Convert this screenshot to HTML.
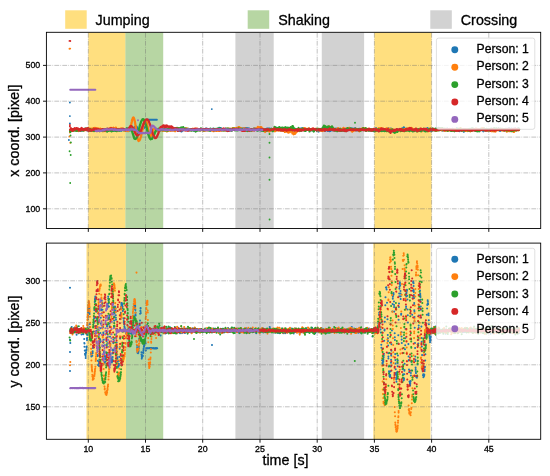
<!DOCTYPE html>
<html><head><meta charset="utf-8"><title>Coordinates over time</title>
<style>
html,body{margin:0;padding:0;background:#fff}
svg{display:block}
text{font-family:"Liberation Sans",sans-serif;fill:#000;stroke:#000;stroke-width:0.3px}
.tk{font-size:8.8px}
.lg{font-size:12.2px}
.ttl{font-size:14.3px}
</style></head><body>
<svg width="550" height="476" viewBox="0 0 550 476">
<rect width="550" height="476" fill="#fff"/>
<rect x="65.2" y="10.3" width="21.5" height="18.5" fill="#ffc000" fill-opacity="0.5"/>
<text x="95.6" y="24.9" class="ttl">Jumping</text>
<rect x="247.7" y="10.3" width="21.5" height="18.5" fill="#70ad47" fill-opacity="0.5"/>
<text x="278.2" y="24.9" class="ttl">Shaking</text>
<rect x="430.3" y="10.3" width="21.5" height="18.5" fill="#a5a5a5" fill-opacity="0.5"/>
<text x="460.8" y="24.9" class="ttl">Crossing</text>
<clipPath id="c1"><rect x="46.4" y="32.3" width="494.3" height="196.2"/></clipPath>
<g clip-path="url(#c1)">
<rect x="88.3" y="32.3" width="37.1" height="196.2" fill="#ffc000" fill-opacity="0.5"/>
<rect x="125.4" y="32.3" width="37.8" height="196.2" fill="#70ad47" fill-opacity="0.5"/>
<rect x="235.4" y="32.3" width="38.3" height="196.2" fill="#a5a5a5" fill-opacity="0.5"/>
<rect x="321.8" y="32.3" width="42.3" height="196.2" fill="#a5a5a5" fill-opacity="0.5"/>
<rect x="374.4" y="32.3" width="57.2" height="196.2" fill="#ffc000" fill-opacity="0.5"/>
<path d="M70.2,130.2l.4-.5 .4-.6 .3,1.2 .4,.6 .4,0 .4-.9 .4,0 .3,.2 .4,.3 .4-.7 .4-.4 .4,.7 .3,0 .4-.8 .4,.3 .4,.3 .4-.2 .3,.3 .4,.1 .4-.1 .4-.3 .4-.3 .3,.8 .4,.3 .4,.3 .4-.7 .4,.3 .3,.2 .4,.1 .4-.4 .4,.1 .4-.8 .3,.7 .4-.8 .4,.4 .4,.2 .4-.5 .3-.7 .4,.3 .4,.5 .4,.1 .4,.2 .3,0 .4,0 .4,.2 .4-.5 .4,.4 .3-.3 .4-.2 .4-.3 .4,.5 .4-.4 .3,1.3 .4-.9 .4-.1 .4-.1 .4,.7 .3-1.2 .4,.5 .4-.2 .4,0 .4,.3 .3,.5 .4-.7 .4,.5 .4,.6 .4-1.1 .3,.3 .4,.1 .4-.9 .4,.9 .4,.6 .3-.8 .4-.6 .4,.7 .4,0 .4,.5 .3,0 .4-.4 .4,.2 .4-.9 .4,.8 .3-.5 .4,.5 .4-.1 .4-.4 .4,.1 .3-.1 .4-.3 .4,.9 .4,0 .4-.6 .3,.6 .4-.4 .4,0 .4-.6 .4-.3 .3,1 .4-.1 .4-.5 .4-.1 .4,.1 .3,.3 .4-.1 .4-.7 .4,1.1 .4-.6 .3,.6 .4,.2 .4,.5 .4-.9 .4,1.1 .3-.2 .4,.1 .4,.2 .4-.8 .4-1 .3,1.1 .4,.3 .4-.2 .4-.6 .4,.1 .3,.2 .4-.7 .4,.5 .4,0 .4,.9 .3-1 .4,.8 .4-.7 .4-.6 .4,1.6 .3-1.2 .4,.4 .4,.6 .4-1.1 .4-.3 .3,.9 .4-.5 .4-.5 .4,0 .4,.2 .3,.4 .4-.2 .4,.4 .4,.2 .4-.1 .3-.1 .4,.2 .4-1.4 .4,1.3 .4-.3 .3-.3 .4-.3 .4-.1 .4,.3 .4,.5 .3-.3 .4,.1 .4,.1 .4,.5 .4-.3 .3-.1 .4,.1 .4-.5 .4-.3 .4-.6 .3-.2 .4-.5 .4-.4 .4-.4 .4-.4 .3,0 .4,.1 .4,.4 .4,.5 .4,.4 .3,1 .4,.6 .4,.8 .4,.6 .4,.4 .3,.7 .4,0 .4-.4 .4-.4 .4-.5 .3-.7 .4-.6 .4-.5 .4-.4 .4-.5 .3,.1 .4-.2 .4-.4 .4-.5 .4-.1 .3-.4 .4,0 .4-.3M157.2,129.8l.4,.5 .4-.4 .4-.4 .3,.6 .4,.2 .4,.1 .4-.5 .4-.7 .3,1.2 .4-.7 .4,.4 .4-.8 .4,.8 .3-.6 .4,.7 .4,.3 .4-.5 .4-.7 .3,0 .4-.2 .4,.6 .4-.2 .4,0 .3-.1 .4,.2 .4,.6 .4,.2 .4-.6 .3,0 .4-.8 .4,0 .4,.1 .4-.1 .3,.6 .4,.6 .4-.7 .4,0 .4,.4 .3,.1 .4-.4 .4,.3 .4,0 .4,.1 .3,.2 .4-.4 .4,0 .4,1.1 .4-.6 .3-.1 .4-.4 .4-.3 .4,.1 .4-.2 .3,.6 .4-.1 .4,.1 .4,.7 .4-.6 .3,.5 .4-.2 .4,.3 .4-.7 .4,.4 .3,1 .4-.8 .4-.1 .4-.5 .4,.2 .3-1.3 .4,.3 .4,.6 .4,.2 .4-.4 .3,.2 .4,0 .4-.4 .4-.4 .4,0 .3,.8 .4-.4 .4,.5 .4-.1 .4-.5 .3,.6 .4-.3 .4,.3 .4-.4 .4,.1 .3,.2 .4,0 .4-.4 .4,.4 .4,0 .3,0 .4,.6 .4-.8 .4,.4 .4,.1 .3-.4 .4-.4 .4,1 .4-.3 .4,.1 .3,0 .4-.1 .4-.5 .4,.4 .4-.8 .3,.8 .4-.8 .4,.4 .4,.4 .4-.2 .3-.5 .4,.5 .4-.4 .4-.1 .4,.1 .3,.8 .4-.3 .4,0 .4-.7 .4,.8 .3-.8 .4,.7 .4-.7 .4,1.1 .4-1.5 .3,1 .4,.2 .4-1.1 .4,.6 .4,.9 .3,.1 .4-.9 .4,.4 .4-.3 .4-.1 .3,.1 .4,1.1 .4-.7 .4-.5 .4-.2 .3,.2 .4,.2 .4-.7 .4,.7 .4-.9 .3,.3 .4,0 .4,.7 .4-.3 .4-.2 .3,.8 .4-.4 .4,0 .4-.3 .4-.3 .3,.4 .4,.2 .4-.7 .4,.4 .4-1.6 .3,.4 .4,1 .4-.7 .4-.4 .4,.4 .3,.6 .4-.1 .4,.6 .4-.4 .4,0 .3,.2 .4,.5 .4-.7 .4,.2 .4,.5 .3-.7 .4-.4 .4,.7 .4-.2 .4,0 .3,.5 .4-.4 .4,1.6 .4-1.5 .4-.2 .3-.3 .4,.6 .4,.8 .4-.6 .4,.1 .3-.7 .4,1.1 .4-.4 .4-.7 .4,.8 .3-.3 .4,0 .4-.4 .4,.2 .4-.1 .3-.4 .4-.2 .4,.3 .4-.4 .4,0 .3-.1 .4-.7 .4,.4 .4,.9 .4-.7 .3-.2 .4-.5 .4,.7 .4,.2 .4,0 .3-.2 .4,.1 .4,.1 .4,.3 .4,0 .3-.3 .4,.6 .4-.8 .4,.2 .4-.3 .3,.5 .4-.5 .4-.2 .4-.1 .4,.9 .3-.8 .4,1.1 .4-.5 .4-.5 .4,.6 .3,.6 .4-.7 .4-.4 .4,.7 .4,.3 .3,0 .4-.2 .4,.3 .4,.1 .4,.2 .3,.1 .4-.8 .4,.4 .4-.3 .4,.2 .3-.6 .4,.2 .4,.4 .4-.7 .4,.6 .3-.4 .4,.2 .4,.1 .4,.1 .4-.1 .3,.3 .4,.9 .4-1.8 .4,.6 .4,0 .3,0 .4,.7 .4-.4 .4,.3 .4,.6 .3-1.4 .4,1 .4,.2 .4-.6 .4,.5 .3-.1 .4-.2 .4,.6 .4-1 .4,.9 .3-.7 .4-.4 .4,.4 .4-.3 .4,.3 .3-1 .4,.4 .4-.1 .4,.7 .4-.9 .3,1.1 .4-1.1 .4,1.1 .4-.2 .4,.1 .3-.5 .4-.6 .4,.3 .4,1 .4-.2 .3-.4 .4,.4 .4-.5 .4,.3 .4-.3 .3,1.1 .4,0 .4-1.1 .4,.2 .4,.4 .3,.2 .4-2.1 .4,1.1 .4,.6 .4-.9 .3,.9 .4,0 .4,.2 .4-.4 .4,.6 .3-.6 .4,.6 .4-.2 .4-.4 .4-.2 .3,1.5 .4-.4 .4,.2 .4-.7 .4,.1 .3,1 .4-.4 .4-.6 .4,.5 .4,.2 .3-.1 .4-.6 .4,.6 .4-.2 .4-.5 .3-.5 .4,.2 .4,.2 .4,.1 .4-.2 .3,.4 .4-.4 .4-.3 .4-.7 .4,.5 .3-.2 .4,.6 .4,.3 .4,.5 .4-.7 .3-.4 .4,1.3 .4-.7 .4-.2 .4-.1 .3-.5 .4,.9 .4,.2 .4,.4 .4-.2 .3,.2 .4-.2 .4-.9 .4-.3 .4,.2 .3-.1 .4,.5 .4,.1 .4,.4 .4-.7 .3-1.1 .4,1 .4,.6 .4-1.5 .4,.7 .3,.1 .4-.4 .4,.6 .4,.1 .4-.7 .3,.8 .4-.1 .4-.5 .4,.3 .4,.6 .3-.5 .4,.2 .4,0 .4-.3 .4,.2 .3-.2 .4-.6 .4,.8 .4-.1 .4,.3 .3-.6 .4,.3 .4,.6 .4-.2 .4,.4 .3-.1 .4-.6 .4,.2 .4-.4 .4,.8 .3-.4 .4-.2 .4,.3 .4-.1 .4,.3 .3,.2 .4-.8 .4,.2 .4,.7 .4,.1 .3-.2 .4,1.2 .4-.7 .4-.7 .4,.4 .3,.1 .4-.5 .4-.8 .4,.6 .4-.1 .3,.7 .4-1.6 .4,1.5 .4-.8 .4,.4 .3-.2 .4,.1 .4,.6 .4-.3 .4,.3 .3-.7 .4-.1 .4,.2 .4,0 .4,.1 .3,.8 .4-.9 .4-.4 .4,.8 .4,.7 .3-.4 .4,0 .4,.2 .4-.7 .4,0 .3-1.1 .4,.7 .4,.5 .4-1 .4-.4 .3,.4 .4,.5 .4,.3 .4,.5 .4-.5 .3-1.1 .4-.2 .4,.9 .4,.2 .4-1.1 .3,.6 .4,.1 .4,.2 .4-.1 .4,.3 .3,.2 .4-.6 .4,.5 .4,.4 .4-1.3 .3,.3 .4,.6 .4,.6 .4-.8 .4,.1 .3-.5 .4,.7 .4-.7 .4,.7 .4-.2 .3-.1 .4,.5 .4-.2 .4-.5 .4,.5 .3-1.2 .4,.8 .4,.6 .4-1 .4-.1 .3-.1 .4,.3 .4-.7 .4,.9 .4-.5 .3-.2 .4,.5 .4,.2 .4-.8 .4,1.3 .3-.9 .4-.5 .4,1.1 .4-.5 .4,.2 .3,.4 .4-.8 .4-.9 .4,1 .4,.5 .3,.6 .4-.5 .4,.1 .4,.4 .4-.7 .3,.1 .4,0 .4-.7 .4,1 .4-1 .3,.5 .4,0 .4-.1 .4,.4 .4,.3 .3,.2 .4-.2 .4-.5 .4,.1 .4-1 .3,1 .4,.3 .4,0 .4-.6 .4,0 .3,1.3 .4-1 .4-.4 .4,.2 .4,.4 .3,.2 .4-.4 .4,.7 .4-.3 .4,.1 .3,.3 .4-.2 .4,.3 .4-.2 .4,.1 .3,.4 .4-.6 .4,.4 .4-.1 .4,.2 .3-.2 .4,.5 .4-.6 .4,0 .4,.5 .3-2.2 .4,.5 .4-.8 .4,1 .4,.4 .3,.6 .4,.5 .4-1 .4,1.1 .4-.5 .3,.4 .4-.2 .4,.3 .4-.5 .4,.1 .3-.1 .4-.2 .4-.3 .4,.5 .4-.4 .3-.3 .4,1.1 .4,0 .4,0 .4-.3 .3,.2 .4-.4 .4-.5 .4,.6 .4-1.4 .3,.1 .4,.1 .4-.1 .4,1.3 .4-2 .3,.3 .4,.4 .4,1.2 .4-1.4 .4,.2 .3,.8 .4-1.4 .4,.7 .4,.6 .4,.1 .3,.8 .4,.6 .4-.1 .4,.2 .4-.4 .3-.2 .4-.5 .4-.3 .4,1.2 .4-.5 .3,0 .4-1.1 .4,.3 .4,0 .4-.4 .3,.4 .4-.2 .4,0 .4-.4 .4,.3 .3-.3 .4,.2 .4-.5 .4-.1 .4,.6 .3-1 .4,.3 .4-.1 .4-.6 .4,.8 .3-1.6 .4,1.4 .4,.2 .4-.4 .4,.5 .3,.2 .4-.1 .4-.5 .4,.7 .4,.5 .3-.8 .4,.9 .4-.7 .4-.1 .4,.5 .3-.6 .4,.3 .4,.6 .4-.3 .4-.4 .3,.2 .4-.3 .4-.2 .4,.1 .4,.3 .3,.3 .4,1.4 .4-.7 .4-.1 .4,.3 .3-.3 .4,0 .4-1.3 .4,1 .4-.6 .3,.6 .4-.1 .4-.7 .4,1.5 .4-.7 .3,.1 .4-1.1 .4,.5 .4,.1 .4-.1 .3,.2 .4,1.3 .4-1 .4-.2 .4,.6 .3-.7 .4-.1 .4,.8 .4-.7 .4-.5 .3,.1 .4-.5 .4,0 .4,.4 .4-.1 .3,0 .4-.2 .4-.7 .4,.3 .4,.7 .3,.1 .4,.6 .4-.5 .4-.1 .4,.7 .3-1.2 .4,1 .4,1.3 .4-2.1 .4,1.2 .3-1.4 .4,.8 .4,.6 .4,0 .4-.9 .3-.1 .4-.1 .4,.6 .4-.9 .4,.6 .3,.2 .4,.1 .4-.2 .4-.3 .4-.4 .3,.8 .4-1.7 .4,1.8 .4-.6 .4,.3 .3-.1 .4,.4 .4,0 .4-.3 .4-.3 .3,1 .4-.6 .4,1 .4-.7 .4-.5 .3,.7 .4,.4 .4-.5 .4,.1 .4,.5 .3-1.2 .4,.1 .4,.5 .4-.5 .4-.8 .3,.4 .4,.8 .4,.2 .4-.1 .4-.1 .3-.5 .4,.7 .4,.3 .4-.9 .4,.7 .3-.5 .4-.1 .4,.2 .4-.8 .4,1.3 .3-.9 .4,.3 .4-.1 .4,.4 .4-.1 .3-.4 .4,.8 .4-.7 .4-.3 .4-.8 .3,1.1 .4,.1 .4-.1 .4,.2 .4,.6 .3,.6 .4,.1 .4-.3 .4-.9 .4,.3 .3-.7 .4,1.1 .4-.3 .4-.6 .4,.3 .3,0 .4,.2 .4,.8 .4,.7 .4-1 .3,.1 .4-.5 .4-.4 .4,1 .4-1.1 .3,.3 .4-.3 .4,.5 .4-.2 .4,.4 .3-.9 .4,.3 .4,.5 .4-.9 .4,.1 .3,.8 .4-.3 .4,.3 .4-1.5 .4,.9 .3-.6 .4,0 .4,.5 .4,.3 .4-.9 .3,.2 .4,0 .4,.1 .4-.4 .4,1.6 .3-.6 .4-.4 .4-.2 .4,1.3 .4,.1 .3-1.1 .4,.4 .4,.2 .4-1 .4,.2 .3,1 .4-.8 .4-.4 .4-.4 .4,.3 .3,.8 .4-.5 .4,.2 .4,.5 .4,1.1 .3-.6 .4-.6 .4,.4 .4,.1 .4-.2 .3-.8 .4,.9 .4-.4 .4,.4 .4-1 .3,1 .4-.7 .4-.4 .4,.9 .4-.8 .3,.1 .4-.2 .4,.6 .4,0 .4,0 .3-.1 .4-.7 .4-.2 .4,.9 .4-.7 .3,.5 .4,0 .4-.8 .4,.2 .4,.1 .3,0 .4,.2 .4,.4 .4,0 .4-.9 .3,.1 .4,1.1 .4-.4 .4,.1 .4-1.2 .3,.9 .4,.5 .4-.2 .4,1.1 .4-.6 .3,.2 .4-.3 .4-.1 .4-.2 .4-.4 .3,.1 .4,.4 .4,0 .4,.3 .4-1 .3,.5 .4,0 .4,.6 .4-1 .4,.4 .3-.7 .4,.5 .4-.1 .4-.4 .4,0 .3,0 .4,.3 .4-.8 .4,1.3 .4-.6 .3,.9 .4-.2 .4-.9 .4-.4 .4,1.3 .3-.6 .4-.2 .4-.3 .4,0 .4,.4 .3,.1 .4-.5 .4,1 .4-.5 .4-.3 .3,.8 .4-.4 .4,.5 .4-.6 .4,.2 .3-.7 .4,.7 .4-.9 .4,.6" stroke="#1f77b4" stroke-width="2.3" stroke-linecap="round" stroke-linejoin="round" fill="none"/>
<path d="M69.9,102.5h0M69.9,116.1h0M69.9,123.4h0M68.9,140h0M211.8,109.1h0M146.6,119.8H156.9" stroke="#1f77b4" stroke-width="1.9" stroke-linecap="round" fill="none"/>
<path d="M70.2,129.9l.4,0 .4,.8 .3-.3 .4-.6 .4,.6 .4-.2 .4,.6 .3-1.6 .4,.4 .4,0 .4,.4 .4-.2 .3-.3 .4-.3 .4,.9 .4,.7 .4,.1 .3-.8 .4,.4 .4-.5 .4-.3 .4,1.3 .3-.5 .4-.4 .4-.4 .4,.5 .4-.5 .3,0 .4,.2 .4-.1 .4-.3 .4-.1 .3,.7 .4-.8 .4-.1 .4,1.1 .4-.1 .3,.2 .4-.5 .4,.2 .4-1.1 .4,.7 .3-.2 .4,0 .4,.2 .4-.8 .4,.3 .3-1 .4,.7 .4,0 .4-.3 .4,.3 .3,.1 .4-.2 .4,.3 .4-.5 .4,.9 .3-.4 .4-.3 .4,.7 .4-1.2 .4,1.1 .3-.4 .4,.1 .4-1.2 .4,.1 .4,.3 .3,.4 .4,0 .4,0 .4,0 .4-.3 .3-.1 .4,.5 .4,.3 .4,.6 .4-.8 .3,.9 .4-1.1 .4,1.2 .4-.6 .4,.9 .3-.2 .4,0 .4,.6 .4,.7 .4-1 .3,.4 .4,.1 .4,.2 .4-.1 .4,.1 .3-.8 .4,.4 .4-.3 .4-.5 .4,.6 .3-.7 .4,.2 .4-.6 .4-.2 .4,.2 .3,.2 .4-.9 .4,.1 .4,.7 .4-1.6 .3,1.8 .4-.3 .4-.8 .4,.5 .4-.6 .3,.5 .4-1.1 .4,.7 .4,.3 .4,0 .3,.2 .4-.2 .4-1.2 .4,1.1 .4,0 .3,.4 .4-.1 .4,.4 .4-.1 .4,.8 .3-1.1 .4,.9 .4-.5 .4-.4 .4-.4 .3,1.1 .4-1.3 .4,1.3 .4-.1 .4-.1 .3-.3 .4,.6 .4,.2 .4,.3 .4-.1 .3,0 .4,.1 .4-.5 .4,.9 .4-.2 .3-.3 .4,.1 .4,.2 .4-.6 .4,1.2 .3-.1 .4-1.4 .4,.7 .4-.6 .4-.6 .3-1.1 .4-1.5 .4-1.5 .4-1.4 .4-1.9 .3-1.8 .4-.9 .4-1.1 .4-.5 .4,.3 .3,.7 .4,1.5 .4,1.4 .4,2.1 .4,2.6 .3,2.6 .4,2.2 .4,2.8 .4,2.1 .4,1.6 .3,2.1 .4,.7 .4,.9 .4-.2 .4-.4 .3-.3 .4-.9 .4-1.3 .4-1.3 .4-1.6 .3-1.7 .4-1.9 .4-1.6 .4-1.9 .4-1.6 .3-1.7 .4-1.3 .4-1.3 .4-.6 .4-.8 .3,.1 .4-.2 .4,.5 .4,1.1 .4,1.5 .3,1.7 .4,1.9 .4,2.4 .4,1.7 .4,1.8 .3,1.8 .4,.7 .4,.9 .4,.2 .4-.6 .3-.6 .4-1 .4-1.7 .4-1.2 .4-.9 .3-1 .4-.3 .4-.3 .4-.2 .4-.1 .3,.2 .4,.6 .4-.5 .4,1 .4-.5 .3,0 .4,.9 .4-.8 .4-.3 .4,.4 .3-.6 .4,.8 .4,.4 .4-.2 .4-.5 .3,.3 .4,.1 .4,.3 .4-.7 .4,.1 .3,.8 .4-.3 .4,.1 .4,.4 .4-.5 .3,0 .4,.2 .4-.4 .4-.2 .4,.3 .3-.1 .4,1.2 .4-1.3 .4,.1 .4,.9 .3-1 .4-.1 .4-.7 .4,1 .4,.1 .3,.4 .4-.3 .4,.4 .4-.4 .4,.1 .3-.2 .4,.3 .4-1 .4,.3 .4-1.1 .3,1.6 .4,.2 .4-.5 .4,1.1 .4-1.5 .3,.1 .4-.6 .4,.1 .4,0 .4-.6 .3,.1 .4,1.2 .4-1 .4,.5 .4-1.2 .3,.5 .4,.5 .4-.3 .4-.3 .4,.1 .3,.2 .4,.6 .4-.1 .4-1 .4-.3 .3,.9 .4,.3 .4,.2 .4,0 .4-.7 .3,1.4 .4-.9 .4-1.1 .4,1.1 .4-.1 .3,.2 .4-.9 .4,.6 .4,.2 .4-.2 .3,.3 .4,.2 .4,.2 .4-.1 .4-.5 .3,.7 .4-.8 .4,.2 .4-.2 .4-.2 .3-.4 .4,1.4 .4-.5 .4,.3 .4,.1 .3-1 .4-.2 .4,1 .4,.1 .4-.3 .3-.3 .4-.5 .4,.7 .4-.3 .4,.7 .3,.2 .4-.7 .4,.7 .4,.1 .4,.2 .3,.1 .4-.4 .4,0 .4,.2 .4-.1 .3,.1 .4,.1 .4,.3 .4,0 .4,.3 .3-1.7 .4,.7 .4-.8 .4,.7 .4-.6 .3,1.3 .4-.1 .4-1.2 .4,.4 .4,.4 .3,.4 .4-.7 .4-.4 .4-.2 .4,.3 .3,.2 .4-.5 .4,.1 .4,1 .4-1 .3,.5 .4,.7 .4-.2 .4,.8 .4-.9 .3,1 .4-1.4 .4-.2 .4,.2 .4,.5 .3-.3 .4-.4 .4,1.3 .4-.7 .4,.4 .3,.3 .4-.4 .4,.5 .4,0 .4-.5 .3,.5 .4-.8 .4-.5 .4,.6 .4-.6 .3,.6 .4-.3 .4-.1 .4,.6 .4-.2 .3-1.5 .4,1.3 .4,.3 .4-.1 .4-.6 .3-.3 .4,.4 .4,.7 .4-1.4 .4,.1 .3,.5 .4-1 .4,.5 .4,.6 .4-1 .3,.5 .4-.6 .4,.5 .4,.1 .4,.4 .3-.7 .4,.4 .4-.4 .4-.3 .4,.8 .3-1.3 .4,.4 .4,1.3 .4-.4 .4-1.2 .3,.8 .4-.2 .4,0 .4-.7 .4,.9 .3-.6 .4,1.3 .4-.7 .4-.2 .4,.4 .3-2.1 .4,.4 .4-.3 .4,1 .4,1.1 .3-.5 .4,.1 .4-.6 .4,.5 .4,.5 .3,.3 .4-.6 .4,.1 .4,.3 .4-.2 .3-.9 .4,1.4 .4-.1 .4-.2 .4-.7 .3,.1 .4,.9 .4-.5 .4-.1 .4,.7 .3,.5 .4-.1 .4,.1 .4,0 .4-1.3 .3,1 .4-.5 .4,.1 .4,.4 .4-.1 .3,.4 .4-.6 .4-.2 .4-.4 .4,.1 .3-.6 .4,.9 .4-.2 .4-.1 .4-.7 .3,.2 .4,.5 .4-.5 .4,.2 .4-.3 .3-.5 .4-1.2 .4,.3 .4,1 .4-.1 .3,.2 .4-.5 .4-.8 .4,.7 .4-.3 .3-.3 .4,.9 .4,1 .4-.5 .4,1.3 .3,.3 .4-.9 .4,1.8 .4-.1 .4,.2 .3,.9 .4-.8 .4-.3 .4-.1 .4-.3 .3,.4 .4-.7 .4,.5 .4,0 .4,.1 .3-.1 .4,.8 .4-1.8 .4,.2 .4,.1 .3-.3 .4,.5 .4-1.2 .4,1.1 .4-.6 .3,.4 .4-.4 .4,.5 .4,.6 .4-.5 .3,.2 .4,.9 .4-1 .4,.5 .4-.9 .3,.2 .4-.8 .4,.6 .4-.1 .4,.7 .3,.2 .4,0 .4-.2 .4-1.1 .4,.2 .3-.4 .4,.2 .4,1.3 .4-.6 .4-.6 .3,1.3 .4,.1 .4-.9 .4,0 .4-.5 .3-.3 .4,1.4 .4,1.4 .4-2 .4,0 .3,1.6 .4,.2 .4-.1 .4-.2 .4,0 .3,.7 .4,.5 .4-.4 .4,.2 .4-.5 .3,.2 .4-.6 .4-1.1 .4,.8 .4-.1 .3,.3 .4,0 .4,2 .4-.7 .4,.5 .3,1 .4-.2 .4-.9 .4-.8 .4,1.4 .3-.9 .4-.7 .4,.1 .4-1 .4,0 .3-.1 .4-.4 .4-.8 .4,.9 .4-.3 .3,.5 .4-.9 .4-.1 .4-.1 .4-.6 .3,.2 .4-.1 .4,0 .4-.3 .4,.1 .3,.2 .4-.6 .4-.7 .4,.7 .4,1 .3,0 .4-1.5 .4,.4 .4,.9 .4-.3 .3,0 .4-.1 .4,.1 .4-.6 .4,1 .3-1.2 .4,.5 .4,.8 .4,0 .4-.7 .3,.2 .4-.2 .4,0 .4,0 .4,.7 .3-1 .4,.6 .4,0 .4,.2 .4-.2 .3,.4 .4-.3 .4,0 .4-.1 .4-.7 .3,1.1 .4,.2 .4-.6 .4,0 .4,.2 .3-.3 .4,1.1 .4-.6 .4,.7 .4-.1 .3-.9 .4,1 .4,0 .4,.2 .4,0 .3,.3 .4-.9 .4,.7 .4-2.5 .4-.8 .3,1.2 .4-1.2 .4,.2 .4-.5 .4,.5 .3-.1 .4,0 .4-.7 .4,.6 .4,.5 .3-.6 .4-.3 .4-.6 .4-.1 .4,.6 .3,1.2 .4,.3 .4-.3 .4-.6 .4,1 .3-1.8 .4,1.1 .4,.3 .4,.7 .4-.8 .3,.6 .4,.8 .4-.4 .4,.5 .4,0 .3,.5 .4,.4 .4-.9 .4-.5 .4,.3 .3,0 .4,.3 .4-1.5 .4,.5 .4,2 .3-1.1 .4-.3 .4,.5 .4-1.1 .4,.6 .3,.4 .4,.6 .4-.6 .4,.1 .4-.9 .3,.3 .4-1.3 .4,.3 .4,1.2 .4,.2 .3,.9 .4-.6 .4-.1 .4-1.4 .4,.3 .3,.5 .4,.7 .4-.2 .4-1 .4-.3 .3,.3 .4-.8 .4,1.3 .4-.1 .4,1 .3-.7 .4,.8 .4-.3 .4,.6 .4,1.2 .3-1.3 .4,0 .4,.3 .4-1.1 .4,.8 .3-.2 .4,.2 .4-1.2 .4-.5 .4,.8 .3-.4 .4,.5 .4,.2 .4-.4 .4,.5 .3-.2 .4,.6 .4,0 .4,.9 .4-.8 .3,0 .4-.7 .4,.6 .4-.2 .4-.6 .3-.2 .4-1.1 .4,.1 .4,.5 .4-.5 .3,.8 .4,0 .4-.8 .4,.4 .4,.5 .3,.4 .4-.6 .4,.6 .4,.4 .4,0 .3-.9 .4-.3 .4,1.5 .4-.1 .4-.9 .3,.7 .4-.3 .4-.3 .4,.8 .4-.7 .3,.8 .4,.1 .4-.9 .4,.9 .4-1.3 .3,1.1 .4-.5 .4,1.1 .4-1 .4-.2 .3,.8 .4-1.5 .4,.8 .4-.5 .4,1.2 .3-.9 .4,.5 .4-.7 .4-.6 .4-.5 .3,1.8 .4-.8 .4-.6 .4,.4 .4,.5 .3-1.3 .4,1.5 .4-1.1 .4,.1 .4,1 .3,.1 .4-.5 .4,.7 .4-.2 .4,.4 .3-.9 .4-.2 .4,.7 .4-.4 .4-1 .3,.5 .4,.8 .4-1 .4,1 .4-.8 .3,.5 .4-.6 .4,.3 .4,.5 .4,.2 .3,.2 .4,.7 .4-1.6 .4,1.1 .4-.1 .3-.6 .4,.6 .4-.3 .4,.6 .4-.2 .3,.6 .4-.6 .4,.9 .4-.5 .4,.7 .3-1 .4-.3 .4,.6 .4-.3 .4,0 .3,.2 .4-.1 .4-.4 .4,0 .4-.4 .3,.5 .4-.8 .4,1.7 .4-.7 .4,.2 .3-1.1 .4,.8 .4-.2 .4,.4 .4,.1 .3-1.4 .4,1.1 .4-.9 .4,.8 .4-.6 .3-.3 .4,.8 .4-.4 .4-.6 .4-.3 .3,.4 .4-.7 .4,.2 .4,1.3 .4-1.2 .3,.7 .4-.2 .4,.2 .4,0 .4-1.5 .3,.8 .4,.5 .4-.7 .4,1.4 .4-.3 .3-.5 .4,1.1 .4,.7 .4-1.3 .4,.7 .3-.9 .4,.1 .4,.3 .4,0 .4,.2 .3,.1 .4,1 .4-1.4 .4-.2 .4,1.1 .3-.5 .4-.9 .4,1.5 .4-1.1 .4-.6 .3,1.1 .4,.1 .4,1 .4-1.6 .4,0 .3,.4 .4-.2 .4,0 .4-.4 .4-.3 .3,.8 .4,.3 .4,.1 .4-.6 .4,.4 .3,.2 .4-.5 .4,.2 .4,.1 .4,1.1 .3-1.1 .4-.8 .4,.2 .4-.2 .4,.8 .3-1.6 .4,.2 .4,.7 .4,0 .4-.1 .3,.2 .4-.8 .4,.8 .4-.4 .4-.2 .3,1.1 .4-.7 .4,.5 .4,.6 .4-1 .3,.7 .4,.8 .4-1 .4,.3 .4-.2 .3-.8 .4,.1 .4,.4 .4-1.1 .4,1.1 .3-.1 .4,.2 .4,.1 .4,.4 .4-1.2 .3,1 .4-.1 .4,.2 .4-.1 .4,.1 .3-.5 .4,.7 .4,.3 .4-.9 .4-.2 .3,0 .4,.6 .4,.2 .4,.2 .4,.2 .3-.1 .4-.6 .4-.3 .4-.2 .4,1 .3-.2 .4-.4 .4,.1 .4,.1 .4-1.1 .3,1.1 .4,0 .4-.1 .4-.3 .4,.3 .3,.2 .4,.5 .4-.7 .4-.2 .4-.1 .3-.8 .4,.3 .4-.2 .4,.4 .4,.4 .3,0 .4,0 .4-.2 .4,.3 .4-.6 .3-.7 .4,.9 .4-.2 .4-.9 .4,.7 .3-.9 .4,1.4 .4,.9 .4-1 .4,.9 .3-.5 .4-.4 .4-.4 .4,1.2 .4-.1 .3-.9 .4,.9 .4,.5 .4-1 .4,.6 .3-.9 .4,.6 .4,.9 .4-1 .4-.2 .3,0 .4,.5 .4-.3 .4,.8 .4-.1 .3,.5 .4-1 .4,.4 .4-.4 .4-.4 .3,.3 .4,.2 .4-.2 .4-.3 .4-.6 .3,.4 .4-.2 .4,0 .4,.1 .4,.8 .3-1.6 .4,.4 .4-.4 .4,1.1 .4,.2 .3,0 .4-.7 .4-.1 .4,.2 .4-.2 .3,.1 .4-.1 .4,.1 .4-.4 .4,.3 .3-.8 .4,.2 .4-.5 .4,.6 .4,.1 .3,.7 .4,.7 .4-.9 .4,.1 .4,.5 .3,.4 .4,0 .4,0 .4-.1 .4-.1 .3,.3 .4,.3 .4,0 .4-.2 .4-.6 .3,.1 .4,0 .4,.1 .4,.8 .4-.9 .3,.7 .4,.5 .4,0 .4-.4 .4,.2 .3-.9 .4,.1 .4,1.1 .4-.4 .4-.1 .3-.6 .4,1.3 .4-.6 .4-1.2 .4-.9 .3,1.1 .4-.3 .4,.3 .4,.5 .4-.6 .3-.4 .4-.2 .4,0 .4-.3 .4,.3 .3,.3 .4-.4 .4,.2 .4,1.1 .4-.8 .3,.7 .4,.3 .4-.8 .4,.1 .4-.4 .3-.1 .4,.7 .4,.1 .4,.1 .4,0 .3,.2 .4,1.1 .4-.7 .4-.2 .4,.2 .3-1 .4,.6 .4,.5 .4-.6 .4,.7 .3-.4 .4,.1 .4-.1 .4-.1 .4,.4 .3-.3 .4,.5 .4-.2 .4-.4 .4-.2 .3,1.5 .4-1.8 .4,.8 .4-1.4 .4,0 .3,.8 .4-1.1 .4,.1 .4,.5 .4-.1 .3,.1 .4,.3 .4,.3 .4-.5" stroke="#ff7f0e" stroke-width="2.3" stroke-linecap="round" stroke-linejoin="round" fill="none"/>
<path d="M69.5,48.7h0M70.2,48.6h0M69.9,132.5h0M69.5,136.5h0M70.3,142.7h0" stroke="#ff7f0e" stroke-width="1.9" stroke-linecap="round" fill="none"/>
<path d="M70.2,131.3l.4-.6 .4-1.7 .3,1.5 .4,0 .4-.6 .4,0 .4,.4 .3-.3 .4,.2 .4,.2 .4-.6 .4,.3 .3-.5 .4,.9 .4-.7 .4,.6 .4,.4 .3,0 .4-1 .4,.3 .4-.4 .4,.5 .3-.4 .4-.1 .4,.2 .4,.1 .4,.6 .3-.2 .4-.3 .4,0 .4-.1 .4,.2 .3-.6 .4,0 .4,.9 .4-.9 .4-.3 .3-.2 .4,.5 .4-.9 .4,0 .4,.8 .3-.2 .4,.5 .4-1.3 .4,.9 .4-.3 .3,.7 .4-.6 .4,.4 .4,.6 .4-.2 .3-1 .4,1.6 .4-.5 .4,0 .4,0 .3-.2 .4,.6 .4-.6 .4-.8 .4,.3 .3,1.6 .4-.2 .4-.2 .4-.8 .4,.6 .3,0 .4-.4 .4,.4 .4,.1 .4,.1 .3-.4 .4,.1 .4-.7 .4,.5 .4,.5 .3,.5 .4-.8 .4,.6 .4-.5 .4-.3 .3,.6 .4-.1 .4-.8 .4,.1 .4,.4 .3-.3 .4,.5 .4-.8 .4,.7 .4-.8 .3,.5 .4-.8 .4,1.3 .4,0 .4,1 .3-1.7 .4,0 .4,1 .4-.1 .4-1.7 .3,1.2 .4,.2 .4,.2 .4-.5 .4-.7 .3,0 .4,1.8 .4-.9 .4,.4 .4-.5 .3,.4 .4-.3 .4-.3 .4,.1 .4-.5 .3,.7 .4,.5 .4-.6 .4-.4 .4,1.2 .3-.3 .4-.9 .4-.8 .4,1.5 .4,0 .3-.9 .4,.8 .4-1.2 .4,.3 .4-.3 .3,.3 .4-.3 .4,.7 .4-.6 .4,.4 .3,0 .4,.2 .4-.6 .4,.2 .4,.7 .3-.4 .4-.8 .4,.2 .4-.5 .4,0 .3-.2 .4-.2 .4,.8 .4,.2 .4-.2 .3-.6 .4,.3 .4-.2 .4,1 .4,.7 .3-2.3 .4,1.6 .4,0 .4,.2 .4,.6 .3,.7 .4,1.4 .4,1.2 .4,1.3 .4,1.3 .3,1.1 .4,1.1 .4,.2 .4,.2 .4-.1 .3-.2 .4-.3 .4-1 .4-1.1 .4-1.2 .3-1.1 .4-1.6 .4-1.4 .4-1.7 .4-1.5 .3-1.5 .4-1.6 .4-.9 .4-1.5 .4-.8 .3-.9 .4-.5 .4-.7 .4-.1 .4-.2 .3,.2 .4,.5 .4,.8 .4,.6 .4,1.2 .3,1.5 .4,.8 .4,1.2 .4,1.6 .4,1.6 .3,1.8 .4,1.4 .4,1.5 .4,1.1 .4,1.2 .3,1.1 .4,.7 .4,.9 .4,.2 .4,.3 .3-.3 .4-.2 .4,.1 .4-.7 .4-.6 .3-.3 .4-.9 .4-1 .4-1.1 .4-.7 .3-.9 .4-.9 .4-.7 .4-.6 .4-.5 .3-.6 .4-.3 .4,.2 .4-.2 .4-.4 .3,.2 .4-.1 .4,0 .4,.4 .4,.8 .3-.2 .4-.5 .4,.1 .4,.5 .4-.3 .3,.4 .4-.4 .4-.5 .4-.6 .4,.8 .3,.1 .4,.2 .4,.9 .4-.5 .4-.3 .3,.4 .4-.5 .4,1 .4-1.2 .4-.4 .3,.2 .4,1 .4-.8 .4-.3 .4,.4 .3,0 .4-.5 .4,.5 .4-.5 .4,.8 .3-1 .4,.1 .4-.2 .4,.1 .4,.2 .3,.2 .4-.7 .4,1.4 .4-1 .4,0 .3-.8 .4,.4 .4,.4 .4-1 .4,.3 .3-.1 .4,0 .4,.8 .4-.4 .4,1.1 .3-1.2 .4,.5 .4,0 .4-.8 .4-.6 .3,.4 .4,.1 .4-.4 .4,.7 .4-1.1 .3,1 .4,1 .4-.4 .4,.5 .4-.8 .3,.1 .4,1.1 .4-.5 .4,.3 .4-.6 .3,.9 .4-.1 .4-.8 .4,1 .4,.4 .3,0 .4-.4 .4,.5 .4-.9 .4-.1 .3,.8 .4,.3 .4-1.3 .4,1.1 .4-.2 .3-.5 .4,.5 .4-.2 .4,.9 .4-.2 .3-.3 .4,.5 .4,.7 .4-.5 .4-.5 .3,.2 .4-.9 .4,.5 .4,.3 .4-.5 .3-.5 .4,.2 .4-.6 .4,1.3 .4-.1 .3-1.1 .4-.9 .4,.8 .4-.4 .4,0 .3,.7 .4,0 .4,0 .4,.7 .4-.4 .3-.5 .4,.8 .4-.8 .4,.4 .4-.5 .3,.5 .4-.1 .4-.1 .4,.2 .4,0 .3,0 .4,.4 .4-.9 .4,.7 .4,.6 .3-.6 .4-1.2 .4,1.2 .4-.3 .4,.2 .3,0 .4,0 .4,.1 .4-.2 .4,.3 .3-1.2 .4,.2 .4,.3 .4,.8 .4-1.1 .3,.1 .4,.4 .4-.4 .4-.2 .4-.3 .3,1.1 .4-1.2 .4,1 .4-.1 .4-.7 .3,.7 .4-1 .4,.9 .4-.5 .4,.6 .3,.3 .4,.5 .4,.1 .4-.5 .4-.7 .3,.1 .4,1.1 .4-1 .4,.6 .4,.5 .3-.2 .4-.9 .4-.6 .4,1.5 .4-.8 .3-.8 .4,.4 .4,.6 .4-.8 .4,1.1 .3,0 .4,.4 .4-.7 .4-.7 .4,.1 .3,.8 .4-.1 .4,.8 .4-1.1 .4,.2 .3-.1 .4-1 .4,1.4 .4-.4 .4-.5 .3,1 .4,.4 .4-.6 .4-.2 .4,.3 .3-.2 .4,.6 .4-.3 .4,.3 .4-.3 .3-1.7 .4,1.4 .4,0 .4-.2 .4-.8 .3,.3 .4,.9 .4-.4 .4,.2 .4-.7 .3,.7 .4,.5 .4-.2 .4,.2 .4,0 .3-.1 .4-.7 .4,.2 .4,0 .4,.9 .3,.3 .4-1.2 .4,.2 .4,.8 .4,.4 .3-.5 .4,0 .4-.1 .4,.1 .4-.2 .3,.3 .4-.1 .4-.5 .4,.6 .4-1.3 .3,.4 .4-.3 .4,.7 .4-.2 .4-.7 .3,.4 .4-.5 .4-.2 .4,.4 .4,.5 .3,.1 .4-.6 .4,.2 .4,.5 .4,.5 .3-.3 .4-.5 .4-.3 .4,.8 .4,0 .3-.3 .4-.1 .4-.1 .4,.1 .4,.3 .3-.5 .4,1 .4-.1 .4-.6 .4,.3 .3,.7 .4-1.2 .4,.3 .4-.1 .4-.1 .3,.4 .4-.2 .4,.1 .4-.1 .4-.2 .3,.8 .4-.5 .4-.3 .4,.2 .4-.3 .3,.1 .4,0 .4-.3 .4-.2 .4,.6 .3,.3 .4-.9 .4,0 .4,.5 .4,.3 .3,1.1 .4-1 .4-1.2 .4,.1 .4,.1 .3-2.2 .4,.1 .4,.4 .4,.1 .4,1.1 .3,.3 .4-.5 .4,1 .4-1.3 .4,.9 .3-.9 .4-.1 .4-1 .4,1.1 .4-.3 .3,2.2 .4-2.1 .4,.2 .4,.1 .4-.7 .3,1.1 .4-.4 .4-.6 .4,1 .4,.8 .3,.2 .4-.9 .4-.2 .4-1.3 .4,2.2 .3-.7 .4-1 .4,.2 .4,.8 .4-.1 .3-1.1 .4,.3 .4,.5 .4-.3 .4,.6 .3-.2 .4,0 .4-1.2 .4,2.7 .4-1.2 .3-.2 .4-.5 .4-2 .4,.2 .4,2 .3-.5 .4,.8 .4,1.3 .4-.6 .4,.6 .3-.7 .4,0 .4,.3 .4,0 .4-.2 .3,0 .4,0 .4,.1 .4-1.4 .4,1.8 .3-.9 .4,1.7 .4-.8 .4,.6 .4-.8 .3,1 .4-.4 .4-.2 .4-.3 .4-1.2 .3,.6 .4,.1 .4,.9 .4,.1 .4,.5 .3-.4 .4,.6 .4-1.1 .4,.3 .4-.4 .3-.3 .4-.2 .4,.7 .4-.1 .4-.1 .3-.1 .4-.1 .4,1.9 .4-1.4 .4-.5 .3-.1 .4,0 .4-.3 .4,1.1 .4-.9 .3,.8 .4,0 .4-.4 .4,1.8 .4-1.9 .3-.3 .4,.3 .4-.5 .4,.7 .4-.2 .3-.6 .4,1.5 .4-1.2 .4-.6 .4,1 .3,0 .4-.7 .4,0 .4,.3 .4-.2 .3,.5 .4,0 .4-.6 .4,.1 .4-.4 .3,.9 .4-1.4 .4,1 .4-2.3 .4,.1 .3-1.4 .4,1.4 .4-.1 .4-.7 .4,3 .3-1.6 .4-.3 .4,.3 .4-.2 .4,.7 .3-1.4 .4-.2 .4,.8 .4-.2 .4-.5 .3,.7 .4-.2 .4,.3 .4,.2 .4,1.7 .3-1.2 .4-1.7 .4,.7 .4,1.5 .4-.2 .3,.1 .4,1.8 .4-.7 .4-.5 .4,.1 .3,1 .4,.3 .4-.2 .4,.1 .4-.4 .3,1.1 .4-1.4 .4,.2 .4-.1 .4-.6 .3,.7 .4,.7 .4-1.6 .4,1 .4,.9 .3-.3 .4-.6 .4,.1 .4-.2 .4,0 .3-.3 .4,.8 .4,.2 .4,.1 .4-.8 .3-.2 .4,.5 .4,.9 .4-1.9 .4,.3 .3,.7 .4-1.4 .4-.7 .4,1.5 .4,.3 .3-.1 .4-.3 .4,0 .4-.9 .4,.6 .3-.7 .4,0 .4,.4 .4-.1 .4,.4 .3,0 .4,.2 .4,.2 .4-.4 .4-.3 .3,.4 .4,.1 .4,.2 .4,.4 .4-.7 .3,.2 .4,.1 .4-.2 .4,.3 .4-.3 .3,.4 .4,.4 .4-.9 .4,1.1 .4-.9 .3,.7 .4,.3 .4-.9 .4-.4 .4,.2 .3-.1 .4,0 .4,.6 .4-1.7 .4,1.4 .3-.8 .4,.6 .4-.1 .4,1 .4-1.2 .3-.8 .4,2.4 .4-1 .4,0 .4-.2 .3-.2 .4,.6 .4-.8 .4,1.4 .4-1.1 .3,.7 .4,.2 .4-.8 .4,.5 .4-.5 .3-.2 .4,.2 .4,.9 .4,.2 .4-.9 .3,1 .4-1 .4,.8 .4,.5 .4-1.1 .3,1.3 .4-.5 .4-1 .4,.7 .4-.5 .3-.2 .4-.1 .4-.1 .4-.1 .4,1.1 .3-.8 .4,0 .4,.7 .4,.4 .4,0 .3-.3 .4-.2 .4,.7 .4-.3 .4-.9 .3-.1 .4-.2 .4,1 .4-.4 .4,1 .3-.2 .4-1.1 .4,1.1 .4-.1 .4-.7 .3,1 .4-.5 .4,.2 .4,.2 .4-.6 .3,.9 .4-.2 .4-.2 .4-.7 .4,1.7 .3-1.6 .4,.2 .4,0 .4,.1 .4-1.2 .3,0 .4,1.2 .4-.4 .4,1.3 .4,.8 .3-.5 .4,.9 .4-1.7 .4,1.4 .4-1.3 .3,.2 .4-.1 .4-.2 .4,.9 .4-.9 .3-.6 .4-.1 .4,0 .4,0 .4-.1 .3-.3 .4-.2 .4,1.3 .4-1.3 .4,1.1 .3-.7 .4,.7 .4-.8 .4-.5 .4,.5 .3,1 .4,0 .4,.1 .4-.9 .4,.3 .3,0 .4,0 .4,0 .4-.6 .4-.2 .3,.7 .4-.2 .4,.4 .4-.2 .4,.2 .3,.4 .4-.5 .4-1.7 .4,1.1 .4,0 .3-.2 .4,1 .4,.3 .4,.2 .4-.8 .3-.1 .4,.2 .4,.5 .4-.1 .4-1.3 .3,.1 .4-.3 .4,.7 .4,.1 .4,0 .3,1.2 .4-1 .4-.5 .4-.5 .4,.8 .3,.8 .4-1.5 .4,.4 .4,.6 .4-.4 .3,1 .4-.7 .4-.1 .4-.6 .4-.1 .3,.4 .4-1 .4-.2 .4,.6 .4,.6 .3,.7 .4,.5 .4,.1 .4-.8 .4-1 .3,.2 .4,1.3 .4-.9 .4,.9 .4-.3 .3-.4 .4-.8 .4-.5 .4,.4 .4-.3 .3,.6 .4-.8 .4,.3 .4,0 .4,.3 .3,1 .4-1.8 .4,1.2 .4-.4 .4,.6 .3-.7 .4,.6 .4-.2 .4,.7 .4,0 .3-1.7 .4-.2 .4,1.1 .4,.6 .4-.9 .3-.8 .4,.1 .4,1.4 .4,.2 .4-1.1 .3-.9 .4,1.3 .4-1.2 .4,.1 .4-.1 .3,.1 .4,.7 .4-1 .4,.6 .4,.6 .3,.2 .4,.3 .4-.4 .4-.8 .4,.8 .3,.3 .4,.3 .4-.3 .4,.3 .4-.9 .3,1 .4,.5 .4-1 .4-.1 .4,.1 .3,.1 .4,0 .4,.1 .4,0 .4,.9 .3-1.1 .4,1.2 .4-.7 .4,.4 .4-.6 .3,0 .4,.3 .4-.2 .4,1.1 .4-.6 .3-.2 .4-.3 .4,.5 .4-.2 .4,0 .3-.9 .4-.2 .4,.4 .4,.7 .4-.2 .3-1 .4,.1 .4,.2 .4-.2 .4-.5 .3,1.1 .4-.2 .4,.7 .4,.2 .4-.5 .3-.7 .4,0 .4,.6 .4-.1 .4,.3 .3-.4 .4,.4 .4-.8 .4-.1 .4,.6 .3-.1 .4,.2 .4,.1 .4,.3 .4-.8 .3-.5 .4,.8 .4,.7 .4-.5 .4-1.2 .3,1 .4,.5 .4-.1 .4,.3 .4-.7 .3-1.6 .4,1.5 .4-.3 .4-.3 .4-.3 .3,.4 .4,.3 .4,1.1 .4,.1 .4,0 .3,0 .4-.6 .4-.1 .4,1.2 .4-.4 .3-.3 .4,0 .4-.7 .4,1.4 .4-1.5 .3,.4 .4,0 .4-.1 .4-.9 .4,.6 .3-.1 .4-.3 .4-.1 .4-.2 .4,.8 .3-.9 .4-.5 .4,.6 .4,0 .4,.4 .3,.4 .4,.4 .4-1.3 .4,0 .4,.8 .3,.2 .4,0 .4-.5 .4-.1 .4,.1 .3,.9 .4-1 .4,.4 .4-.9 .4,.7 .3-.4 .4-.3 .4,.2 .4,0 .4,1.1 .3-1 .4-.3 .4-.3 .4-.2 .4-.1 .3,.8 .4,.4 .4-.1 .4-.6 .4,.9 .3-.6 .4,.4 .4-.3 .4,.1 .4-.3 .3-.3 .4,.5 .4,.3 .4,.3 .4-.6 .3-.4 .4,.9 .4,.1 .4-1 .4,.1 .3,.2 .4,.6 .4,.3 .4-.9 .4,.7 .3,.4 .4-.4 .4-.5 .4-.4 .4,.6 .3,.9 .4-.2 .4,.1 .4-.6 .4,.1 .3-.3 .4,.5 .4-.5 .4-.5 .4,.4 .3,.7 .4,.4 .4-.1 .4,.7 .4-.7 .3-.7 .4,.8 .4-1.1 .4,.1 .4,1 .3-.6 .4,.2 .4-.3 .4,.1 .4-.7 .3,1 .4,.1 .4-.9 .4,.9 .4-.4 .3,0 .4,0 .4-1.2 .4,.8" stroke="#2ca02c" stroke-width="2.3" stroke-linecap="round" stroke-linejoin="round" fill="none"/>
<path d="M70.5,132.1h0M70.5,135.5h0M70.9,142.5h0M69.6,151.3h0M70.7,155h0M70.2,183h0M269.5,134h0M269.5,142.7h0M269.5,157.5h0M269.5,179.8h0M269.6,219.5h0M355,122.7h0" stroke="#2ca02c" stroke-width="1.9" stroke-linecap="round" fill="none"/>
<path d="M70.2,129.8l.4-.1 .4-1.4 .3,.9 .4,1.1 .4-1 .4,1.6 .4-1.6 .3-.4 .4,.3 .4,.6 .4-.7 .4-.9 .3,.9 .4,.4 .4-.7 .4-.6 .4,0 .3,.4 .4,.2 .4-.4 .4,.4 .4,1.5 .3-1.3 .4,.2 .4,.6 .4,.4 .4,.2 .3-1.4 .4-.4 .4-.7 .4,1.7 .4,.2 .3-.8 .4,0 .4,.6 .4,.4 .4-.4 .3,.1 .4-.8 .4-.3 .4,1 .4-.1 .3-.4 .4-.7 .4,1.9 .4-1.3 .4-.8 .3,1 .4,1.7 .4-1 .4,.5 .4-.7 .3,.4 .4-.7 .4,1 .4,.3 .4-.6 .3,0 .4-.1 .4-.1 .4,.1 .4-1.3 .3,.5 .4,.1 .4,.7 .4-.7 .4-.3 .3-.2 .4,.5 .4-.4 .4,.9 .4-.4 .3,.4 .4-.7 .4,.6 .4,.2 .4,.2 .3-.2 .4,.2 .4,.3 .4-.8 .4,.3 .3,0 .4-.4 .4,.3 .4-.5 .4,.3 .3-.1 .4-.3 .4,1.2 .4-.1 .4,0 .3-.3 .4-.1 .4-.6 .4-.1 .4-.4 .3,.8 .4-.4 .4-.4 .4,.2 .4,.3 .3-.6 .4,.4 .4-.5 .4,.4 .4,.2 .3-.9 .4,.5 .4,.2 .4-.3 .4,.6 .3-.1 .4,.1 .4-.5 .4,.2 .4,.4 .3,.1 .4-.4 .4,.4 .4-.5 .4,.4 .3,.1 .4,.5 .4-.5 .4,.2 .4-.2 .3-.1 .4,.1 .4-.4 .4,.7 .4-.1 .3,.1 .4-.2 .4-.4 .4-.1 .4,.2 .3-.7 .4,.6 .4,.1 .4,.1 .4-.1 .3,.1 .4,.5 .4-.3 .4,.6 .4-.5 .3,.1 .4,.3 .4-.4 .4-.1 .4,0 .3-.4 .4-.6 .4-.6 .4-.5 .4-.5 .3-.7 .4-.1 .4-.1 .4,0 .4,.4 .3,.2 .4,.5 .4,.7 .4,.9 .4,.9 .3,.8 .4,.8 .4,.8 .4,1 .4,.6 .3,.4 .4,.7 .4,.4 .4,.2 .4,0 .3-.1 .4-.4 .4-.1 .4-.6 .4-.5 .3-.6 .4-.8 .4-.7 .4-1 .4-.8 .3-1 .4-.9 .4-1.2 .4-.9 .4-1.1 .3-1 .4-.7 .4-1 .4-.5 .4-.6 .3-.5 .4-.6 .4-.3 .4-.1 .4-.1 .3,0 .4,.3 .4,.5 .4,.6 .4,.8 .3,.9 .4,1 .4,1.1 .4,1.2 .4,1.2 .3,1.2 .4,1.3 .4,1.4 .4,1.1 .4,1.2 .3,1 .4,1.1 .4,.9 .4,.7 .4,.7 .3,.4 .4,.2 .4-.1 .4-.1 .4-.6 .3-.4 .4-.8 .4-1 .4-1 .4-.9 .3-1.1 .4-1.1 .4-.9 .4-.8 .4-1.8 .3-.3 .4-.4 .4,.2 .4,.3 .4-.1 .3-1.3 .4,.3 .4-.8 .4,.8 .4,.3 .3-.7 .4,1.4 .4-1.4 .4,1.3 .4-1.4 .3,1.3 .4-1.5 .4,.9 .4-.5 .4,.9 .3-.4 .4,.4 .4,.2 .4-.6 .4,.3 .3,.5 .4-.6 .4,.9 .4-1.1 .4,1.8 .3-.1 .4-1.1 .4,.5 .4,.3 .4,.5 .3,.3 .4,.4 .4,0 .4-.8 .4,.8 .3-.1 .4,.6 .4-.2 .4-.8 .4,.6 .3,1.7 .4-1.3 .4,0 .4,.7 .4-.5 .3,0 .4,0 .4,.3 .4,.6 .4-.8 .3-.1 .4,.4 .4,0 .4-.7 .4-.3 .3,.6 .4-.2 .4,.6 .4-.2 .4,.3 .3-.2 .4,.3 .4-.8 .4,.6 .4,.4 .3,.1 .4-.6 .4,.8 .4-.8 .4,.1 .3,0 .4,.1 .4-.3 .4-.5 .4,.2 .3,.4 .4-.5 .4,.1 .4-.4 .4,.7 .3-.8 .4,.1 .4,.1 .4,.2 .4-.6 .3,.1 .4,.1 .4-.1 .4-.4 .4,.3 .3,.1 .4,.6 .4-.1 .4-.6 .4,.8 .3,0 .4-.1 .4-.1 .4,.3 .4-.4 .3-.4 .4,.2 .4,.1 .4-.2 .4,.1 .3-.2 .4,.5 .4-.5 .4,.4 .4-.1 .3,.3 .4,0 .4,.5 .4-.9 .4-.2 .3,.4 .4-.4 .4,.2 .4,.4 .4-.1 .3,.4 .4-.6 .4,.4 .4-.1 .4,.3 .3-.1 .4,.1 .4-.2 .4,0 .4,.3 .3-.1 .4-.4 .4,.2 .4-.4 .4,.7 .3,0 .4-.4 .4,.4 .4-.2 .4-.1 .3,.4 .4,0 .4-.6 .4-.2 .4-.2 .3,.6 .4-.4 .4,.3 .4-.3 .4-.1 .3,.9 .4,0 .4-.9 .4,.8 .4-.3 .3,.4 .4-.5 .4-.3 .4,.1 .4,.2 .3-.9 .4,1.3 .4-.5 .4,.2 .4-.9 .3,1.1 .4-.2 .4-.1 .4,1.1 .4-.1 .3-.6 .4,.1 .4,.3 .4,.5 .4-.8 .3-.3 .4,.6 .4-.8 .4,.8 .4-.4 .3-.4 .4-.3 .4,0 .4,.1 .4,.6 .3-.3 .4-.5 .4,.4 .4,0 .4-.1 .3,.1 .4-.3 .4,.4 .4-.4 .4-.3 .3,0 .4,.3 .4,.1 .4-.1 .4,.1 .3-.4 .4,.3 .4,.5 .4-.3 .4,0 .3,.2 .4,.3 .4,.2 .4-.1 .4,.7 .3-.5 .4,.2 .4,.4 .4-.3 .4,.2 .3-.7 .4,.1 .4,.6 .4-1 .4,.3 .3-.6 .4,.4 .4-.3 .4,.4 .4-.4 .3-.2 .4,.6 .4,0 .4,.7 .4-.4 .3-.1 .4-.2 .4-.4 .4,.4 .4-.5 .3,.8 .4-.2 .4-.1 .4,.2 .4-.3 .3-.2 .4,.8 .4-1.1 .4,.7 .4-.7 .3,.4 .4,.1 .4-.7 .4,.1 .4,.4 .3,.1 .4,0 .4-.1 .4-.4 .4-.2 .3-.1 .4,.4 .4-.4 .4,0 .4,0 .3,.2 .4-.2 .4,.5 .4,0 .4-.3 .3,.3 .4,.3 .4,.3 .4-.4 .4,.1 .3-.3 .4,0 .4-.1 .4,1 .4-.7 .3-.3 .4,0 .4-.4 .4,.2 .4,.5 .3,0 .4,.4 .4-.2 .4,.1 .4,0 .3,0 .4-.3 .4,0 .4-.2 .4,.1 .3-.2 .4-.1 .4,.1 .4-.2 .4-.8 .3,.6 .4,.1 .4,.3 .4-.1 .4,.2 .3,.3 .4,0 .4,.2 .4-.8 .4,.2 .3-.2 .4,.7 .4-.1 .4-.4 .4,0 .3,.4 .4,.4 .4,.1 .4-1 .4,.6 .3-.1 .4,.5 .4,.2 .4-.6 .4,.1 .3-.9 .4,.9 .4-.5 .4,.4 .4,.3 .3-.6 .4,1.1 .4-.8 .4,.4 .4-.4 .3,.4 .4-.5 .4,0 .4-.7 .4,1 .3-.1 .4-.3 .4-.2 .4-.1 .4,.1 .3,.4 .4,.1 .4,.2 .4,.1 .4-.2 .3,0 .4,.2 .4-.1 .4,.3 .4-.5 .3-.1 .4,.5 .4-.7 .4,.2 .4-.5 .3,.1 .4,1.4 .4-1.6 .4,.8 .4-.5 .3,0 .4-.1 .4,.6 .4-.1 .4,.1 .3,.4 .4-.9 .4-.1 .4,.6 .4,.3 .3-.3 .4,.2 .4-.4 .4-.3 .4-.6 .3,.3 .4,.4 .4-.2 .4-.2 .4,0 .3,.1 .4,0 .4-.1 .4,.6 .4-.4 .3,.1 .4-.8 .4,.1 .4,.6 .4,.1 .3,.5 .4-.8 .4,0 .4,.2 .4-.8 .3,.6 .4-.4 .4-.4 .4,.4 .4,.5 .3,0 .4,.1 .4-.3 .4,.3 .4,.3 .3-.1 .4,.6 .4-.2 .4-.5 .4-.1 .3-.3 .4,.2 .4,.2 .4,.3 .4-.2 .3-.1 .4,0 .4-.2 .4,.9 .4-.8 .3,.1 .4,.7 .4-.7 .4,0 .4,0 .3-.6 .4,.2 .4,1.5 .4-.8 .4-.8 .3,.2 .4,.2 .4,.4 .4,.1 .4-.5 .3,.4 .4,.3 .4-.5 .4-.6 .4,0 .3-.6 .4,1.3 .4-.3 .4,0 .4,.1 .3,.1 .4-.3 .4-.1 .4,.7 .4-.9 .3,.7 .4,.5 .4,.1 .4-.7 .4-.1 .3-.1 .4,0 .4,.3 .4,.4 .4-.1 .3,0 .4-.3 .4-.4 .4,.2 .4,.9 .3-.7 .4,.5 .4-.4 .4,.6 .4-.4 .3,.2 .4-.3 .4-.2 .4,.3 .4,.5 .3-.3 .4-.5 .4,.4 .4-.9 .4,1 .3,.7 .4-1.4 .4,.5 .4,.4 .4,.5 .3-.4 .4-.6 .4,.4 .4-.1 .4-.3 .3-.1 .4-.3 .4,0 .4,.5 .4-.8 .3,.6 .4-.3 .4,0 .4-.1 .4,.5 .3-.5 .4,.2 .4-.4 .4,.7 .4-.3 .3,.3 .4-.1 .4,.1 .4-.3 .4,0 .3,0 .4,.4 .4-.6 .4-.1 .4,.7 .3,.1 .4-.3 .4-.2 .4,.7 .4-.7 .3-.6 .4,.4 .4,.4 .4-.3 .4,.3 .3-.3 .4,.1 .4,.1 .4-.6 .4,1 .3-.3 .4,.2 .4-.2 .4-.1 .4,.4 .3-.3 .4,.3 .4-.7 .4,.9 .4-.6 .3,0 .4-.2 .4-.2 .4,.4 .4-1 .3,1.3 .4-.6 .4,0 .4,.3 .4,.8 .3-.6 .4,.3 .4-.7 .4,.2 .4,.4 .3-.9 .4-.4 .4,0 .4,.4 .4-.1 .3,.9 .4,.2 .4-1 .4,1 .4-.3 .3-.2 .4,0 .4,.5 .4,.1 .4,.8 .3-.7 .4,.2 .4-.6 .4,.1 .4-1.2 .3-.2 .4-.1 .4-.3 .4,.7 .4,.5 .3-.5 .4-.4 .4,.7 .4-.3 .4,.1 .3,.1 .4,0 .4,0 .4,0 .4,.6 .3,0 .4,.6 .4-1.1 .4-.4 .4,.5 .3,.8 .4,.8 .4-.7 .4,1 .4,.3 .3,1.1 .4-1.1 .4-1 .4-.1 .4,.7 .3-.3 .4-.1 .4-.4 .4-.4 .4-.3 .3,.5 .4,.5 .4-.8 .4,0 .4,.2 .3-.4 .4-.7 .4,.4 .4,.2 .4-.3 .3,.2 .4,.1 .4,.4 .4-.1 .4-.6 .3-.4 .4,1 .4,.4 .4-.2 .4-.9 .3,.8 .4,.3 .4-.4 .4,.2 .4,.6 .3,0 .4-.6 .4,.3 .4-.9 .4,0 .3-.3 .4-.2 .4,.1 .4,.8 .4-.2 .3-.3 .4-.1 .4-.6 .4,.7 .4,.3 .3-.8 .4-1 .4,1.1 .4-1 .4,1.1 .3-.6 .4,.5 .4,.8 .4,0 .4,.3 .3-.3 .4-.3 .4,.7 .4,.1 .4-.4 .3-.7 .4-.5 .4,.8 .4-.9 .4,.7 .3,1.6 .4-.8 .4,.2 .4,.3 .4-.1 .3-.6 .4,0 .4,.1 .4-.3 .4-1.2 .3,.7 .4-.5 .4,.6 .4,.1 .4-.3 .3-.1 .4-.1 .4,.2 .4,.3 .4-.5 .3,0 .4-.1 .4,.3 .4,.6 .4-.5 .3-.3 .4,1.4 .4-.4 .4,.2 .4,.4 .3,.2 .4,0 .4-.3 .4-.2 .4-.5 .3-.6 .4,.7 .4-.7 .4,.2 .4,.8 .3-.8 .4,.2 .4,.1 .4,.1 .4-.5 .3,.2 .4,.2 .4,.6 .4-.1 .4-.2 .3,0 .4,0 .4-.2 .4-.3 .4-.1 .3,.5 .4,.4 .4-.6 .4-.7 .4,.2 .3,.4 .4-.3 .4,.2 .4-.4 .4-.1 .3-.3 .4,.5 .4-.1 .4,0 .4,.4 .3-.1 .4,.6 .4-.6 .4,.5 .4-.4 .3-.3 .4-.2 .4,.3 .4,0 .4,.6 .3-.6 .4,.2 .4-.4 .4,.5 .4,.1 .3-.7 .4,.7 .4-.6 .4,.8 .4-.3 .3,.1 .4-.3 .4,.9 .4-.5 .4-.1 .3,.4 .4-.5 .4,.2 .4,0 .4,.1 .3,.6 .4,.1 .4-.5 .4,.6 .4-.2 .3-.3 .4,.2 .4,.4 .4-1 .4,0 .3-.2 .4,1 .4-.3 .4-.6 .4,.4 .3,0 .4-.4 .4,.5 .4-.3 .4,.2 .3-.4 .4,0 .4-.3 .4,.3 .4,.1 .3-.6 .4,.6 .4,.3 .4-.2 .4-.1 .3-.1 .4-.2 .4,.1 .4,.1 .4-.2 .3,.5 .4-.2 .4,0 .4,.6 .4-.2 .3,.2 .4-.9 .4,.5 .4-.3 .4,.9 .3-1.1 .4-.1 .4,.6 .4,.4 .4-1.2 .3,.5 .4-.1 .4,.6 .4,.1 .4-.6 .3,.3 .4-.6 .4-.2 .4,.4 .4-.2 .3,.5 .4-.4 .4,.3 .4-.3 .4,.2 .3,.2 .4,0 .4,.2 .4-.4 .4,0 .3,.3 .4-.1 .4-.3 .4-.2 .4,.1 .3,.1 .4-.1 .4-.2 .4,.2 .4,.6 .3,.3 .4,.1 .4-.6 .4-.2 .4,.3 .3-.1 .4,.2 .4,.1 .4-.6 .4,.1 .3-.2 .4,0 .4,.7 .4,.3 .4-1 .3-.1 .4,0 .4,.4 .4-.7 .4,.6 .3,.6 .4-.9 .4,.3 .4,.4 .4,.5 .3-.8 .4,.4 .4-.1 .4-.5 .4,.4 .3-.1 .4-.2 .4,.1 .4-.3 .4-.3 .3,0 .4,.1 .4,.2 .4,.3 .4-.3 .3-.2 .4,.1 .4,.5 .4-.3 .4,.1 .3-.3 .4,.2 .4,0 .4,.3 .4-.3 .3,.6 .4-.4 .4,0 .4-.4 .4,.2 .3-.4 .4,.5 .4,0 .4,0 .4-.2 .3,.5 .4-1 .4,1.1 .4-.3 .4-.4 .3,.1 .4,.3 .4-.1 .4,.3 .4-.6 .3-.2 .4,.5 .4,.1 .4-.6 .4-.1 .3,.4 .4-.2 .4,0 .4-.5 .4-.2 .3,1 .4-.1 .4,.5 .4-.3 .4-.4 .3,.4 .4,0 .4-.4 .4,.2" stroke="#d62728" stroke-width="2.3" stroke-linecap="round" stroke-linejoin="round" fill="none"/>
<path d="M69.5,40.9h0M70.3,41h0M69.9,125h0M69.9,126.5h0" stroke="#d62728" stroke-width="1.9" stroke-linecap="round" fill="none"/>
<path d="M95.7,130.9l.3,.1 .4,.1 .4-.3 .4,.2 .4-.3 .3,0 .4,.1 .4-.2 .4,0 .4,.2 .3,.2 .4-.4 .4,.3 .4,0 .4-.3 .3,0 .4-.1 .4-.4 .4,.2 .4-.3 .3,.3 .4-.7 .4,.4 .4-.2 .4-.2 .3-.1 .4-.1 .4,.1 .4-.1 .4,.1 .3-.1 .4,0 .4,.1 .4,.2 .4-.1 .3,.1 .4-.3 .4-.1 .4,0 .4,0 .3,.1 .4-.1 .4-.1 .4,.1 .4,.1 .3-.1 .4,.4 .4,.1 .4-.2 .4-.4 .3,.1 .4,.3 .4,.1 .4,.3 .4-.2 .3,0 .4,0 .4,.2 .4,0 .4,.3 .3-.3 .4-.2 .4,0 .4,0 .4-.2 .3,.1 .4,.2 .4,0 .4-.3 .4,.2 .3,0 .4,0 .4,.1 .4,.1 .4-.2 .3-.2 .4,0 .4-.3 .4,.5 .4-.3 .3,.5 .4-.2 .4-.1 .4-.1 .4-.1 .3,.5 .4-.4 .4,.2 .4,.1 .4-.1 .3-.4 .4,.2 .4,0 .4-.1 .4-.1 .3,.1 .4-.1 .4-.1 .4,.1 .4,.5 .3,.1 .4-.1 .4-.2 .4,0 .4,.1 .3,.2 .4,.3 .4,.4 .4,.4 .4,.4 .3,.6 .4,.3 .4,.3 .4,.3 .4,0 .3,.1 .4,0 .4-.1 .4,.1 .4,0 .3,0 .4-.1 .4,0 .4,0 .4,0 .3,.1 .4-.1 .4,.1 .4-.1 .4,0 .3-.1 .4,0 .4,0 .4,0 .4,0 .3,0 .4,.1 .4,0 .4,.1 .4,0 .3-.1 .4,.1 .4-.2 .4-.6 .4-1.6 .3-2.2 .4-1.8 .4-.9 .4-.1 .4,.1 .3,.1 .4,.2 .4,.2 .4,.4 .4,.4 .3,.5 .4,.3 .4,.4 .4,.4 .4,.2 .3,.4 .4,.1 .4,.3 .4-.1 .4,.4 .3,.1 .4-.3 .4,.2 .4-.4 .4,.1 .3-.3 .4,.1 .4,0 .4-.3 .4,.3 .3,.1 .4-.2 .4,.2 .4,.1 .4-.2 .3,.3 .4,0 .4,0 .4-.3 .4,.2 .3,.3 .4-.3 .4,.1 .4,0 .4,0 .3,0 .4,0 .4,0 .4,0 .4,0 .3-.2 .4,0 .4,.4 .4-.2 .4,0 .3,.2 .4-.2 .4,.2 .4,0 .4-.1 .3-.1 .4-.1 .4-.1 .4-.1 .4,0 .3,.1 .4,0 .4,0 .4,.2 .4-.1 .3,0 .4-.1 .4,.1 .4,.1 .4-.3 .3,0 .4-.2 .4,0 .4,0 .4,.1 .3,.1 .4,0 .4,.1 .4-.2 .4-.2 .3,.4 .4,0 .4,.1 .4,.2 .4-.1 .3-.2 .4,.1 .4,0 .4,.3 .4-.3 .3-.1 .4,.2 .4-.5 .4,.2 .4-.1 .3,.2 .4,.1 .4-.1 .4,.2 .4,0 .3,.1 .4,0 .4,0 .4,0 .4,0 .3-.2 .4,.2 .4,.2 .4,0 .4,0 .3-.2 .4,0 .4,.1 .4-.1 .4-.1 .3,0 .4-.2 .4-.1 .4,.1 .4,.4 .3-.4 .4-.2 .4,.4 .4-.1 .4-.1 .3,.4 .4-.2 .4-.1 .4-.2 .4,0 .3,.3 .4-.1 .4,0 .4-.1 .4,.1 .3,.2 .4,0 .4-.1 .4,.1 .4,.1 .3-.4 .4,.4 .4-.4 .4,.2 .4,.1 .3,0 .4-.1 .4-.1 .4-.1 .4,.2 .3,0 .4-.3 .4-.1 .4-.1 .4,.3 .3,.1 .4,.2 .4,0 .4-.1 .4,0 .3,0 .4,.3 .4,0 .4-.4 .4,.1 .3,.1 .4-.2 .4,0 .4,.2 .4-.1 .3,0 .4-.1 .4,0 .4,0 .4,.3 .3-.3 .4-.1 .4-.2 .4,.3 .4-.1 .3,.2 .4-.1 .4,.2 .4,.1 .4,0 .3-.3 .4-.1 .4,.1 .4,0 .4,0 .3-.2 .4,.2 .4,0 .4-.2 .4,0 .3,.1 .4,.2 .4,0 .4-.2 .4,0 .3,.1 .4,.2 .4,.1 .4-.2 .4,.5 .3-.3 .4-.2 .4-.2 .4,.3 .4,0 .3,.1 .4-.2 .4-.1 .4,0 .4,0 .3,0 .4-.2 .4,.3 .4,0 .4-.3 .3,.5 .4-.2 .4-.3 .4,.1 .4,.3 .3-.1 .4,0 .4-.3 .4-.1 .4,.6 .3-.1 .4-.5 .4,.1 .4,.2 .4,.2 .3,0 .4-.3 .4,.1 .4-.2 .4,0 .3,.1 .4-.1 .4,0 .4,0 .4,.2 .3-.2 .4,.3 .4-.2 .4,.2 .4-.2 .3-.1 .4,.2 .4-.2 .4-.3 .4,.4 .3-.2 .4,.6 .4,0 .4-.1 .4-.1 .3,0 .4-.1 .4-.1 .4,.1 .4,.1 .3-.1 .4,.1 .4,.3 .4-.2 .4-.1 .3,0 .4-.1 .4,.3 .4,0 .4-.1 .3-.1 .4,0 .4-.2 .4,0 .4-.2 .3,0 .4,.3 .4,.1 .4,.1 .4,.2 .3-.3 .4,0 .4,.1" stroke="#9467bd" stroke-width="2.3" stroke-linecap="round" stroke-linejoin="round" fill="none"/>
<path d="M138,120.3h0M70.2,89.7H95.4" stroke="#9467bd" stroke-width="1.9" stroke-linecap="round" fill="none"/>
<path d="M88.3,228.5V32.3M145.5,228.5V32.3M202.7,228.5V32.3M260.0,228.5V32.3M317.2,228.5V32.3M374.4,228.5V32.3M431.6,228.5V32.3M488.8,228.5V32.3M46.4,208.8H540.7M46.4,172.9H540.7M46.4,137.1H540.7M46.4,101.2H540.7M46.4,65.4H540.7" stroke="#6c6c6c" stroke-opacity="0.6" stroke-width="0.7" stroke-dasharray="4.8 1.2 0.75 1.2" fill="none"/>
</g>
<path d="M88.3,228.5v3.4M145.5,228.5v3.4M202.7,228.5v3.4M260.0,228.5v3.4M317.2,228.5v3.4M374.4,228.5v3.4M431.6,228.5v3.4M488.8,228.5v3.4M46.4,208.8h-3.4M46.4,172.9h-3.4M46.4,137.1h-3.4M46.4,101.2h-3.4M46.4,65.4h-3.4" stroke="#000" stroke-width="0.9" fill="none"/>
<rect x="46.4" y="32.3" width="494.3" height="196.2" fill="none" stroke="#000" stroke-width="0.9"/>
<text x="40.2" y="211.6" text-anchor="end" class="tk">100</text>
<text x="40.2" y="175.7" text-anchor="end" class="tk">200</text>
<text x="40.2" y="139.9" text-anchor="end" class="tk">300</text>
<text x="40.2" y="104.0" text-anchor="end" class="tk">400</text>
<text x="40.2" y="68.2" text-anchor="end" class="tk">500</text>
<text transform="translate(19.4,130.7) rotate(-90)" text-anchor="middle" class="ttl">x coord. [pixel]</text>
<rect x="436.4" y="38.1" width="98.4" height="91.2" rx="2.2" ry="2.2" fill="#fff" fill-opacity="0.8" stroke="#ccc" stroke-opacity="0.8" stroke-width="0.8"/>
<circle cx="454.8" cy="49.8" r="3.45" fill="#1f77b4"/>
<text x="476.6" y="52.7" class="lg">Person: 1</text>
<circle cx="454.8" cy="67.2" r="3.45" fill="#ff7f0e"/>
<text x="476.6" y="70.1" class="lg">Person: 2</text>
<circle cx="454.8" cy="84.6" r="3.45" fill="#2ca02c"/>
<text x="476.6" y="87.5" class="lg">Person: 3</text>
<circle cx="454.8" cy="102.0" r="3.45" fill="#d62728"/>
<text x="476.6" y="104.9" class="lg">Person: 4</text>
<circle cx="454.8" cy="119.4" r="3.45" fill="#9467bd"/>
<text x="476.6" y="122.3" class="lg">Person: 5</text>
<clipPath id="c2"><rect x="46.4" y="243.1" width="494.3" height="196.2"/></clipPath>
<g clip-path="url(#c2)">
<rect x="86.5" y="243.1" width="39.5" height="196.2" fill="#ffc000" fill-opacity="0.5"/>
<rect x="126.0" y="243.1" width="37.2" height="196.2" fill="#70ad47" fill-opacity="0.5"/>
<rect x="235.4" y="243.1" width="38.3" height="196.2" fill="#a5a5a5" fill-opacity="0.5"/>
<rect x="321.8" y="243.1" width="42.3" height="196.2" fill="#a5a5a5" fill-opacity="0.5"/>
<rect x="373.3" y="243.1" width="57.2" height="196.2" fill="#ffc000" fill-opacity="0.5"/>
<path d="M70.2,330.7h0M70.6,331.9h0M71,330.9h0M71.3,329.8h0M71.7,327h0M72.1,331.1h0M72.5,329.9h0M72.8,330h0M73.2,331.1h0M73.6,329.1h0M74,328.1h0M74.3,330h0M74.7,332.4h0M75.1,327.6h0M75.5,330.1h0M75.8,327.8h0M76.2,329h0M76.6,334.7h0M77,328.3h0M77.3,326.6h0M77.7,328.7h0M78.1,330.9h0M78.5,330.7h0M78.8,333.3h0M79.2,329.4h0M79.6,330.3h0M80,330.2h0M80.3,330.7h0M80.7,330.9h0M81.1,332.2h0M81.5,334.4h0M81.8,331.7h0M82.2,330.5h0M82.6,330.1h0M83,331.5h0M83.3,334.3h0M83.6,332h0M83.6,329.3h0M83.9,332h0M84.2,339h0M84.3,343.1h0M84.5,343.4h0M84.5,346.7h0M84.8,350.6h0M85,353.8h0M85.1,354.8h0M85.3,354.6h0M85.7,356h0M85.7,357.9h0M85.8,353.9h0M86,353h0M86.1,352.2h0M86.4,350.3h0M86.5,349.3h0M86.6,347.2h0M86.7,346.5h0M86.9,338.8h0M87,340.1h0M87.1,338h0M87.2,335h0M87.2,334.3h0M87.5,327.4h0M87.5,325.1h0M87.8,319.6h0M87.8,316.9h0M87.9,315.7h0M88.1,312.8h0M88.1,309.4h0M88.2,310.1h0M88.3,308.1h0M88.4,307.1h0M88.5,305.3h0M88.6,304.4h0M88.8,302.8h0M89.2,307.2h0M89.3,308.1h0M89.3,308.7h0M89.4,312.5h0M89.6,313.9h0M89.9,324.1h0M90,327.1h0M90.2,333.9h0M90.4,338.7h0M91,352.9h0M91.2,354.8h0M91.4,356.4h0M92.3,355.7h0M92.4,351.5h0M92.6,353.3h0M92.6,352.2h0M92.7,351.3h0M92.9,348h0M93.1,345.9h0M93.2,342.3h0M93.6,331.4h0M93.8,326.3h0M93.9,322.9h0M94.1,321.4h0M94.1,318.3h0M94.2,316.8h0M94.4,310.3h0M94.5,308.1h0M94.8,302h0M94.9,301.3h0M95,298.9h0M95,299.4h0M95.2,298h0M95.3,296.5h0M95.4,296.7h0M95.6,299.6h0M95.7,299.7h0M96.1,309h0M96.2,311.8h0M96.4,318.3h0M96.5,320.2h0M96.5,326h0M96.6,328.3h0M96.7,330.8h0M96.8,336h0M97.2,348h0M97.4,354.8h0M97.4,354.7h0M97.5,356.1h0M97.7,360.8h0M98,365h0M98.2,365.1h0M98.3,365.1h0M98.4,365.2h0M98.6,365.4h0M98.6,364.2h0M98.7,365.6h0M98.9,365.9h0M99.1,363h0M99.2,362.5h0M99.2,361.7h0M99.4,359.4h0M99.5,355.7h0M99.7,353.2h0M99.8,353.1h0M99.9,347.8h0M100.1,342.1h0M100.1,339.9h0M100.2,339.3h0M100.4,332.9h0M100.5,328.3h0M100.6,323.6h0M100.8,317.7h0M101.1,310.2h0M101.2,309.2h0M101.7,300.4h0M101.9,302.7h0M102,302.5h0M102.2,303.9h0M102.3,306.2h0M102.4,306.7h0M102.5,309.8h0M102.6,312.6h0M103.1,326.9h0M103.3,332.6h0M103.4,333.3h0M103.5,339.8h0M103.6,342.7h0M103.7,345.8h0M104,351.2h0M104,352.8h0M104.1,353h0M104.2,356h0M104.3,356.4h0M104.4,358.7h0M104.7,362.8h0M104.8,362.1h0M105.2,362h0M105.3,361.7h0M105.6,359.3h0M105.7,358.7h0M105.8,358h0M106,356h0M106.1,352.2h0M106.2,352.9h0M106.4,345h0M106.6,341.3h0M106.7,339.2h0M106.9,332.4h0M107,326.5h0M107,325.1h0M107.3,317.2h0M107.3,316h0M107.6,307.5h0M107.7,305.4h0M107.8,303.7h0M108.2,296.4h0M108.2,298.6h0M108.3,298.8h0M108.5,300.5h0M108.8,303.1h0M109,306.5h0M109.3,317.3h0M109.4,315.3h0M109.4,318.9h0M109.6,323.6h0M109.7,326.3h0M109.7,326.7h0M109.9,333.5h0M110,336.7h0M110.3,344.1h0M110.3,346.1h0M110.7,353.9h0M110.9,357.3h0M110.9,358.2h0M111.2,360h0M111.2,359.7h0M111.4,361.8h0M111.8,362.1h0M111.9,362.5h0M112.1,361.7h0M112.2,361.1h0M112.3,361.4h0M112.6,359.2h0M112.7,357.1h0M112.7,356.9h0M112.8,353.4h0M112.9,353h0M113,350.7h0M113,349.4h0M113.1,350.4h0M113.3,343.1h0M113.3,342.8h0M113.4,339.6h0M113.5,339.4h0M113.9,327.6h0M113.9,325.9h0M114.1,320.5h0M114.2,320.8h0M114.2,316.6h0M114.3,316.9h0M114.4,313.5h0M114.5,312.1h0M114.6,310h0M114.9,307.5h0M115,306.6h0M115.1,307h0M115.1,307.6h0M115.2,307.5h0M115.3,307.6h0M115.4,308.2h0M115.4,308.7h0M115.5,310.6h0M115.6,312.1h0M115.8,315.3h0M115.9,317.7h0M116,319.7h0M116.3,329.2h0M116.7,342.4h0M116.9,346.3h0M116.9,347.8h0M117.1,351.4h0M117.2,354.5h0M117.3,357.3h0M117.4,358.3h0M117.5,359.9h0M117.5,360.5h0M117.6,360.5h0M117.7,361.5h0M117.8,363.7h0M117.9,363.4h0M118,366.6h0M118.1,364.8h0M118.1,366.9h0M118.3,364.8h0M118.4,366.6h0M118.4,366h0M118.5,366.1h0M118.6,365.5h0M118.8,364.7h0M118.9,365.4h0M119,364.1h0M119.1,360.8h0M119.3,356.7h0M119.4,357h0M119.7,348.8h0M119.8,347.3h0M119.9,344h0M120.1,338.6h0M120.3,329.3h0M120.6,319.1h0M120.7,316.1h0M120.8,313.9h0M120.9,312.8h0M121,308.5h0M121.1,307h0M121.2,306.2h0M121.3,304.1h0M121.5,303h0M121.7,304.9h0M121.8,302.9h0M121.9,305.9h0M122,304.5h0M122.1,306.1h0M122.2,304.9h0M122.3,304.1h0M122.4,307.5h0M122.5,308.1h0M122.6,306.6h0M122.8,310.9h0M122.9,310.4h0M122.9,311.1h0M123.5,318.3h0M123.5,318.6h0M123.7,318.6h0M123.8,318.6h0M123.8,321.1h0M123.9,321.8h0M124,322.7h0M124.1,323.9h0M124.2,324.4h0M124.4,324.5h0M124.4,326.4h0M124.5,326.9h0M124.6,328.5h0M124.7,327.7h0M124.7,328.3h0M124.8,328.7h0M124.9,330.3h0M125,328.9h0M125.1,330.2h0M125.4,331h0M125.5,330.3h0M125.7,331.2h0M125.9,331.2h0M126.1,333.3h0M126.5,330.9h0M126.8,330.1h0M127.2,333.2h0M127.6,332h0M128,333.7h0M128.3,326.5h0M128.7,327.9h0M129.1,332.4h0M129.5,333h0M129.8,327.6h0M130.2,333.2h0M130.6,327.2h0M131,327.8h0M131.3,333.8h0M131.6,331.1h0M131.6,330h0M131.7,331h0M132,330.6h0M132.1,331.9h0M132.4,329.4h0M132.5,327.2h0M132.6,326.8h0M132.8,324.6h0M132.9,322.4h0M133.1,320.5h0M133.4,318.1h0M133.4,317.4h0M133.6,315.8h0M134,307.2h0M134.1,308.6h0M134.2,305.9h0M134.3,306.8h0M134.3,306.7h0M134.4,305.2h0M134.5,305.8h0M134.6,304h0M134.6,304.7h0M134.8,305.6h0M134.9,305.1h0M135,307.3h0M135.1,306.4h0M135.2,306.1h0M135.4,309.9h0M135.5,312.4h0M135.5,314.3h0M135.6,315.6h0M135.8,319.2h0M135.9,323.4h0M136.1,324.1h0M136.1,329.3h0M136.2,330.5h0M136.3,331h0M136.4,333.9h0M136.7,341.6h0M137,345.7h0M137.1,348h0M137.3,350.5h0M137.4,351.9h0M137.5,349.8h0M137.7,353h0M138.1,353.2h0M138.3,352.7h0M138.4,350.1h0M138.5,351.1h0M138.6,351.1h0M138.7,347.8h0M138.8,346.2h0M138.8,348.4h0M139.1,340h0M139.2,338.7h0M139.4,331.2h0M139.7,325.3h0M139.7,323.5h0M140,320.6h0M140.1,313.8h0M140.4,310.7h0M140.5,311.2h0M140.6,307.9h0M140.6,308.4h0M140.8,313.1h0M141.2,341.2h0M141.5,352.2h0M141.5,354.6h0M141.8,358.6h0M141.8,356.2h0M141.9,357h0M142.1,357.2h0M142.1,357.4h0M142.3,356.2h0M142.7,355.6h0M142.9,355.9h0M143.1,352.6h0M143.2,352.6h0M143.3,352.5h0M143.3,352.9h0M143.4,350.7h0M143.5,348.9h0M143.6,349.8h0M143.6,350.1h0M143.8,348.1h0M143.9,346.3h0M144,345.9h0M144.1,346.4h0M144.2,345.2h0M144.2,345.7h0M144.3,344.3h0M144.5,342h0M144.6,342.6h0M144.8,341.6h0M144.9,341h0M145.1,340.8h0M145.1,339.4h0M145.4,342.3h0M145.4,343h0M145.6,343.4h0M145.9,350.4h0M146.3,348.2h0M146.7,348.3h0M147.1,348.4h0M147.5,348.2h0M147.8,348.2h0M148.2,348.3h0M148.6,348.3h0M149,348.2h0M149.3,348.1h0M149.7,348.3h0M150.1,348.2h0M150.5,348.2h0M150.8,348.3h0M151.2,348.3h0M151.6,348.3h0M152,348.1h0M152.3,348.2h0M152.7,348.2h0M153.1,348.2h0M153.5,348.1h0M153.8,348.4h0M154.2,348.4h0M154.6,348.3h0M155,348.2h0M155.3,348.4h0M155.7,348.1h0M156.1,348.3h0M156.5,348.4h0M156.8,348.1h0M157.2,348.3h0M157.6,330.5h0M158,330.8h0M158.3,330.5h0M158.7,333.5h0M159.1,327.1h0M159.5,331.1h0M159.8,330.6h0M160.2,331.6h0M160.6,335.4h0M161,329.3h0M161.3,331.2h0M161.7,327.8h0M162.1,327.9h0M162.5,328.9h0M162.8,328.9h0M163.2,327.3h0M163.6,327.5h0M164,329.6h0M164.3,331.5h0M164.7,328h0M165.1,332.7h0M165.5,333.5h0M165.8,330.1h0M166.2,333h0M166.6,329h0M167,331.8h0M167.3,329.6h0M167.7,331.7h0M168.1,328h0M168.5,332.5h0M168.8,332.8h0M169.2,332.7h0M169.6,332.5h0M170,327.3h0M170.3,328.8h0M170.7,330.1h0M171.1,331h0M171.5,331.5h0M171.8,329.6h0M172.2,329.2h0M172.6,329.4h0M173,330.1h0M173.3,331.4h0M173.7,331.2h0M174.1,331.8h0M174.5,332.8h0M174.8,331.9h0M175.2,330.8h0M175.6,333.2h0M176,331.7h0M176.3,330.8h0M176.7,331.3h0M177.1,329.1h0M177.5,331.5h0M177.8,329.9h0M178.2,327.7h0M178.6,331.7h0M179,331h0M179.3,329.8h0M179.7,330.8h0M180.1,333.3h0M180.5,330.5h0M180.8,330.6h0M181.2,329.6h0M181.6,332h0M182,333.1h0M182.3,330.3h0M182.7,330.4h0M183.1,332h0M183.5,328.9h0M183.8,328.6h0M184.2,330h0M184.6,331h0M185,333h0M185.3,328.9h0M185.7,331.1h0M186.1,328.5h0M186.5,329.8h0M186.8,331.7h0M187.2,330.6h0M187.6,328.7h0M188,331.9h0M188.3,331.3h0M188.7,332.3h0M189.1,330.9h0M189.5,329.7h0M189.8,331.3h0M190.2,330.9h0M190.6,331.2h0M191,330.1h0M191.3,332.7h0M191.7,331.3h0M192.1,332.1h0M192.5,331.2h0M192.8,328.3h0M193.2,330.7h0M193.6,330.1h0M194,331.6h0M194.3,329.8h0M194.7,332h0M195.1,331.7h0M195.5,331.6h0M195.8,330.6h0M196.2,330.3h0M196.6,329.5h0M197,332.1h0M197.3,330.1h0M197.7,329.9h0M198.1,330.7h0M198.5,332.1h0M198.8,330.9h0M199.2,331h0M199.6,329.9h0M200,330.9h0M200.3,332.3h0M200.7,331.3h0M201.1,330.3h0M201.5,331h0M201.8,330.7h0M202.2,332h0M202.6,330.6h0M203,331.5h0M203.3,330.6h0M203.7,330.4h0M204.1,329.9h0M204.5,330.1h0M204.8,331.5h0M205.2,330h0M205.6,331.1h0M206,332h0M206.3,330.9h0M206.7,330.1h0M207.1,331.3h0M207.5,330.9h0M207.8,331.5h0M208.2,330.1h0M208.6,330.2h0M209,332h0M209.3,332.1h0M209.7,330.5h0M210.1,328.9h0M210.5,329.7h0M210.8,329.6h0M211.2,331.7h0M211.6,330.1h0M212,331.4h0M212.3,330.4h0M212.7,330.7h0M213.1,330.4h0M213.5,328.4h0M213.8,331.9h0M214.2,329.7h0M214.6,329.4h0M215,330h0M215.3,329.9h0M215.7,328.7h0M216.1,329.8h0M216.5,331.2h0M216.8,330.8h0M217.2,329.4h0M217.6,331.2h0M218,328.3h0M218.3,330.5h0M218.7,329.8h0M219.1,330.6h0M219.5,330.4h0M219.8,330.1h0M220.2,331.2h0M220.6,328.7h0M221,332.4h0M221.3,330.9h0M221.7,333h0M222.1,331.4h0M222.5,328.8h0M222.8,332.3h0M223.2,330.5h0M223.6,331.7h0M224,332.4h0M224.3,329.3h0M224.7,329.7h0M225.1,329.8h0M225.5,330.2h0M225.8,329.9h0M226.2,331.6h0M226.6,330.2h0M227,330.9h0M227.3,330.5h0M227.7,331.9h0M228.1,328h0M228.5,331.1h0M228.8,332.1h0M229.2,330.3h0M229.6,330.7h0M230,331.9h0M230.3,330.6h0M230.7,329.4h0M231.1,329.2h0M231.5,330.2h0M231.8,329.5h0M232.2,327.7h0M232.6,331.1h0M233,329.9h0M233.3,329.2h0M233.7,329.9h0M234.1,330.9h0M234.5,329.8h0M234.8,331.6h0M235.2,330h0M235.6,330.1h0M236,330.7h0M236.3,331.2h0M236.7,330h0M237.1,328.6h0M237.5,330.8h0M237.8,330.4h0M238.2,331.8h0M238.6,331.1h0M239,329.9h0M239.3,332.9h0M239.7,329.8h0M240.1,331.2h0M240.5,330.3h0M240.8,330.7h0M241.2,330.4h0M241.6,330.7h0M242,330.6h0M242.3,330.7h0M242.7,331.3h0M243.1,330.4h0M243.5,329.7h0M243.8,331.3h0M244.2,331.3h0M244.6,329.8h0M245,331.5h0M245.3,330h0M245.7,331.6h0M246.1,328.3h0M246.5,330.1h0M246.8,333.1h0M247.2,331.1h0M247.6,332.3h0M248,329.9h0M248.3,331.3h0M248.7,330.5h0M249.1,331.1h0M249.5,330h0M249.8,329.1h0M250.2,330.6h0M250.6,331.9h0M251,331.4h0M251.3,328.7h0M251.7,329.7h0M252.1,331.1h0M252.5,329h0M252.8,330.7h0M253.2,331.8h0M253.6,331.4h0M254,331.3h0M254.3,330.3h0M254.7,331.3h0M255.1,331.2h0M255.5,332h0M255.8,330.3h0M256.2,333.3h0M256.6,329.6h0M257,330.5h0M257.3,331h0M257.7,329.7h0M258.1,329.8h0M258.5,330.3h0M258.8,331h0M259.2,331.6h0M259.6,331.2h0M260,331.1h0M260.3,331.5h0M260.7,332.1h0M261.1,329h0M261.5,329.5h0M261.8,330h0M262.2,329.5h0M262.6,328.1h0M263,331.5h0M263.3,332.4h0M263.7,330.6h0M264.1,330.9h0M264.5,329.3h0M264.8,331.5h0M265.2,330.5h0M265.6,329.5h0M266,329.7h0M266.3,332.3h0M266.7,329.5h0M267.1,330.1h0M267.5,330.4h0M267.8,330.4h0M268.2,330.9h0M268.6,332h0M269,330.6h0M269.3,331.8h0M269.7,327h0M270.1,328.6h0M270.5,330.5h0M270.8,329.9h0M271.2,329.6h0M271.6,330.8h0M272,331.3h0M272.3,331.1h0M272.7,330.6h0M273.1,331.6h0M273.5,331.7h0M273.8,332.5h0M274.2,332h0M274.6,331h0M275,332.5h0M275.3,330.9h0M275.7,330.6h0M276.1,329.5h0M276.5,330.6h0M276.8,331.8h0M277.2,330.3h0M277.6,330.8h0M278,333h0M278.3,330h0M278.7,331.4h0M279.1,332.2h0M279.5,332.1h0M279.8,333.3h0M280.2,330.9h0M280.6,331.6h0M281,331.9h0M281.3,330.4h0M281.7,331.1h0M282.1,328.4h0M282.5,331.8h0M282.8,329.5h0M283.2,333.2h0M283.6,329.9h0M284,330h0M284.3,330.1h0M284.7,332.6h0M285.1,333.2h0M285.5,332.1h0M285.8,331.5h0M286.2,331.9h0M286.6,330.4h0M287,330.4h0M287.3,332.6h0M287.7,330.4h0M288.1,330.4h0M288.5,330.9h0M288.8,330.6h0M289.2,332.2h0M289.6,331h0M290,331.2h0M290.3,329.2h0M290.7,332.4h0M291.1,330h0M291.5,328.6h0M291.8,331.6h0M292.2,331.5h0M292.6,329.7h0M293,330.4h0M293.3,331.5h0M293.7,333.5h0M294.1,331.3h0M294.5,331.7h0M294.8,328.4h0M295.2,331.7h0M295.6,330.3h0M296,331.3h0M296.3,332.3h0M296.7,332.1h0M297.1,331.8h0M297.5,329.4h0M297.8,330.4h0M298.2,331.1h0M298.6,330.6h0M299,329.9h0M299.3,332.8h0M299.7,331.5h0M300.1,329.8h0M300.5,329.5h0M300.8,332.4h0M301.2,331.3h0M301.6,331.8h0M302,330.7h0M302.3,332.1h0M302.7,329.8h0M303.1,329.2h0M303.5,330.3h0M303.8,329.8h0M304.2,330.1h0M304.6,331.3h0M305,329.5h0M305.3,331.6h0M305.7,329.5h0M306.1,332h0M306.5,328.2h0M306.8,330.3h0M307.2,331h0M307.6,331.8h0M308,330.3h0M308.3,329.7h0M308.7,331.6h0M309.1,331.8h0M309.5,330.9h0M309.8,330.7h0M310.2,330.2h0M310.6,331.1h0M311,329.4h0M311.3,330.6h0M311.7,329h0M312.1,327.8h0M312.5,332.1h0M312.8,331.5h0M313.2,330.3h0M313.6,330.9h0M314,330.7h0M314.3,331.8h0M314.7,332.8h0M315.1,333.3h0M315.5,330.9h0M315.8,331h0M316.2,330.3h0M316.6,330h0M317,329.8h0M317.3,329.7h0M317.7,331h0M318.1,331.6h0M318.5,332.2h0M318.8,329.9h0M319.2,330.2h0M319.6,330.5h0M320,329.8h0M320.3,329.6h0M320.7,329.9h0M321.1,331.5h0M321.5,328h0M321.8,331.2h0M322.2,330.7h0M322.6,330.4h0M323,330.4h0M323.3,330.5h0M323.7,329.3h0M324.1,332h0M324.5,331.3h0M324.8,331.6h0M325.2,332.5h0M325.6,331.7h0M326,331.9h0M326.3,331.9h0M326.7,329.7h0M327.1,332.7h0M327.5,330.8h0M327.8,332.1h0M328.2,331.7h0M328.6,328.3h0M329,331.9h0M329.3,328.4h0M329.7,329.8h0M330.1,332.1h0M330.5,330.1h0M330.8,329.9h0M331.2,330.5h0M331.6,332.1h0M332,329.6h0M332.3,331.2h0M332.7,331.6h0M333.1,330.4h0M333.5,331.4h0M333.8,330.9h0M334.2,330h0M334.6,330.2h0M335,330.4h0M335.3,329.6h0M335.7,329.2h0M336.1,330.3h0M336.5,330.9h0M336.8,332h0M337.2,328.4h0M337.6,330.8h0M338,330.8h0M338.3,331.2h0M338.7,331.4h0M339.1,332.5h0M339.5,329.4h0M339.8,331.6h0M340.2,329.1h0M340.6,331.4h0M341,330.9h0M341.3,331.3h0M341.7,331.4h0M342.1,331.1h0M342.5,331.1h0M342.8,331.8h0M343.2,329.6h0M343.6,329h0M344,331.1h0M344.3,329.4h0M344.7,332.4h0M345.1,329.9h0M345.5,330.4h0M345.8,330.2h0M346.2,329.8h0M346.6,330h0M347,330.5h0M347.3,329.6h0M347.7,329.7h0M348.1,331h0M348.5,331.1h0M348.8,331.1h0M349.2,330.1h0M349.6,331.5h0M350,330.3h0M350.3,329.7h0M350.7,329.5h0M351.1,332.3h0M351.5,329.4h0M351.8,327h0M352.2,328.8h0M352.6,329.8h0M353,330.6h0M353.3,331.9h0M353.7,329.2h0M354.1,328.4h0M354.5,330.8h0M354.8,330.7h0M355.2,330.2h0M355.6,329.1h0M356,330.4h0M356.3,329.7h0M356.7,330.5h0M357.1,329.3h0M357.5,331.2h0M357.8,331.5h0M358.2,332.7h0M358.6,331.6h0M359,328.4h0M359.3,329.4h0M359.7,329.5h0M360.1,330.9h0M360.5,332.8h0M360.8,331.8h0M361.2,331.2h0M361.6,331.2h0M362,329.8h0M362.3,331.4h0M362.7,330.1h0M363.1,330.5h0M363.5,330.9h0M363.8,331.2h0M364.2,330.7h0M364.6,332.1h0M365,331.9h0M365.3,332.2h0M365.7,331.3h0M366.1,330.7h0M366.5,330.7h0M366.8,329.8h0M367.2,331.8h0M367.6,329.8h0M368,328.7h0M368.3,330.6h0M368.7,329.4h0M369.1,328.6h0M369.5,331.6h0M369.8,331.7h0M370.2,330.9h0M370.6,330.3h0M371,329.6h0M371.3,329.2h0M371.7,330.9h0M372.1,330.4h0M372.5,336.5h0M372.8,333.1h0M373.2,328.9h0M373.6,330.3h0M374,332.2h0M374.3,328.6h0M374.7,329.5h0M375.1,329.7h0M375.5,330h0M375.8,329.7h0M376.2,329.9h0M376.6,329.1h0M377,330.8h0M377.1,328.9h0M377.2,332.7h0M377.3,331.4h0M377.4,330.3h0M377.5,329.6h0M377.6,327.6h0M378,325.9h0M378.3,323.8h0M378.5,322.9h0M379,315.1h0M379.1,314.5h0M379.2,312.7h0M379.7,311.9h0M380,313.6h0M380.1,316.4h0M380.3,317.3h0M380.4,323.3h0M380.5,327.3h0M380.6,329.4h0M380.8,332.5h0M381.3,344.8h0M381.4,347.8h0M382.1,360.3h0M382.3,363.1h0M382.5,360.2h0M382.7,364h0M382.7,363.5h0M383,362.1h0M383.1,361h0M383.3,361.8h0M383.4,359.8h0M383.5,357.7h0M383.6,357.3h0M383.7,355.6h0M383.9,353.7h0M384.2,340.7h0M384.5,330.4h0M384.6,329.4h0M384.8,321.7h0M384.9,317.5h0M385.3,305.2h0M385.5,297.2h0M385.9,287.4h0M386.3,287.7h0M386.4,287.3h0M386.6,289.4h0M387,302.8h0M387.5,319.2h0M387.8,334.9h0M387.9,338.2h0M388,340.9h0M388.1,345.4h0M388.3,353.2h0M388.4,356.5h0M388.4,358.4h0M388.7,366.5h0M389,371.2h0M389.2,371.9h0M389.3,372.8h0M389.4,376.1h0M389.6,375.1h0M390,377h0M390.2,375.1h0M390.3,376.6h0M390.5,371.2h0M390.8,366.4h0M391,362.7h0M391.1,359.7h0M391.2,355.6h0M391.3,353.7h0M391.4,350.6h0M391.5,344.2h0M391.9,330.5h0M392.3,311.5h0M392.6,304.1h0M392.8,298.7h0M392.9,296.8h0M392.9,295.9h0M393.2,293.7h0M393.4,293.4h0M393.5,293h0M393.6,294.4h0M394,301.5h0M394.1,305h0M394.1,307.1h0M394.2,311.6h0M394.7,333.3h0M394.8,337.3h0M394.9,340h0M395.1,348.9h0M395.2,354.1h0M395.4,360.1h0M395.5,363.6h0M395.7,369.3h0M395.9,372.9h0M395.9,374.1h0M396.1,374.8h0M396.2,378.1h0M396.3,379.5h0M396.5,381.8h0M396.6,378.7h0M396.7,377.5h0M396.9,378.6h0M397.1,376.3h0M397.2,376.2h0M397.3,371.8h0M397.4,372.8h0M397.7,366.3h0M397.7,363.1h0M397.8,360.4h0M397.9,355.5h0M398.2,343.6h0M398.3,335.2h0M398.6,319.8h0M398.9,306.9h0M399,303.6h0M399.2,296.3h0M399.2,293.5h0M399.4,288.8h0M399.5,286.8h0M399.8,283.9h0M399.8,282.2h0M400,283.1h0M400.2,285.4h0M400.5,291h0M400.6,293.5h0M400.7,296.3h0M400.7,298.9h0M401.1,314.7h0M401.2,313.8h0M401.6,332.2h0M401.6,336.5h0M401.7,339.6h0M401.8,342.9h0M402.5,367.1h0M402.5,369.2h0M403.1,374.2h0M403.1,374.5h0M403.4,378.1h0M403.6,380.4h0M403.7,377.9h0M403.8,380.3h0M403.9,379.4h0M404,378.5h0M404.3,374.3h0M404.4,370.8h0M404.5,370.1h0M404.6,363.8h0M405,349.2h0M405.2,345.2h0M405.3,338.3h0M405.5,328.9h0M405.8,316.2h0M406,308.2h0M406.1,306.4h0M406.3,296.5h0M406.4,293.5h0M406.5,292.5h0M406.9,289.7h0M407,290.8h0M407.2,295.8h0M407.4,299.4h0M407.6,309.4h0M407.8,315.3h0M407.9,322.5h0M408.4,344.1h0M408.6,356.4h0M408.7,360.4h0M408.8,360h0M409,369.6h0M409.1,372.2h0M409.5,381.5h0M409.8,384.2h0M409.9,382.7h0M410,385.1h0M410.1,385.6h0M410.3,383.8h0M410.4,381.7h0M410.5,381.8h0M410.6,380.9h0M410.6,381.6h0M410.9,375.4h0M410.9,372.9h0M411.1,370.5h0M411.3,361.8h0M412.2,314.8h0M412.6,298.3h0M412.8,290.8h0M413.1,282.7h0M413.2,281.6h0M413.3,282.2h0M413.4,283h0M413.6,283.2h0M413.6,285.9h0M413.8,290h0M413.9,292.1h0M413.9,295h0M414,296.6h0M414.1,297.9h0M414.2,303.1h0M414.2,305h0M414.3,310.3h0M414.4,311.7h0M414.5,317.1h0M414.5,321.2h0M414.7,327.8h0M415,343h0M415.1,348h0M415.3,356.4h0M415.4,359.6h0M415.4,361h0M415.6,367.5h0M415.7,369.3h0M415.7,371h0M415.9,373.1h0M416,373.1h0M416,376.1h0M416.1,375.9h0M416.3,376.8h0M416.4,377.2h0M416.5,376.2h0M416.7,377.3h0M416.9,377.8h0M417,376.5h0M417.1,376.5h0M417.6,364.4h0M417.8,360.7h0M418.2,345.7h0M418.3,343.5h0M418.4,339.8h0M418.7,328.1h0M418.7,325.6h0M419,315.6h0M419.2,306.7h0M419.6,296.1h0M419.6,295.2h0M419.7,294.9h0M419.9,294.3h0M420,290.6h0M420.1,294h0M420.2,293.5h0M420.2,294.2h0M420.3,295.5h0M420.4,296.7h0M420.5,297.1h0M420.5,299.7h0M420.6,301.8h0M420.8,306.6h0M420.9,309.7h0M421.1,317.5h0M421.4,326.6h0M421.6,337.9h0M421.7,341.7h0M421.8,346.6h0M422,351.1h0M422.1,355.1h0M422.3,362h0M422.6,370.2h0M422.7,371.2h0M423,375.3h0M423.2,375.5h0M423.3,374.3h0M423.4,377.2h0M423.7,376h0M424.1,375.9h0M424.1,375.4h0M424.2,374.6h0M424.3,374.7h0M424.6,371.1h0M424.7,369.8h0M424.8,367.4h0M424.9,366.8h0M425.2,360.5h0M425.4,354.3h0M425.6,348.1h0M425.8,344.6h0M425.9,337.5h0M426,336.5h0M426.1,334.8h0M426.4,323.5h0M426.8,314.8h0M427.1,308.5h0M427.3,304.9h0M427.4,304.2h0M427.7,300.2h0M427.8,301.4h0M427.9,301.7h0M428,303.6h0M428.1,304.2h0M428.5,313.5h0M428.6,315.2h0M428.6,315.2h0M428.8,320.3h0M428.9,324.3h0M429.2,330.7h0M429.4,334.4h0M429.5,335.6h0M429.5,336.3h0M429.6,337h0M429.8,338.2h0M429.9,340.7h0M430,342.2h0M430.1,339.5h0M430.1,339.9h0M430.3,340.6h0M430.6,338h0M430.7,339.9h0M430.8,336.8h0M431.4,331.5h0M431.7,331.9h0M432.1,331.1h0M432.5,331.6h0M432.8,331h0M433.2,332.7h0M433.6,329.2h0M434,327.1h0M434.3,329.5h0M434.7,329.5h0M435.1,331.8h0M435.5,326.6h0M435.8,330.4h0M436.2,328.6h0M436.6,329.8h0M437,329.9h0M437.3,330.9h0M437.7,329.9h0M438.1,330.5h0M438.5,331.5h0M438.8,331.1h0M439.2,330.5h0M439.6,329.3h0M440,330.6h0M440.3,330.8h0M440.7,331.1h0M441.1,330h0M441.5,332.1h0M441.8,330.5h0M442.2,329.7h0M442.6,330.6h0M443,330.3h0M443.3,329.2h0M443.7,330.2h0M444.1,331.6h0M444.5,331.4h0M444.8,330.5h0M445.2,331.1h0M445.6,333.7h0M446,329.4h0M446.3,331.1h0M446.7,330.9h0M447.1,331.7h0M447.5,330.6h0M447.8,331.1h0M448.2,331h0M448.6,330.9h0M449,329.7h0M449.3,329.7h0M449.7,329.9h0M450.1,328.9h0M450.5,330.6h0M450.8,329.4h0M451.2,330.6h0M451.6,330.9h0M452,331.4h0M452.3,330.7h0M452.7,330.6h0M453.1,329.7h0M453.5,329.9h0M453.8,330.7h0M454.2,329.9h0M454.6,332.7h0M455,330.1h0M455.3,330h0M455.7,329.3h0M456.1,331.4h0M456.5,330.7h0M456.8,332.1h0M457.2,331.5h0M457.6,330.5h0M458,331.5h0M458.3,330.6h0M458.7,331.4h0M459.1,328.6h0M459.5,330.7h0M459.8,331.8h0M460.2,331h0M460.6,329.9h0M461,331.8h0M461.3,329.4h0M461.7,329h0M462.1,330.9h0M462.5,330.9h0M462.8,332.3h0M463.2,330.7h0M463.6,331h0M464,329.5h0M464.3,329.3h0M464.7,331.9h0M465.1,329.8h0M465.5,330.5h0M465.8,331.1h0M466.2,330.5h0M466.6,330.5h0M467,331.3h0M467.3,331.7h0M467.7,331h0M468.1,330.5h0M468.5,329h0M468.8,329.6h0M469.2,329.3h0M469.6,330.1h0M470,330.9h0M470.3,330.8h0M470.7,330.3h0M471.1,330h0M471.5,329h0M471.8,330.9h0M472.2,332.1h0M472.6,328.9h0M473,331.1h0M473.3,328.6h0M473.7,331.3h0M474.1,331.3h0M474.5,330.6h0M474.8,331h0M475.2,330.3h0M475.6,329.9h0M476,330.2h0M476.3,329.1h0M476.7,329.2h0M477.1,329.7h0M477.5,330.5h0M477.8,330.1h0M478.2,330.5h0M478.6,327.3h0M479,330.1h0M479.3,332.1h0M479.7,330.1h0M480.1,329.7h0M480.5,331.8h0M480.8,330.6h0M481.2,329.7h0M481.6,330.2h0M482,328.6h0M482.3,330.5h0M482.7,329.6h0M483.1,330.9h0M483.5,332h0M483.8,329.3h0M484.2,330.5h0M484.6,331.4h0M485,330.3h0M485.3,330.7h0M485.7,330.2h0M486.1,330.2h0M486.5,331.6h0M486.8,331.1h0M487.2,331.1h0M487.6,330.3h0M488,331.6h0M488.3,330.5h0M488.7,330.7h0M489.1,329.3h0M489.5,329.5h0M489.8,331.3h0M490.2,331h0M490.6,333.6h0M491,330h0M491.3,329.3h0M491.7,330.4h0M492.1,329.9h0M492.5,328.1h0M492.8,328.5h0M493.2,330.5h0M493.6,330.8h0M494,332h0M494.3,329.2h0M494.7,331.9h0M495.1,330.9h0M495.5,329.6h0M495.8,329.8h0M496.2,330.3h0M496.6,330.6h0M497,331.4h0M497.3,329.4h0M497.7,328.8h0M498.1,329.2h0M498.5,331.7h0M498.8,331.1h0M499.2,330.3h0M499.6,330.4h0M500,332h0M500.3,330.2h0M500.7,328h0M501.1,330.1h0M501.5,330.2h0M501.8,329.5h0M502.2,331h0M502.6,329.8h0M503,329h0M503.3,330.5h0M503.7,331.1h0M504.1,331.3h0M504.5,330.4h0M504.8,331.6h0M505.2,329.1h0M505.6,332.3h0M506,330.6h0M506.3,329.5h0M506.7,330h0M507.1,331.9h0M507.5,328.1h0M507.8,329.1h0M508.2,330.1h0M508.6,330h0M509,328.9h0M509.3,330.1h0M509.7,327.7h0M510.1,329.8h0M510.5,332.1h0M510.8,332.7h0M511.2,330.3h0M511.6,330.5h0M512,329.4h0M512.3,331.7h0M512.7,329.9h0M513.1,331.8h0M513.5,330.3h0M513.8,329.5h0M514.2,332h0M514.6,330.2h0M515,331.7h0M515.3,331.4h0M515.7,330.3h0M516.1,330h0M516.5,330.6h0M516.8,330.6h0M517.2,329.2h0M517.6,331.5h0M518,330.5h0M518.3,331.6h0M518.7,333.2h0M519.1,330.3h0M70,287.7h0M70,352h0M70,371h0M212,345h0M70,339.8h0M70.3,343h0" stroke="#1f77b4" stroke-width="2.05" stroke-linecap="round" stroke-linejoin="round" fill="none"/>
<path d="M70.2,333.1h0M70.6,331.3h0M71,332.6h0M71.3,331.4h0M71.7,331.6h0M72.1,328.7h0M72.5,334.4h0M72.8,332.9h0M73.2,333h0M73.6,330.9h0M74,331h0M74.3,330.4h0M74.7,327.4h0M75.1,330.7h0M75.5,328.7h0M75.8,329.2h0M76.2,325.4h0M76.6,326.8h0M77,331.2h0M77.3,332.1h0M77.7,332.1h0M78.1,330.3h0M78.5,331h0M78.8,329.7h0M79.2,332.3h0M79.6,332.4h0M80,332.7h0M80.3,331.2h0M80.7,332.7h0M81.1,331.3h0M81.5,332.1h0M81.8,331.7h0M82.2,328.7h0M82.6,330.2h0M83,330.3h0M83.3,325.9h0M83.7,328h0M84.1,330.1h0M84.5,330.4h0M84.8,328.3h0M85.2,329.7h0M85.6,328.5h0M86,329.6h0M86.3,331.5h0M86.5,330.4h0M86.6,332h0M86.7,330.3h0M86.8,330.8h0M86.9,329.2h0M87,328.6h0M87.2,325.1h0M87.3,322.9h0M87.4,322.9h0M87.5,320.1h0M87.6,317.6h0M87.7,316.2h0M87.8,314.6h0M87.8,314.3h0M87.9,309.9h0M88,311.3h0M88.1,310.2h0M88.1,307.7h0M88.3,305.7h0M88.4,305.5h0M88.4,304.8h0M88.5,302.3h0M88.6,302.2h0M88.7,302.4h0M88.7,302.6h0M88.8,300.9h0M88.9,303.6h0M89,301.4h0M89,304.5h0M89.1,304.2h0M89.2,303.2h0M89.3,304h0M89.3,305h0M89.4,306.6h0M89.5,307.1h0M89.6,309.9h0M89.7,311.5h0M89.9,316.8h0M90.2,322.7h0M90.3,326.9h0M90.5,330.6h0M90.5,335.4h0M90.6,336.6h0M90.7,339.8h0M90.9,344.4h0M91.1,348.8h0M91.1,352.3h0M91.3,354.4h0M91.4,360.5h0M91.7,364.9h0M91.7,366.9h0M91.8,366.5h0M91.9,368.1h0M92,370.5h0M92,369.8h0M92.2,371.4h0M92.3,374.7h0M92.3,374.7h0M92.4,376.5h0M92.5,376.2h0M92.7,379.7h0M92.9,378.2h0M93.2,377.9h0M93.3,376.4h0M93.5,378.3h0M93.5,379.3h0M93.8,378.2h0M94.3,375.2h0M94.4,376h0M94.6,372.9h0M94.7,373.9h0M94.8,372.1h0M94.9,371.4h0M95,371h0M95,369.8h0M95.1,368.9h0M95.2,368.8h0M95.4,366.7h0M95.7,360.9h0M95.8,359.7h0M95.9,359.7h0M95.9,358.3h0M96,356.3h0M96.2,354.1h0M96.3,352.7h0M96.5,345.9h0M96.6,346h0M96.7,343.3h0M96.8,343.4h0M96.8,341.3h0M97.1,336.5h0M97.1,335.7h0M97.2,332.9h0M97.3,331.8h0M97.4,327.5h0M97.5,326.5h0M97.6,327.1h0M97.8,320.3h0M97.9,317.9h0M98,313.1h0M98.1,312.3h0M98.3,309.2h0M98.3,308.3h0M98.4,307.8h0M98.5,305.9h0M98.6,304h0M98.6,302.3h0M98.7,302.6h0M98.8,299.5h0M99.2,293.7h0M99.2,293.8h0M99.4,290.8h0M99.6,289.3h0M99.7,288.2h0M99.8,288.2h0M100,286.3h0M100.2,285.9h0M100.3,285.1h0M100.4,285.8h0M100.4,286.2h0M100.7,284.4h0M100.8,285.4h0M101.3,294.8h0M101.4,297.6h0M101.5,299h0M101.6,302.6h0M101.7,305h0M101.8,306.8h0M102,312.8h0M102.1,315.8h0M102.4,326.1h0M102.5,328.4h0M102.7,335.9h0M102.8,337.5h0M102.8,341.8h0M103.2,355.9h0M103.4,359.1h0M103.4,363.6h0M103.5,364.6h0M103.7,369h0M104,375.6h0M104,375.9h0M104.1,378.7h0M104.2,379.2h0M104.3,381.2h0M104.3,382.2h0M104.5,386.4h0M104.7,389.4h0M104.8,388.4h0M105.2,392.2h0M105.3,392.6h0M105.5,393.8h0M105.6,394h0M105.7,393.5h0M105.8,393h0M105.9,393.8h0M106,392.5h0M106.1,393.9h0M106.3,394.3h0M106.4,394.2h0M106.4,394.9h0M106.6,391.1h0M106.7,392.6h0M106.9,393.8h0M107,391.7h0M107.1,392.3h0M107.2,390.3h0M107.3,390.3h0M107.5,388.2h0M107.6,389.7h0M107.8,386.7h0M107.9,385.5h0M108,386.5h0M108.1,384.6h0M108.5,379.5h0M108.6,376.5h0M108.8,374.2h0M108.9,372.9h0M109,371.5h0M109.1,369.5h0M109.1,368.4h0M109.2,367.3h0M109.4,363.8h0M109.5,361.7h0M109.6,361h0M109.8,356.1h0M110,351.2h0M110.1,347.1h0M110.2,345.1h0M110.3,344.2h0M110.7,334.2h0M110.9,332.9h0M110.9,330.2h0M111.1,327.1h0M111.4,320.5h0M111.5,318.4h0M111.5,316.5h0M111.7,313.3h0M111.8,309.3h0M112,307.6h0M112.1,306.1h0M112.1,302.5h0M112.2,304.5h0M112.7,295.7h0M112.7,294.7h0M113,292h0M113.2,289.5h0M113.3,289.8h0M113.5,287.9h0M113.6,285h0M113.7,285.4h0M113.9,283.6h0M114,283.5h0M114.4,285.1h0M114.5,285h0M114.5,286.2h0M114.6,287.4h0M114.8,288.2h0M114.8,288.4h0M114.9,290.7h0M115.3,303.1h0M115.5,308.7h0M115.6,312h0M116,328.7h0M116.1,329.5h0M116.3,336.7h0M116.3,338.5h0M116.5,344.3h0M116.6,347.8h0M116.6,349.5h0M116.7,351.3h0M116.8,354.1h0M117,360.2h0M117.2,363.3h0M117.2,364.6h0M117.9,375.5h0M118,373.9h0M118.1,374.5h0M118.1,376.5h0M118.2,374.8h0M118.4,377.2h0M118.8,375h0M118.9,375.2h0M119,373.2h0M119,372.5h0M119.3,368.7h0M119.5,360.4h0M119.8,347.3h0M119.9,344.3h0M120,336.3h0M120.4,319h0M120.5,316.5h0M121.1,307.4h0M121.2,307.5h0M121.3,307.5h0M121.4,309.5h0M121.5,313.3h0M121.6,314.9h0M121.7,317.3h0M122,330.2h0M122.2,336.4h0M122.3,342.5h0M122.3,343h0M122.4,345.6h0M122.6,350.1h0M122.6,351.7h0M122.7,355h0M122.8,356h0M122.9,356h0M122.9,358.8h0M123,357.2h0M123.1,361.1h0M123.2,360h0M123.2,358.5h0M123.3,360.3h0M123.5,359.7h0M123.5,358.4h0M123.8,358.6h0M124.4,356h0M124.5,356.6h0M124.7,354.4h0M124.9,353h0M125.1,349.9h0M125.3,347.3h0M125.4,347.5h0M125.6,343.7h0M125.6,343h0M125.9,338.3h0M126,337.4h0M126.1,338h0M126.2,336.7h0M126.3,334.6h0M126.4,333.4h0M126.7,334.2h0M127,332.2h0M127.2,331.3h0M127.6,329.4h0M128,332h0M128.3,326.8h0M128.7,334.2h0M129.1,331.7h0M129.5,330.6h0M129.8,335.9h0M130.3,329.8h0M130.4,329.7h0M130.4,331.3h0M131.3,328.8h0M131.8,325.5h0M131.9,324h0M132,321.4h0M132.2,318.4h0M132.6,317.3h0M132.8,315.4h0M132.9,312.9h0M133,311.8h0M133.1,309.9h0M133.4,308.5h0M133.4,306.8h0M133.6,306.8h0M133.7,304h0M133.8,304.1h0M133.9,303.4h0M134.1,301.6h0M134.3,300.4h0M134.3,299.4h0M134.6,299h0M134.8,300.9h0M134.9,299.7h0M135,300.8h0M135.1,302.1h0M135.2,302.4h0M135.2,303.9h0M135.3,308.2h0M135.5,312.8h0M135.8,319.9h0M135.8,321.6h0M135.9,324.3h0M136.1,331.8h0M136.3,334h0M136.4,336.3h0M136.4,341h0M136.5,342.3h0M136.8,344.8h0M136.9,349.6h0M137,349.1h0M137.3,348.9h0M137.3,351.8h0M137.4,351.2h0M138,349.8h0M138.2,350.3h0M138.3,349.3h0M138.4,348.5h0M138.5,348.8h0M138.6,348.4h0M138.8,345.6h0M139,343.7h0M139.3,341h0M139.4,343.3h0M139.4,339.6h0M139.6,337.2h0M139.7,335.1h0M139.9,335.4h0M140.1,332.2h0M140.2,331.7h0M140.3,331.7h0M140.3,330.6h0M140.4,328.3h0M140.5,329h0M140.6,329.6h0M140.8,328.1h0M140.9,328.2h0M140.9,328.9h0M141,328.3h0M141.1,328.5h0M141.2,327h0M141.4,329.3h0M141.5,328h0M141.6,330.3h0M141.8,330.7h0M141.9,331h0M142.1,330.7h0M142.1,330h0M142.2,330.3h0M142.4,331.3h0M142.6,330h0M142.7,331h0M142.8,332.1h0M143,333.9h0M143,333.2h0M143.1,332.3h0M143.2,334h0M143.5,332.2h0M143.6,333.7h0M144.1,333.5h0M144.3,333.1h0M144.5,333.8h0M144.5,333.6h0M144.7,333.9h0M144.8,332.3h0M145.1,328.4h0M145.3,325.4h0M145.6,322.4h0M145.7,319.1h0M145.7,318.1h0M146,316.4h0M146,314h0M146.1,312.3h0M146.3,308.1h0M146.4,309h0M146.5,304.9h0M146.6,305.3h0M146.6,303.2h0M146.7,303.1h0M146.9,302.3h0M147.1,300.9h0M147.2,301.8h0M147.4,300.8h0M147.5,302.1h0M147.5,304h0M147.6,304.4h0M147.7,310.4h0M147.8,312.4h0M147.9,320.1h0M148.2,338.1h0M148.3,342.2h0M148.7,359.4h0M148.7,362.7h0M148.8,364.5h0M148.9,364.8h0M149,366.1h0M149.1,365.3h0M149.2,367.9h0M149.3,367.4h0M149.4,364.8h0M149.5,366.7h0M149.6,365.5h0M149.6,366.7h0M149.7,366.2h0M149.8,364.4h0M149.9,364.2h0M150,363.8h0M150.2,362.2h0M150.3,359.5h0M150.4,358.5h0M150.5,357.4h0M150.8,352.5h0M150.9,349.3h0M151.1,341.6h0M151.2,342.7h0M151.4,339h0M151.5,336.8h0M151.7,333.6h0M152.1,331.6h0M152.2,330.1h0M152.3,332.9h0M152.7,331.9h0M153.1,333.8h0M153.5,333.2h0M153.8,329.6h0M154.2,332.4h0M154.6,331.1h0M155,331.3h0M155.3,334.8h0M155.7,328h0M156.1,337.9h0M156.5,327.8h0M156.8,332.3h0M157.2,332.6h0M157.6,332.3h0M158,329.2h0M158.3,329.2h0M158.7,334.2h0M159.1,329.3h0M159.5,328.1h0M159.8,332.3h0M160.2,329.5h0M160.6,331.7h0M161,329.2h0M161.3,331.9h0M161.7,328.1h0M162.1,329.1h0M162.5,329.6h0M162.8,332h0M163.2,331h0M163.6,330.6h0M164,333.4h0M164.3,326.6h0M164.7,332.3h0M165.1,330.6h0M165.5,331.2h0M165.8,328.3h0M166.2,331.2h0M166.6,331.1h0M167,328.9h0M167.3,331.8h0M167.7,331.7h0M168.1,329h0M168.5,332.1h0M168.8,330.8h0M169.2,332.5h0M169.6,330.6h0M170,331.5h0M170.3,332.2h0M170.7,328.6h0M171.1,330.8h0M171.5,332h0M171.8,333.2h0M172.2,329.6h0M172.6,329.8h0M173,330.1h0M173.3,330.9h0M173.7,333.1h0M174.1,330.9h0M174.5,329.9h0M174.8,331.6h0M175.2,330.1h0M175.6,328.8h0M176,328.6h0M176.3,330.5h0M176.7,328.4h0M177.1,326.8h0M177.5,330.5h0M177.8,330.5h0M178.2,328.4h0M178.6,330.2h0M179,329.3h0M179.3,329.6h0M179.7,330.1h0M180.1,329.5h0M180.5,331h0M180.8,332.3h0M181.2,326.6h0M181.6,332.4h0M182,332.2h0M182.3,330h0M182.7,331.1h0M183.1,329.2h0M183.5,330.6h0M183.8,329.4h0M184.2,327.1h0M184.6,329.4h0M185,329.3h0M185.3,330h0M185.7,332h0M186.1,330.3h0M186.5,331.5h0M186.8,329.5h0M187.2,330.4h0M187.6,329.8h0M188,327.9h0M188.3,330.3h0M188.7,332.2h0M189.1,331.6h0M189.5,329.7h0M189.8,328.2h0M190.2,331.5h0M190.6,328h0M191,329.4h0M191.3,328.9h0M191.7,333.2h0M192.1,330.2h0M192.5,331.3h0M192.8,330.5h0M193.2,331.7h0M193.6,328.8h0M194,329.4h0M194.3,330h0M194.7,327.5h0M195.1,328.3h0M195.5,331.5h0M195.8,332.3h0M196.2,329.4h0M196.6,331.6h0M197,329.4h0M197.3,329.6h0M197.7,329.3h0M198.1,331.9h0M198.5,329h0M198.8,330.5h0M199.2,330.2h0M199.6,331.5h0M200,332.8h0M200.3,330.7h0M200.7,331.3h0M201.1,331.5h0M201.5,331.2h0M201.8,331.1h0M202.2,330.6h0M202.6,330.5h0M203,330.4h0M203.3,330.9h0M203.7,331.3h0M204.1,329.9h0M204.5,330.7h0M204.8,329.3h0M205.2,330.7h0M205.6,331.3h0M206,331.8h0M206.3,332.3h0M206.7,330.6h0M207.1,327.9h0M207.5,331.6h0M207.8,331.7h0M208.2,329.5h0M208.6,331.4h0M209,330.2h0M209.3,330.8h0M209.7,330.4h0M210.1,328.1h0M210.5,331.1h0M210.8,332h0M211.2,329.2h0M211.6,332.1h0M212,328.4h0M212.3,330.5h0M212.7,329.9h0M213.1,329.6h0M213.5,330.8h0M213.8,331.8h0M214.2,330.9h0M214.6,330.6h0M215,331.7h0M215.3,331.2h0M215.7,329.2h0M216.1,329.4h0M216.5,330.7h0M216.8,331.7h0M217.2,329.1h0M217.6,329.5h0M218,331.8h0M218.3,328.8h0M218.7,333h0M219.1,331.3h0M219.5,332.2h0M219.8,331.3h0M220.2,330.2h0M220.6,329.1h0M221,331.7h0M221.3,331.4h0M221.7,332.9h0M222.1,331.4h0M222.5,332.8h0M222.8,330.2h0M223.2,331.6h0M223.6,331.8h0M224,330.3h0M224.3,330.2h0M224.7,329.8h0M225.1,331.5h0M225.5,328.9h0M225.8,330.2h0M226.2,330.7h0M226.6,331.8h0M227,328.9h0M227.3,332.2h0M227.7,328.6h0M228.1,331.2h0M228.5,331.3h0M228.8,331.5h0M229.2,330.4h0M229.6,329.6h0M230,329.7h0M230.3,329.9h0M230.7,330.9h0M231.1,331.4h0M231.5,331.5h0M231.8,331.4h0M232.2,331.4h0M232.6,328.9h0M233,331.9h0M233.3,331h0M233.7,330.3h0M234.1,330.8h0M234.5,329.5h0M234.8,329.3h0M235.2,330.7h0M235.6,328.6h0M236,328.6h0M236.3,330.5h0M236.7,328.9h0M237.1,332h0M237.5,330.3h0M237.8,329.3h0M238.2,328.6h0M238.6,329.1h0M239,330.1h0M239.3,330.1h0M239.7,331.8h0M240.1,331.4h0M240.5,329.2h0M240.8,331h0M241.2,328.2h0M241.6,332.3h0M242,330.2h0M242.3,329.7h0M242.7,330.4h0M243.1,330.4h0M243.5,332.8h0M243.8,331.3h0M244.2,329.9h0M244.6,330.1h0M245,328.1h0M245.3,332.1h0M245.7,331.3h0M246.1,332.3h0M246.5,329.2h0M246.8,330.9h0M247.2,330.9h0M247.6,330.7h0M248,329.9h0M248.3,327.7h0M248.7,330.4h0M249.1,333.1h0M249.5,330.9h0M249.8,331.6h0M250.2,329.9h0M250.6,329.6h0M251,330.8h0M251.3,331.4h0M251.7,331.2h0M252.1,331.5h0M252.5,331.3h0M252.8,327.4h0M253.2,330.8h0M253.6,331h0M254,329.8h0M254.3,331.1h0M254.7,331.2h0M255.1,330.4h0M255.5,329.1h0M255.8,328.1h0M256.2,331.5h0M256.6,330.6h0M257,330.1h0M257.3,330.4h0M257.7,330.2h0M258.1,330h0M258.5,329.4h0M258.8,331.9h0M259.2,330.9h0M259.6,333.3h0M260,331.5h0M260.3,329.3h0M260.7,330.8h0M261.1,330.4h0M261.5,330.7h0M261.8,329.5h0M262.2,328h0M262.6,331.3h0M263,331.2h0M263.3,331.1h0M263.7,331.6h0M264.1,329.4h0M264.5,329.4h0M264.8,329.6h0M265.2,330.5h0M265.6,331.3h0M266,329.8h0M266.3,330.7h0M266.7,330.6h0M267.1,329.8h0M267.5,333.6h0M267.8,329.6h0M268.2,330.8h0M268.6,329.7h0M269,331.8h0M269.3,329.6h0M269.7,330.5h0M270.1,329.8h0M270.5,332h0M270.8,331.1h0M271.2,329.9h0M271.6,329.4h0M272,330.7h0M272.3,329.5h0M272.7,332h0M273.1,328.5h0M273.5,328.4h0M273.8,332.2h0M274.2,330.7h0M274.6,329.8h0M275,328.8h0M275.3,329.9h0M275.7,331.3h0M276.1,328.6h0M276.5,331.2h0M276.8,329.8h0M277.2,329.5h0M277.6,327.5h0M278,329.3h0M278.3,330.7h0M278.7,329.2h0M279.1,330.7h0M279.5,327.8h0M279.8,331.3h0M280.2,331.9h0M280.6,332.1h0M281,329.3h0M281.3,331.2h0M281.7,329.7h0M282.1,330.3h0M282.5,332.7h0M282.8,330.5h0M283.2,331.1h0M283.6,330.2h0M284,330.3h0M284.3,328.5h0M284.7,332.5h0M285.1,331.6h0M285.5,329.6h0M285.8,331.5h0M286.2,330.7h0M286.6,330.4h0M287,332.7h0M287.3,329.5h0M287.7,329.5h0M288.1,329.4h0M288.5,328.8h0M288.8,332.1h0M289.2,330.1h0M289.6,331.2h0M290,327.8h0M290.3,329.6h0M290.7,329.8h0M291.1,330.6h0M291.5,329.8h0M291.8,331.6h0M292.2,330.5h0M292.6,332.4h0M293,330.7h0M293.3,331.3h0M293.7,331.2h0M294.1,331.9h0M294.5,328.5h0M294.8,330.2h0M295.2,331.3h0M295.6,330.9h0M296,330.6h0M296.3,328.7h0M296.7,332.1h0M297.1,332.7h0M297.5,329.1h0M297.8,329.4h0M298.2,332h0M298.6,331.8h0M299,329.3h0M299.3,329.8h0M299.7,334.6h0M300.1,332.8h0M300.5,329.9h0M300.8,331.8h0M301.2,330.9h0M301.6,330.2h0M302,327.9h0M302.3,327.2h0M302.7,331.5h0M303.1,332.5h0M303.5,328.2h0M303.8,331.1h0M304.2,330.7h0M304.6,333.5h0M305,330.8h0M305.3,329.2h0M305.7,330.5h0M306.1,330.7h0M306.5,330.9h0M306.8,331h0M307.2,331h0M307.6,330.6h0M308,327.6h0M308.3,331.2h0M308.7,330.6h0M309.1,328.4h0M309.5,330.2h0M309.8,329.8h0M310.2,331h0M310.6,329.5h0M311,331.3h0M311.3,330.4h0M311.7,330.6h0M312.1,330.9h0M312.5,331.2h0M312.8,330.9h0M313.2,329.8h0M313.6,330.7h0M314,329.6h0M314.3,331.4h0M314.7,328.5h0M315.1,331.9h0M315.5,331.1h0M315.8,329h0M316.2,330.1h0M316.6,329.8h0M317,330.5h0M317.3,330.3h0M317.7,327.5h0M318.1,330.4h0M318.5,328.9h0M318.8,330.1h0M319.2,332h0M319.6,332.4h0M320,331.1h0M320.3,332h0M320.7,327.9h0M321.1,331.4h0M321.5,331.1h0M321.8,330.1h0M322.2,330.9h0M322.6,329.5h0M323,332.7h0M323.3,331.3h0M323.7,330.7h0M324.1,332.6h0M324.5,332.3h0M324.8,330.1h0M325.2,329.4h0M325.6,328.8h0M326,330.7h0M326.3,330.4h0M326.7,330.8h0M327.1,328.9h0M327.5,329.4h0M327.8,330.8h0M328.2,329.8h0M328.6,329.2h0M329,331h0M329.3,331.1h0M329.7,330.9h0M330.1,328.1h0M330.5,331.4h0M330.8,331.2h0M331.2,331.4h0M331.6,332.1h0M332,330.6h0M332.3,330h0M332.7,331h0M333.1,328.9h0M333.5,330.3h0M333.8,331.2h0M334.2,331.8h0M334.6,332.9h0M335,330.1h0M335.3,329.5h0M335.7,328h0M336.1,331.6h0M336.5,332h0M336.8,332.5h0M337.2,328.6h0M337.6,330.6h0M338,329.2h0M338.3,329.1h0M338.7,327.4h0M339.1,329h0M339.5,331.3h0M339.8,331.7h0M340.2,329.9h0M340.6,329.7h0M341,332.2h0M341.3,330.8h0M341.7,330h0M342.1,329.1h0M342.5,330.5h0M342.8,332.3h0M343.2,331.1h0M343.6,328.7h0M344,330.9h0M344.3,332.5h0M344.7,329.8h0M345.1,330.2h0M345.5,331.3h0M345.8,330h0M346.2,330.6h0M346.6,331.9h0M347,330.8h0M347.3,329.8h0M347.7,331.8h0M348.1,331.8h0M348.5,328.6h0M348.8,330.2h0M349.2,330.5h0M349.6,331.1h0M350,329.9h0M350.3,327.7h0M350.7,329.1h0M351.1,333.7h0M351.5,328h0M351.8,332.2h0M352.2,330.1h0M352.6,329.9h0M353,330.1h0M353.3,328.9h0M353.7,331.2h0M354.1,331.2h0M354.5,329.2h0M354.8,331.7h0M355.2,332.9h0M355.6,331.8h0M356,332.3h0M356.3,333h0M356.7,328.8h0M357.1,331.8h0M357.5,329.6h0M357.8,331.9h0M358.2,329.1h0M358.6,330.4h0M359,328.8h0M359.3,327.8h0M359.7,331.5h0M360.1,331.4h0M360.5,329.6h0M360.8,331.6h0M361.2,330.3h0M361.6,329.9h0M362,332.2h0M362.3,331h0M362.7,329.5h0M363.1,330.7h0M363.5,330.8h0M363.8,331.5h0M364.2,331.6h0M364.6,329.4h0M365,329.4h0M365.3,328.8h0M365.7,329.7h0M366.1,328.7h0M366.5,329.2h0M366.8,330.4h0M367.2,327.8h0M367.6,331.1h0M368,329.9h0M368.3,329.9h0M368.7,331.7h0M369.1,332h0M369.5,332h0M369.8,328.9h0M370.2,330.9h0M370.6,329.8h0M371,330.8h0M371.3,331.8h0M371.7,330.3h0M372.1,333.1h0M372.5,329.6h0M372.8,331.6h0M373.2,330.4h0M373.6,330.1h0M374,329.4h0M374.3,329.7h0M374.7,331.8h0M375.1,333.5h0M375.5,327.7h0M375.8,328.9h0M376.2,332.9h0M376.6,329.2h0M377,329.2h0M377.3,329.9h0M377.6,332.9h0M377.8,330.7h0M377.9,330.8h0M378.1,330.3h0M378.3,329.2h0M378.5,326.7h0M378.7,327.7h0M378.8,326.1h0M378.9,324.3h0M379.1,322.5h0M379.2,319.9h0M379.4,319.7h0M379.5,315.5h0M379.6,318h0M379.7,316h0M380,312.9h0M380.3,308.1h0M380.5,310h0M380.6,309.4h0M380.7,312.2h0M381.1,318.4h0M381.2,319.6h0M381.4,327.2h0M381.7,341.6h0M381.9,350.5h0M382.1,358.2h0M382.2,365.8h0M382.6,381.5h0M382.8,389.6h0M383,394h0M383.3,398h0M383.5,401.7h0M383.6,403.3h0M383.7,402.4h0M384,401.9h0M384.1,402.8h0M384.2,403.8h0M384.3,402.7h0M384.6,405.1h0M384.9,402.1h0M385.1,400.3h0M385.4,394.5h0M385.6,395h0M385.7,390h0M386,386.6h0M386,385.7h0M386.2,379.3h0M386.8,363.7h0M387.2,346.4h0M387.3,342.9h0M387.4,339.4h0M388.1,309.5h0M388.4,300.2h0M388.4,299.4h0M388.7,292.2h0M388.9,287.2h0M389,278.9h0M389.1,277.4h0M389.3,271.8h0M389.3,271.7h0M389.4,268.7h0M389.6,266.7h0M389.8,262.4h0M390,259.4h0M390.2,257.4h0M390.3,259.3h0M390.4,257.3h0M390.8,259.6h0M390.8,260.6h0M390.9,261.2h0M391.1,266.7h0M391.3,269.1h0M391.4,271.7h0M391.5,275.8h0M391.7,281.4h0M391.7,285.1h0M392,295.1h0M392.5,311.7h0M392.6,320.5h0M392.7,325.4h0M392.8,328.9h0M393,338.3h0M393.2,345h0M393.3,352.2h0M393.4,356.8h0M393.5,363.1h0M393.8,378.2h0M393.9,379.6h0M394.7,407h0M394.8,412.2h0M395.1,416.3h0M395.3,422.6h0M395.4,424.6h0M395.6,425.7h0M395.7,427.5h0M395.9,426.4h0M396.1,429.5h0M396.2,431.1h0M396.5,429.8h0M396.5,429.1h0M396.6,431.7h0M396.7,430.9h0M397,428.8h0M397.1,431.1h0M397.3,429.7h0M397.6,428.3h0M397.7,426.9h0M397.8,425.4h0M398,422.7h0M398,420.7h0M398.1,420.7h0M398.3,417.3h0M398.4,416.2h0M398.6,412.6h0M398.6,410.9h0M399.1,400.4h0M399.2,393.9h0M399.4,387.1h0M399.5,388.6h0M399.5,384.6h0M399.6,381.2h0M399.8,374.1h0M399.9,369.7h0M400,367h0M400.4,353.6h0M400.4,349.4h0M400.7,334.4h0M400.8,332.6h0M400.9,328h0M401.3,311.5h0M401.7,294.8h0M402,283.9h0M402.6,269h0M402.8,260.1h0M403.1,260.9h0M403.3,255.7h0M403.7,253.3h0M403.9,255.1h0M404,259.7h0M404.6,265.3h0M404.6,268.4h0M404.7,269.7h0M404.8,270.9h0M404.9,274.8h0M404.9,276.5h0M405,278.6h0M405.2,282.9h0M405.2,285.1h0M405.3,290h0M405.4,291.2h0M405.5,298.6h0M405.6,300.4h0M405.8,309.6h0M406,315.8h0M406.1,318.7h0M406.3,329.8h0M406.4,333.4h0M406.5,341.1h0M406.7,347.5h0M406.8,352.6h0M406.9,354h0M407,361.2h0M407.8,387h0M407.9,389.5h0M408.6,405.4h0M408.7,409.5h0M408.8,410.1h0M408.9,409.4h0M409.1,408.9h0M409.1,413h0M409.3,411.1h0M409.4,413.7h0M409.6,412.4h0M409.9,413.3h0M410.3,413.4h0M410.6,415.2h0M410.6,413.1h0M410.9,412.2h0M411.2,409h0M411.5,407.7h0M411.8,403.2h0M412,399.4h0M412.1,396.8h0M412.2,395h0M412.4,388.3h0M412.8,377.6h0M413,375.9h0M413.3,361.1h0M413.6,355.4h0M414.1,338.1h0M414.2,333.2h0M414.2,331.4h0M414.5,321.1h0M414.5,318.8h0M414.7,313.2h0M414.9,305.8h0M415.2,296.5h0M415.3,292.9h0M415.4,289.1h0M416,274.5h0M416,275.5h0M416.1,272.4h0M416.3,267.1h0M416.4,269.1h0M416.5,267.6h0M416.6,265.9h0M416.9,261.9h0M416.9,262.2h0M417,261.3h0M417.2,263.8h0M417.5,266.1h0M417.6,267.4h0M417.7,266.1h0M417.9,269.8h0M418.1,275.3h0M418.6,285.6h0M418.7,288.9h0M419,301.2h0M419.1,305.3h0M419.5,317.5h0M419.6,322.8h0M419.8,328.6h0M420,335.5h0M420.1,338.2h0M420.5,347.8h0M420.9,357.7h0M421,358.7h0M421.1,357.5h0M421.1,362.4h0M421.2,362.1h0M421.3,362.1h0M421.7,367.7h0M421.7,367.9h0M421.8,366.6h0M421.9,366.6h0M422.1,367.7h0M422.2,367.7h0M422.3,369.2h0M422.4,369.7h0M422.7,368.3h0M422.9,364.9h0M423,366.5h0M423.2,366h0M423.3,361.8h0M423.8,352.7h0M424.8,332.6h0M425,331h0M425,330h0M425.1,332.4h0M425.2,331.1h0M425.3,330.3h0M425.7,330.2h0M426.1,328.8h0M426.5,331.9h0M426.8,328.3h0M427.2,333.7h0M427.6,330.5h0M428,333.2h0M428.3,329.5h0M428.7,329h0M429.1,333.7h0M429.5,331.3h0M429.8,331.6h0M430.2,330.8h0M430.6,329.4h0M431,332h0M431.3,329.7h0M431.7,331.1h0M432.1,333.2h0M432.5,332.4h0M432.8,331.5h0M433.2,329.7h0M433.6,330h0M434,326.9h0M434.3,329.8h0M434.7,333.7h0M435.1,330.9h0M435.5,333.8h0M435.8,327.3h0M436.2,328.9h0M436.6,328.9h0M437,330.2h0M437.3,329.7h0M437.7,330.5h0M438.1,330.1h0M438.5,327.6h0M438.8,329.9h0M439.2,327.9h0M439.6,330.7h0M440,331h0M440.3,331.6h0M440.7,330.6h0M441.1,331.5h0M441.5,329.9h0M441.8,332.1h0M442.2,331.7h0M442.6,329.5h0M443,331.1h0M443.3,329.3h0M443.7,328.7h0M444.1,328h0M444.5,331.9h0M444.8,331.9h0M445.2,330h0M445.6,332.5h0M446,329.7h0M446.3,332.9h0M446.7,331.5h0M447.1,332.7h0M447.5,330.3h0M447.8,331.6h0M448.2,331.1h0M448.6,332h0M449,329h0M449.3,328.4h0M449.7,329.7h0M450.1,329.7h0M450.5,328.2h0M450.8,331.4h0M451.2,334.2h0M451.6,329.9h0M452,332.4h0M452.3,330.7h0M452.7,331.7h0M453.1,328.6h0M453.5,333h0M453.8,331h0M454.2,331.2h0M454.6,331.8h0M455,330.3h0M455.3,332.6h0M455.7,332.3h0M456.1,330.2h0M456.5,331.8h0M456.8,332.1h0M457.2,329.2h0M457.6,333.2h0M458,328.5h0M458.3,329.9h0M458.7,331.6h0M459.1,332.2h0M459.5,328h0M459.8,331h0M460.2,330.7h0M460.6,331.1h0M461,331.9h0M461.3,328.8h0M461.7,328.1h0M462.1,330.6h0M462.5,331.3h0M462.8,329h0M463.2,330.5h0M463.6,329.1h0M464,329h0M464.3,329.9h0M464.7,331.2h0M465.1,328.6h0M465.5,327.8h0M465.8,330h0M466.2,331.5h0M466.6,328.2h0M467,330.1h0M467.3,331.3h0M467.7,330.1h0M468.1,329.2h0M468.5,331.1h0M468.8,332.5h0M469.2,331.6h0M469.6,328.3h0M470,331.5h0M470.3,329.1h0M470.7,327.6h0M471.1,330.6h0M471.5,331.5h0M471.8,331.1h0M472.2,332.3h0M472.6,332h0M473,332.9h0M473.3,331.8h0M473.7,328.2h0M474.1,332.3h0M474.5,330.3h0M474.8,330.4h0M475.2,330h0M475.6,331h0M476,332.8h0M476.3,330.9h0M476.7,330.1h0M477.1,332.2h0M477.5,330.7h0M477.8,332h0M478.2,331.9h0M478.6,330h0M479,330.9h0M479.3,327.6h0M479.7,331.9h0M480.1,330.2h0M480.5,331h0M480.8,332.6h0M481.2,331.1h0M481.6,331.3h0M482,330.2h0M482.3,329.9h0M482.7,329.6h0M483.1,330.9h0M483.5,332.9h0M483.8,332.5h0M484.2,329.6h0M484.6,331.8h0M485,334h0M485.3,329.7h0M485.7,332.2h0M486.1,330.6h0M486.5,330.3h0M486.8,332.2h0M487.2,332.7h0M487.6,330.5h0M488,329.3h0M488.3,330.4h0M488.7,330.6h0M489.1,331.3h0M489.5,331.5h0M489.8,329.2h0M490.2,331.4h0M490.6,329.8h0M491,331.6h0M491.3,332.3h0M491.7,329.7h0M492.1,329.7h0M492.5,330.9h0M492.8,329.5h0M493.2,329.3h0M493.6,331h0M494,333.4h0M494.3,330.9h0M494.7,328.9h0M495.1,329.6h0M495.5,328.8h0M495.8,330.7h0M496.2,329.4h0M496.6,333.1h0M497,331.3h0M497.3,331.4h0M497.7,330.7h0M498.1,331.2h0M498.5,330.2h0M498.8,329.7h0M499.2,330.3h0M499.6,331.3h0M500,329.8h0M500.3,331.1h0M500.7,328.5h0M501.1,328.5h0M501.5,332.3h0M501.8,330.2h0M502.2,332.9h0M502.6,329.7h0M503,331.4h0M503.3,329.1h0M503.7,331.9h0M504.1,331.1h0M504.5,331h0M504.8,332.7h0M505.2,332.3h0M505.6,330.7h0M506,331.6h0M506.3,330.3h0M506.7,330.6h0M507.1,331.4h0M507.5,332h0M507.8,331.7h0M508.2,329.3h0M508.6,330.5h0M509,330h0M509.3,329.8h0M509.7,330.9h0M510.1,330.2h0M510.5,331.6h0M510.8,332.2h0M511.2,330.5h0M511.6,331.3h0M512,331.8h0M512.3,332.9h0M512.7,329.2h0M513.1,331.6h0M513.5,330.8h0M513.8,329.8h0M514.2,330h0M514.6,330.5h0M515,329.2h0M515.3,328.4h0M515.7,331.7h0M516.1,333h0M516.5,332h0M516.8,330.4h0M517.2,330.2h0M517.6,331.2h0M518,331.5h0M518.3,332.8h0M518.7,328h0M519.1,328.5h0M70,365.2h0M70.3,362h0M136.5,272.6h0" stroke="#ff7f0e" stroke-width="2.05" stroke-linecap="round" stroke-linejoin="round" fill="none"/>
<path d="M70.2,329.2h0M70.6,331.4h0M71,329.4h0M71.3,328.1h0M71.7,331.2h0M72.1,333.1h0M72.5,332.6h0M72.8,332.6h0M73.2,331.1h0M73.6,330h0M74,330.9h0M74.3,329.2h0M74.7,331.9h0M75.1,330.9h0M75.5,331.5h0M75.8,331.1h0M76.2,330.6h0M76.6,328.3h0M77,330.7h0M77.3,331.2h0M77.7,331.1h0M78.1,329.6h0M78.5,333.1h0M78.8,326.2h0M79.2,331.1h0M79.6,330.1h0M80,329.4h0M80.3,332.1h0M80.7,329.5h0M81.1,329.5h0M81.5,331.3h0M81.8,332.3h0M82.2,330.3h0M82.6,331.6h0M83,333h0M83.3,331.4h0M83.7,332.7h0M84.1,331.1h0M84.5,331h0M84.8,329.9h0M85.2,329.3h0M85.6,328.9h0M86,332h0M86.3,333.8h0M86.7,331.4h0M87.1,329.4h0M87.5,330.9h0M87.8,330.4h0M88.2,331h0M88.5,330.6h0M88.7,329.1h0M88.7,332h0M88.8,330.4h0M89,332.2h0M89.1,333.4h0M89.2,333.3h0M89.3,334.6h0M89.5,335.3h0M89.6,335.2h0M89.7,336.9h0M89.8,336.7h0M89.9,337.7h0M89.9,339.3h0M90,339h0M90.2,340.2h0M90.3,338.9h0M90.4,340.2h0M90.8,338.8h0M90.8,340.6h0M91,339.8h0M91.3,340h0M91.4,340.5h0M91.6,338.5h0M91.7,340.4h0M92.2,336.3h0M92.4,334.4h0M92.6,333.2h0M92.6,332.1h0M93.1,327.5h0M93.2,324.8h0M93.2,326.4h0M93.3,322.6h0M93.4,322.1h0M93.5,319.8h0M93.5,320.1h0M93.8,315.9h0M94.1,313.6h0M94.3,309h0M94.5,307.8h0M94.6,307.1h0M94.9,304.4h0M95.2,304h0M95.3,301h0M96.1,305.1h0M96.2,304.2h0M96.7,308.6h0M96.8,310h0M96.8,310.6h0M97,311.1h0M97.3,317.3h0M97.4,317.2h0M97.4,318.8h0M97.6,320.8h0M97.7,322.8h0M97.8,322.3h0M97.9,324h0M98.3,329.5h0M98.4,332.2h0M98.7,337h0M98.9,338.1h0M99,341.6h0M99.1,341.3h0M99.2,342.9h0M99.3,345.5h0M99.4,347.8h0M99.5,347.1h0M99.5,349.6h0M99.7,351.4h0M99.8,353.5h0M100,355.2h0M100.1,357.1h0M100.2,359.9h0M100.3,360.3h0M100.4,361.3h0M100.4,362.2h0M100.6,363.5h0M100.7,363.7h0M100.8,366.4h0M100.9,367.8h0M101.4,372.4h0M101.5,374.3h0M101.6,375.4h0M101.6,375.6h0M101.7,376h0M101.9,375.6h0M102,377.9h0M102.2,379.1h0M102.3,380.3h0M102.7,382.1h0M103,381.2h0M103.1,383h0M103.4,383.1h0M103.5,382.1h0M103.7,382.3h0M103.7,382.4h0M103.8,383.5h0M103.9,382.7h0M104,382.9h0M104.1,382.3h0M104.3,381.7h0M104.4,382.2h0M104.8,382.4h0M104.9,381.8h0M104.9,381.8h0M105.2,382h0M105.3,379.1h0M105.4,379.5h0M105.5,377.8h0M105.7,375.1h0M105.8,375.8h0M106,373.7h0M106.1,372.3h0M106.1,367.5h0M106.3,365.8h0M106.4,365.8h0M106.4,363.9h0M106.6,360.5h0M106.7,359.3h0M106.9,354h0M107,352.8h0M107.2,346.6h0M107.3,346.5h0M107.3,343.7h0M107.4,343.2h0M107.6,337h0M107.7,334.2h0M108,324.4h0M108.2,323h0M108.2,319.3h0M108.3,317.7h0M108.5,313.8h0M108.8,302.6h0M108.9,302.1h0M109,299.5h0M109.1,298.9h0M109.2,294.3h0M109.3,293.7h0M109.4,289.6h0M109.6,285.8h0M109.7,286.1h0M109.7,286.7h0M109.9,282.8h0M110,280.5h0M110,279.4h0M110.1,279.6h0M110.2,278h0M110.3,277.7h0M110.3,276.4h0M110.4,276.7h0M110.5,275.8h0M110.7,277.8h0M110.8,276.8h0M111.1,275.6h0M111.5,278.5h0M111.5,278h0M111.7,278.8h0M111.8,281.7h0M112.2,284.5h0M112.5,289.3h0M112.7,291.2h0M112.7,293.8h0M112.9,294.8h0M113,296.6h0M113.1,298.6h0M113.2,300.7h0M113.3,301.9h0M113.3,303.4h0M113.5,307h0M113.6,307.5h0M113.6,309.1h0M113.7,312.5h0M114,317.6h0M114.2,323.1h0M114.3,323.3h0M114.4,325.8h0M114.5,326.6h0M114.8,334.6h0M115,338h0M115.1,342.5h0M115.4,345.9h0M115.5,348.3h0M115.6,350.2h0M115.7,352.9h0M115.8,354.3h0M115.9,355h0M116,358.8h0M116.2,358.6h0M116.4,363.2h0M116.6,367.4h0M116.7,367.1h0M116.8,367.9h0M117.2,372.3h0M117.4,376.7h0M117.5,375.9h0M117.8,377.9h0M117.9,377.6h0M118.1,378.8h0M118.1,381.2h0M118.9,377.4h0M119,381.1h0M119,380.6h0M119.2,380h0M119.3,379.8h0M119.4,379.9h0M119.5,380.7h0M119.6,379.6h0M119.6,379.8h0M119.8,379.5h0M120.1,377.5h0M120.2,378.6h0M120.4,376.8h0M120.5,375.8h0M120.6,373.5h0M120.7,374.4h0M120.8,374.8h0M120.9,372.2h0M121,372.3h0M121.1,369.2h0M121.4,365.5h0M121.4,365.6h0M121.6,362.1h0M121.7,360h0M122,356h0M122,352.2h0M122.1,351.6h0M122.2,352.5h0M122.3,350.1h0M122.3,346.4h0M122.4,345h0M122.5,342.9h0M122.7,338h0M122.8,337.2h0M122.9,331.7h0M123.7,314.2h0M123.8,309.3h0M124.1,303.7h0M124.2,303.3h0M124.3,300.8h0M124.4,300h0M124.4,298h0M124.5,297.9h0M124.7,294.6h0M124.7,293.8h0M124.9,290.4h0M125,290.7h0M125,287.9h0M125.1,287.5h0M125.3,287.9h0M125.4,287.1h0M125.5,285.6h0M125.6,285h0M125.6,285.7h0M125.8,285.8h0M125.9,284.1h0M126.2,287.1h0M126.2,288h0M126.7,289.9h0M127,296.8h0M127.1,297.2h0M127.1,300.1h0M127.3,303.2h0M127.4,305.5h0M127.5,308.7h0M127.7,310.1h0M127.7,313.4h0M127.8,313.1h0M127.9,316.7h0M128,317.9h0M128,318.7h0M128.2,321.7h0M128.5,329.3h0M128.7,333.2h0M128.9,335.3h0M128.9,336.4h0M129.1,338.4h0M129.2,340.3h0M129.3,341.1h0M129.5,342.8h0M129.7,345.4h0M129.8,344.9h0M129.8,343.4h0M129.9,346.5h0M130.3,345.7h0M130.6,345.9h0M130.7,344.6h0M131.2,344.5h0M131.3,342.5h0M131.3,344.5h0M131.5,342.9h0M131.6,341.6h0M131.7,342h0M131.8,342.8h0M131.9,338.5h0M132.1,337.4h0M132.2,336.4h0M132.2,335.4h0M132.4,334.5h0M132.5,329.6h0M132.6,328.3h0M132.8,327.8h0M132.8,325.6h0M132.9,325.3h0M133.1,325.2h0M133.1,322.6h0M133.2,323h0M133.4,322.2h0M133.4,320.7h0M133.5,320.5h0M134,317h0M134.1,317.3h0M134.3,316.9h0M134.6,319.1h0M134.7,318.6h0M134.8,318h0M134.9,318.8h0M134.9,319.3h0M135,318.1h0M135.2,319.8h0M135.2,318.9h0M135.3,318.8h0M135.4,319h0M135.7,321.5h0M135.8,321.2h0M136.1,322.3h0M136.1,322.6h0M136.2,322.8h0M136.4,322.9h0M136.5,320.9h0M136.6,323.1h0M136.7,323.1h0M136.8,321.6h0M137,323.7h0M137.1,324.9h0M137.2,324.5h0M137.3,324.8h0M137.5,327.1h0M137.6,326.6h0M137.7,325.3h0M137.8,329.1h0M137.9,327.4h0M137.9,328.5h0M138.1,329.3h0M138.3,329.3h0M138.4,329.7h0M138.5,328.8h0M138.5,330.5h0M139,332.5h0M139.2,334.8h0M139.3,332.5h0M139.4,333.6h0M139.5,334.3h0M139.7,334.5h0M139.8,336.3h0M139.9,336.6h0M140,337.8h0M140.1,337.8h0M140.2,336.6h0M140.3,338.8h0M140.5,338.4h0M140.6,337.9h0M140.7,337.6h0M140.8,340.5h0M140.9,339.6h0M140.9,339.5h0M141,339.8h0M141.2,338.5h0M141.2,339.3h0M141.3,340.1h0M141.4,340.5h0M141.5,340.8h0M141.7,341.2h0M141.8,340.1h0M141.8,341h0M141.9,340.5h0M142,341.4h0M142.1,342.7h0M142.1,341.3h0M142.2,340.2h0M142.3,341.3h0M142.8,343.7h0M142.9,341.6h0M143,342.7h0M143.1,343.3h0M143.2,339.8h0M143.3,341.9h0M143.4,342.2h0M143.6,343.2h0M143.6,342.9h0M143.8,343.8h0M143.9,340.8h0M144.1,341.1h0M144.2,342.6h0M144.2,341.8h0M144.5,340.9h0M144.6,342.9h0M144.8,343.3h0M145,342.7h0M145.1,339.4h0M145.1,340.4h0M145.2,341.2h0M145.3,338.3h0M145.4,338h0M145.5,336.2h0M145.6,336.6h0M145.7,335.6h0M145.9,336h0M146,334.6h0M146.1,333.6h0M146.2,333h0M146.3,334.7h0M146.4,332.6h0M146.5,331.5h0M146.6,330.8h0M146.8,331.9h0M146.9,329.9h0M147.1,324.9h0M147.5,331.5h0M147.8,323.2h0M148.2,326h0M148.6,333.6h0M149,330h0M149.3,330.7h0M149.7,328.4h0M150.1,332.2h0M150.5,336.1h0M150.8,333.9h0M151.2,330.8h0M151.6,331.4h0M152,329h0M152.3,333.5h0M152.7,331.6h0M153.1,330.9h0M153.5,329.3h0M153.8,331h0M154.2,333h0M154.6,331h0M155,327.2h0M155.3,332.5h0M155.7,332.4h0M156.1,331h0M156.5,331.4h0M156.8,328.4h0M157.2,326.5h0M157.6,331.5h0M158,327h0M158.3,332.1h0M158.7,328.1h0M159.1,323.8h0M159.5,325.5h0M159.8,330.5h0M160.2,329.5h0M160.6,330.1h0M161,328.6h0M161.3,331.9h0M161.7,331.1h0M162.1,330.5h0M162.5,329.3h0M162.8,332.4h0M163.2,329.8h0M163.6,330.3h0M164,332.4h0M164.3,330.6h0M164.7,331.1h0M165.1,331.8h0M165.5,329.8h0M165.8,331.8h0M166.2,326.7h0M166.6,328.8h0M167,332.6h0M167.3,328.8h0M167.7,328.9h0M168.1,332.5h0M168.5,326.4h0M168.8,333.5h0M169.2,333.1h0M169.6,327.7h0M170,327.9h0M170.3,331.6h0M170.7,330.1h0M171.1,328.1h0M171.5,331.7h0M171.8,328.5h0M172.2,331.1h0M172.6,330.1h0M173,332.7h0M173.3,331.2h0M173.7,332.9h0M174.1,329.3h0M174.5,331.9h0M174.8,327.1h0M175.2,333.3h0M175.6,332.9h0M176,329.6h0M176.3,329.2h0M176.7,333.4h0M177.1,330.3h0M177.5,331.8h0M177.8,332.3h0M178.2,329.9h0M178.6,331.1h0M179,330.1h0M179.3,330.9h0M179.7,332.1h0M180.1,330h0M180.5,328.9h0M180.8,330h0M181.2,326.1h0M181.6,330.3h0M182,328.4h0M182.3,331.3h0M182.7,329.2h0M183.1,329.8h0M183.5,330.4h0M183.8,331.4h0M184.2,330.4h0M184.6,330.8h0M185,331.1h0M185.3,330.5h0M185.7,331.1h0M186.1,330h0M186.5,330.9h0M186.8,331.6h0M187.2,329.1h0M187.6,333.6h0M188,326.8h0M188.3,331.3h0M188.7,329h0M189.1,329.6h0M189.5,328h0M189.8,330.3h0M190.2,330h0M190.6,329.3h0M191,329.4h0M191.3,331.3h0M191.7,330.2h0M192.1,331.1h0M192.5,330.4h0M192.8,329.5h0M193.2,329.4h0M193.6,330h0M194,330.3h0M194.3,329h0M194.7,329.4h0M195.1,328.5h0M195.5,330.7h0M195.8,332.5h0M196.2,332h0M196.6,333h0M197,329.1h0M197.3,331.2h0M197.7,329.7h0M198.1,331.4h0M198.5,330.2h0M198.8,330.5h0M199.2,331.4h0M199.6,331.6h0M200,331.3h0M200.3,331.3h0M200.7,331.8h0M201.1,329h0M201.5,329h0M201.8,330.1h0M202.2,331.7h0M202.6,332.3h0M203,330.1h0M203.3,330.5h0M203.7,330.7h0M204.1,331.7h0M204.5,330h0M204.8,329.4h0M205.2,328.5h0M205.6,331.5h0M206,331.4h0M206.3,331h0M206.7,333.1h0M207.1,332h0M207.5,331.4h0M207.8,328.7h0M208.2,331.4h0M208.6,331.8h0M209,327.5h0M209.3,331h0M209.7,332.4h0M210.1,330.1h0M210.5,327.9h0M210.8,329.6h0M211.2,330.8h0M211.6,331.1h0M212,332.4h0M212.3,330.9h0M212.7,331.1h0M213.1,330.1h0M213.5,329.7h0M213.8,330.5h0M214.2,328.8h0M214.6,330.1h0M215,329.7h0M215.3,330.9h0M215.7,328.7h0M216.1,330.2h0M216.5,332.8h0M216.8,329.7h0M217.2,329h0M217.6,329.6h0M218,327.6h0M218.3,331.3h0M218.7,329.6h0M219.1,330.1h0M219.5,332.5h0M219.8,331.1h0M220.2,334.5h0M220.6,331h0M221,329.1h0M221.3,330.3h0M221.7,329.6h0M222.1,330.1h0M222.5,332.1h0M222.8,330.5h0M223.2,328.8h0M223.6,329.4h0M224,329.9h0M224.3,330.5h0M224.7,331.9h0M225.1,331.5h0M225.5,327.8h0M225.8,329.1h0M226.2,331.3h0M226.6,329.7h0M227,331.3h0M227.3,330.6h0M227.7,330.6h0M228.1,330.3h0M228.5,330.3h0M228.8,329.5h0M229.2,329.4h0M229.6,329.6h0M230,330.5h0M230.3,331h0M230.7,330h0M231.1,331.8h0M231.5,327.9h0M231.8,327.4h0M232.2,331.1h0M232.6,329.9h0M233,332.6h0M233.3,332.8h0M233.7,333.2h0M234.1,327.7h0M234.5,329.6h0M234.8,332.9h0M235.2,330.5h0M235.6,330.2h0M236,328.9h0M236.3,330.4h0M236.7,330.7h0M237.1,330.3h0M237.5,331h0M237.8,330.6h0M238.2,330.9h0M238.6,328.7h0M239,329.6h0M239.3,331.1h0M239.7,333.1h0M240.1,328.3h0M240.5,330.5h0M240.8,328h0M241.2,330.7h0M241.6,330.8h0M242,329.5h0M242.3,329.8h0M242.7,330.6h0M243.1,329.8h0M243.5,331h0M243.8,329.9h0M244.2,329h0M244.6,332.7h0M245,332.3h0M245.3,329h0M245.7,329.9h0M246.1,329.8h0M246.5,333.1h0M246.8,331h0M247.2,332h0M247.6,330.5h0M248,329.5h0M248.3,330h0M248.7,330.4h0M249.1,329.4h0M249.5,332.9h0M249.8,331.2h0M250.2,331.4h0M250.6,328.6h0M251,328.9h0M251.3,331.1h0M251.7,329.6h0M252.1,330.2h0M252.5,332.2h0M252.8,330.5h0M253.2,330.8h0M253.6,331.8h0M254,330.8h0M254.3,330.2h0M254.7,330.3h0M255.1,328.7h0M255.5,330.7h0M255.8,329.2h0M256.2,330.2h0M256.6,332.5h0M257,329.6h0M257.3,329.2h0M257.7,330.1h0M258.1,329.7h0M258.5,328.2h0M258.8,329.5h0M259.2,330.4h0M259.6,331.9h0M260,330.1h0M260.3,330.4h0M260.7,331.9h0M261.1,331.5h0M261.5,331.1h0M261.8,330.9h0M262.2,329.5h0M262.6,331.7h0M263,328.7h0M263.3,330.7h0M263.7,329.6h0M264.1,329.5h0M264.5,330.9h0M264.8,330.1h0M265.2,332.2h0M265.6,330.5h0M266,330.9h0M266.3,329.1h0M266.7,331.4h0M267.1,328.6h0M267.5,332.2h0M267.8,330.8h0M268.2,331.8h0M268.6,331.6h0M269,330.4h0M269.3,329.6h0M269.7,328.9h0M270.1,331.4h0M270.5,330.3h0M270.8,329.7h0M271.2,329.9h0M271.6,330.7h0M272,332.5h0M272.3,329.3h0M272.7,330.2h0M273.1,329.8h0M273.5,331.6h0M273.8,330.7h0M274.2,328.7h0M274.6,330.8h0M275,329.8h0M275.3,329.8h0M275.7,332.6h0M276.1,329h0M276.5,331.4h0M276.8,331.4h0M277.2,332.4h0M277.6,329.4h0M278,330.5h0M278.3,332.5h0M278.7,329.7h0M279.1,330.5h0M279.5,330.9h0M279.8,329.9h0M280.2,333h0M280.6,331h0M281,330.6h0M281.3,330.9h0M281.7,331.5h0M282.1,328.6h0M282.5,332.3h0M282.8,330.9h0M283.2,331.5h0M283.6,331h0M284,331.2h0M284.3,330.4h0M284.7,329.5h0M285.1,332.1h0M285.5,328.3h0M285.8,331.1h0M286.2,329.2h0M286.6,330.9h0M287,331.2h0M287.3,331.2h0M287.7,331.2h0M288.1,331.8h0M288.5,330.5h0M288.8,331.3h0M289.2,329.4h0M289.6,331.2h0M290,332.2h0M290.3,333.4h0M290.7,331.6h0M291.1,333.2h0M291.5,330.9h0M291.8,330.2h0M292.2,332.8h0M292.6,328.7h0M293,330.6h0M293.3,332.6h0M293.7,331.1h0M294.1,329.6h0M294.5,331.7h0M294.8,329.9h0M295.2,331.2h0M295.6,330h0M296,328.4h0M296.3,330.2h0M296.7,330h0M297.1,330.9h0M297.5,330.9h0M297.8,330h0M298.2,330.4h0M298.6,328.5h0M299,330.5h0M299.3,330h0M299.7,330.6h0M300.1,329.7h0M300.5,330.3h0M300.8,329.3h0M301.2,329.5h0M301.6,330.9h0M302,328.7h0M302.3,330.4h0M302.7,328.6h0M303.1,331.1h0M303.5,330.9h0M303.8,331.4h0M304.2,329.2h0M304.6,333.2h0M305,334.7h0M305.3,332.4h0M305.7,328.2h0M306.1,332.1h0M306.5,330.4h0M306.8,331.3h0M307.2,331.4h0M307.6,331.4h0M308,331.8h0M308.3,330.4h0M308.7,331.8h0M309.1,330.8h0M309.5,333h0M309.8,329.5h0M310.2,331.1h0M310.6,331.2h0M311,331.8h0M311.3,327.4h0M311.7,331h0M312.1,331.9h0M312.5,330.4h0M312.8,329.2h0M313.2,333.2h0M313.6,330.5h0M314,332.4h0M314.3,333.9h0M314.7,328.4h0M315.1,330.3h0M315.5,327.8h0M315.8,332.3h0M316.2,329.8h0M316.6,329.6h0M317,330.9h0M317.3,330h0M317.7,328h0M318.1,330.1h0M318.5,330.3h0M318.8,329.8h0M319.2,330.2h0M319.6,331.5h0M320,329.1h0M320.3,330.3h0M320.7,330.1h0M321.1,331.6h0M321.5,333.8h0M321.8,330.8h0M322.2,329.7h0M322.6,329.5h0M323,331.9h0M323.3,330h0M323.7,330.4h0M324.1,332.5h0M324.5,330.4h0M324.8,331.4h0M325.2,331.9h0M325.6,333.8h0M326,331.3h0M326.3,332.7h0M326.7,329.2h0M327.1,329.4h0M327.5,330.8h0M327.8,331.7h0M328.2,330.4h0M328.6,332.7h0M329,327.6h0M329.3,331h0M329.7,332.7h0M330.1,330h0M330.5,332.3h0M330.8,331.8h0M331.2,330.7h0M331.6,331.2h0M332,331.8h0M332.3,330.3h0M332.7,330.4h0M333.1,331h0M333.5,331.8h0M333.8,330.5h0M334.2,326.9h0M334.6,332.1h0M335,327.7h0M335.3,330.3h0M335.7,331.6h0M336.1,331.6h0M336.5,330.6h0M336.8,332.3h0M337.2,329.7h0M337.6,331.9h0M338,329h0M338.3,331.5h0M338.7,332h0M339.1,330.7h0M339.5,329.8h0M339.8,332.6h0M340.2,331.4h0M340.6,331.1h0M341,332.5h0M341.3,328.7h0M341.7,332.7h0M342.1,329.6h0M342.5,327.5h0M342.8,329.7h0M343.2,331.7h0M343.6,330.4h0M344,331.4h0M344.3,332.1h0M344.7,331.7h0M345.1,331.8h0M345.5,331.2h0M345.8,330.2h0M346.2,331.7h0M346.6,329.4h0M347,330.4h0M347.3,333.7h0M347.7,329.4h0M348.1,329.6h0M348.5,330.6h0M348.8,331.9h0M349.2,331.5h0M349.6,329.6h0M350,331.5h0M350.3,331.6h0M350.7,330h0M351.1,329.6h0M351.5,331h0M351.8,332.1h0M352.2,330.3h0M352.6,330.3h0M353,331.6h0M353.3,330.9h0M353.7,329.9h0M354.1,332.2h0M354.5,329.4h0M354.8,331h0M355.2,330.2h0M355.6,329.2h0M356,331.2h0M356.3,330.1h0M356.7,330.7h0M357.1,330.2h0M357.5,331.5h0M357.8,330.4h0M358.2,330.8h0M358.6,330.6h0M359,330.2h0M359.3,330.4h0M359.7,331h0M360.1,331h0M360.5,332.3h0M360.8,327.8h0M361.2,327.3h0M361.6,333.5h0M362,330.7h0M362.3,332.2h0M362.7,331h0M363.1,330.4h0M363.5,332.4h0M363.8,329.5h0M364.2,332.5h0M364.6,331h0M365,332.7h0M365.3,328.8h0M365.7,331.1h0M366.1,328.3h0M366.5,328.6h0M366.8,330h0M367.2,331.3h0M367.6,333.8h0M368,332.8h0M368.3,331.7h0M368.7,330.3h0M369.1,330.5h0M369.5,331.9h0M369.8,330.8h0M370.2,330.6h0M370.6,331.7h0M371,329.8h0M371.3,330.9h0M371.7,329.2h0M372.1,329.2h0M372.5,332.9h0M372.8,335.9h0M373.2,331.6h0M373.6,332.3h0M374,328.6h0M374.3,330.8h0M374.7,329.5h0M375.1,331.4h0M375.5,331.6h0M375.8,331.8h0M376.2,330.4h0M376.6,331.9h0M377,329.6h0M377.2,330.2h0M377.3,330.4h0M377.4,332.3h0M377.6,329.8h0M377.6,328.7h0M377.7,327.4h0M377.8,327.6h0M378.1,321.6h0M378.2,318.7h0M378.6,309.2h0M378.8,306.6h0M378.8,302.5h0M379.3,293.6h0M379.6,294.3h0M379.7,291.7h0M379.8,294.4h0M380,293.5h0M380,292.4h0M380.1,293.8h0M380.3,295.9h0M380.3,296h0M380.4,296.2h0M380.6,300h0M380.8,302.4h0M381,305.9h0M381.2,312.3h0M381.3,314.6h0M381.4,314.5h0M381.5,316.5h0M381.5,319.8h0M381.6,321.9h0M382,332.5h0M382.1,335.2h0M382.1,338.9h0M382.5,349.3h0M382.6,352.1h0M382.7,356.1h0M382.8,358.8h0M383,365.1h0M383.2,369.1h0M383.3,370.7h0M383.3,372.5h0M383.5,376.7h0M383.8,382.5h0M383.9,383.3h0M384,389.2h0M384.4,394.4h0M384.5,396.5h0M384.6,397h0M384.8,397.9h0M384.8,397.3h0M385,398.5h0M385.1,402.8h0M385.3,400.3h0M385.4,400.9h0M385.5,404.4h0M385.7,402.5h0M385.9,402.3h0M386,403.2h0M386.2,400.3h0M386.4,403.7h0M386.5,403.1h0M386.8,401.6h0M386.9,400.5h0M387.1,400.3h0M387.5,399h0M387.5,396.8h0M387.6,397.1h0M387.8,394.2h0M387.8,393.1h0M387.9,394h0M388.4,385.7h0M389,373.6h0M389.3,366.1h0M389.6,352.9h0M390,342.8h0M390.2,336.7h0M390.2,336.8h0M390.3,332.8h0M390.5,328.9h0M390.5,324.2h0M390.6,324h0M390.7,320.5h0M390.8,318.1h0M391.1,305.9h0M391.5,293.2h0M391.6,292.1h0M391.9,282.8h0M392.3,272h0M392.3,271.3h0M392.9,259.6h0M393.2,254.5h0M393.4,255.5h0M393.8,252.7h0M393.8,250.8h0M394.1,252.7h0M394.1,253h0M394.4,254.8h0M394.5,258h0M394.8,262.2h0M394.9,263.8h0M395,266.7h0M395,269h0M395.2,274.1h0M395.5,281.9h0M395.6,289h0M395.9,302.9h0M396.1,307.5h0M396.2,309.5h0M396.2,315.5h0M396.3,316.9h0M396.5,326.2h0M396.8,340.9h0M396.9,343.5h0M397.1,353.6h0M397.3,359.3h0M397.4,362.1h0M397.7,372.7h0M397.7,374.8h0M397.8,376.8h0M397.9,378.6h0M398,384.3h0M398.2,390.1h0M398.3,389.1h0M398.5,394.8h0M398.6,397.4h0M398.6,396.6h0M398.7,399.5h0M398.9,401.8h0M399.1,403.2h0M399.2,402.2h0M399.3,403.1h0M399.4,405.6h0M399.5,405.4h0M399.8,408.1h0M400.1,408h0M400.2,406.8h0M400.4,406.6h0M400.5,406.2h0M400.7,405.3h0M400.7,406.5h0M400.9,405.6h0M401,403.3h0M401.2,403.4h0M401.3,403.3h0M401.4,402.3h0M401.7,398.2h0M401.9,394.2h0M402.5,382.1h0M402.7,378.1h0M402.8,375.5h0M403.1,368.7h0M403.1,366.6h0M403.2,365.1h0M403.3,360.8h0M403.6,353h0M403.7,347.9h0M403.9,341.1h0M404,338.3h0M404,335h0M404.1,332.6h0M404.3,327.3h0M404.3,326.8h0M404.4,324h0M404.6,318.5h0M404.8,309.7h0M405.2,295h0M405.3,294.4h0M405.4,290.7h0M405.5,285.2h0M405.8,278.2h0M405.9,275.5h0M406.1,271.5h0M406.3,267.5h0M406.4,264.5h0M406.6,263.9h0M407.3,256.3h0M407.6,256.2h0M407.6,254.4h0M407.7,255.8h0M407.8,257.4h0M407.9,257.3h0M408,257.7h0M408.1,259.7h0M408.3,261.8h0M408.4,262.8h0M408.5,262.5h0M408.9,273.2h0M409.1,276.8h0M409.1,279.3h0M409.2,283.3h0M409.5,288.9h0M409.7,295h0M409.7,297h0M409.9,300.6h0M410.1,309.4h0M410.3,312.9h0M410.3,316.2h0M410.6,324.4h0M410.6,325.8h0M410.7,328.3h0M410.9,333h0M411,338.6h0M411.1,339.3h0M411.2,341.5h0M411.2,347.1h0M411.3,347.8h0M411.5,353.5h0M411.6,356.2h0M411.7,360.7h0M411.8,361.8h0M412,364.5h0M412.1,370.6h0M412.4,377.5h0M412.4,379.8h0M413.1,390.4h0M413.3,394.3h0M413.5,396.9h0M413.7,398.2h0M413.8,400.3h0M413.9,399.6h0M414,401.1h0M414.1,401h0M414.5,400.7h0M414.5,401.4h0M414.7,402.1h0M415,402h0M415.1,399.9h0M415.4,401.1h0M415.6,400.8h0M415.7,398.1h0M415.8,399.3h0M415.9,399.2h0M416.2,397.2h0M416.3,397h0M416.4,394h0M416.8,386.5h0M417.2,376.2h0M417.2,375.4h0M417.3,371.4h0M417.6,363.6h0M417.7,361.2h0M417.8,357.6h0M418.1,345.2h0M418.3,337.7h0M418.4,332.3h0M418.7,321.9h0M419,310.5h0M419.1,307.3h0M419.3,300.3h0M419.5,296.2h0M419.6,291.7h0M419.7,285.8h0M419.9,284.5h0M419.9,281.5h0M420.2,276h0M420.3,275.8h0M420.6,270.3h0M421,272.5h0M421.4,277.5h0M421.7,282.1h0M422.2,299.6h0M422.3,302.9h0M422.5,308.4h0M422.6,311.1h0M422.6,314.7h0M422.9,322.8h0M423.4,338.4h0M423.5,340.2h0M423.5,344h0M423.6,341.9h0M423.9,348.5h0M424.1,350.8h0M424.3,351.7h0M424.6,351.3h0M424.8,350h0M425,349.1h0M425.3,350.3h0M425.3,348.8h0M425.4,350h0M425.6,347.1h0M425.6,348.3h0M425.7,347.1h0M425.8,345.4h0M425.9,345.9h0M426.4,338.8h0M426.6,335h0M426.7,335h0M426.8,336.2h0M426.8,337.6h0M426.9,332.7h0M427.1,331.9h0M427.2,332.9h0M427.4,332.1h0M427.6,328.3h0M428,330.2h0M428.3,330.7h0M428.7,331.6h0M429.1,330.4h0M429.5,334.7h0M429.8,330.8h0M430.2,331.5h0M430.6,332.2h0M431,329h0M431.3,328.5h0M431.7,329.8h0M432.1,328.4h0M432.5,331.6h0M432.8,332.5h0M433.2,329.3h0M433.6,330.1h0M434,328.6h0M434.3,332.8h0M434.7,331.3h0M435.1,327h0M435.5,332.5h0M435.8,334.7h0M436.2,330.8h0M436.6,332.5h0M437,330.5h0M437.3,329.6h0M437.7,330.3h0M438.1,333.5h0M438.5,331.7h0M438.8,331h0M439.2,329.2h0M439.6,332.6h0M440,332.9h0M440.3,332.1h0M440.7,331.5h0M441.1,330.7h0M441.5,330.3h0M441.8,331.1h0M442.2,329.7h0M442.6,330.2h0M443,332h0M443.3,333.7h0M443.7,330.8h0M444.1,330.8h0M444.5,329.4h0M444.8,330.3h0M445.2,330h0M445.6,331.4h0M446,330.6h0M446.3,326.5h0M446.7,329.7h0M447.1,331.7h0M447.5,331.7h0M447.8,334h0M448.2,331.8h0M448.6,330.7h0M449,328.8h0M449.3,330.9h0M449.7,328.7h0M450.1,330.9h0M450.5,330.1h0M450.8,331.5h0M451.2,330.6h0M451.6,330.8h0M452,330.4h0M452.3,330.1h0M452.7,328.9h0M453.1,330.9h0M453.5,331.9h0M453.8,332.4h0M454.2,330h0M454.6,330h0M455,333.1h0M455.3,331.4h0M455.7,330.3h0M456.1,327.9h0M456.5,331.4h0M456.8,330.4h0M457.2,329.1h0M457.6,331h0M458,333.1h0M458.3,331.1h0M458.7,330.8h0M459.1,331h0M459.5,329.6h0M459.8,329.7h0M460.2,331.6h0M460.6,329.6h0M461,330.5h0M461.3,331.2h0M461.7,334.2h0M462.1,330.1h0M462.5,330.4h0M462.8,331.1h0M463.2,330.7h0M463.6,329.8h0M464,330.5h0M464.3,330.1h0M464.7,328.3h0M465.1,329.6h0M465.5,331.5h0M465.8,329.1h0M466.2,329.5h0M466.6,332.5h0M467,328h0M467.3,329.6h0M467.7,329h0M468.1,329.6h0M468.5,332h0M468.8,330.4h0M469.2,330h0M469.6,330.3h0M470,330.1h0M470.3,330.1h0M470.7,331.4h0M471.1,328.4h0M471.5,331.4h0M471.8,330h0M472.2,330.1h0M472.6,332.8h0M473,330.2h0M473.3,330.1h0M473.7,332.5h0M474.1,326.6h0M474.5,330.2h0M474.8,329.3h0M475.2,329.9h0M475.6,332.3h0M476,328.8h0M476.3,329.5h0M476.7,331.3h0M477.1,330.7h0M477.5,329.5h0M477.8,329.4h0M478.2,333.7h0M478.6,331.7h0M479,331.4h0M479.3,329.6h0M479.7,329.9h0M480.1,329.3h0M480.5,330.8h0M480.8,332h0M481.2,328.2h0M481.6,328.7h0M482,329.3h0M482.3,329.7h0M482.7,332.9h0M483.1,330.9h0M483.5,333.1h0M483.8,331.2h0M484.2,331h0M484.6,330.6h0M485,330.2h0M485.3,331.2h0M485.7,328.5h0M486.1,329.1h0M486.5,333.6h0M486.8,329.4h0M487.2,327.9h0M487.6,327.1h0M488,330.5h0M488.3,329.4h0M488.7,330.7h0M489.1,328.7h0M489.5,329.3h0M489.8,331.5h0M490.2,331.6h0M490.6,329.3h0M491,328.5h0M491.3,330.9h0M491.7,325.9h0M492.1,331.3h0M492.5,331.8h0M492.8,332.1h0M493.2,329.7h0M493.6,329.4h0M494,331.1h0M494.3,330.1h0M494.7,331.9h0M495.1,331h0M495.5,330.4h0M495.8,329.5h0M496.2,330.3h0M496.6,329.5h0M497,329.4h0M497.3,332.4h0M497.7,330h0M498.1,329.6h0M498.5,330.8h0M498.8,330.2h0M499.2,333.3h0M499.6,331.4h0M500,332.5h0M500.3,330h0M500.7,330.3h0M501.1,329.5h0M501.5,329.5h0M501.8,330.1h0M502.2,334h0M502.6,328.9h0M503,330h0M503.3,329.7h0M503.7,333.3h0M504.1,329.8h0M504.5,330.2h0M504.8,331.4h0M505.2,329.4h0M505.6,329.7h0M506,332.1h0M506.3,328.6h0M506.7,330.4h0M507.1,331.3h0M507.5,330.3h0M507.8,329.5h0M508.2,329.1h0M508.6,330.9h0M509,332.1h0M509.3,329.6h0M509.7,331.2h0M510.1,331.5h0M510.5,330.2h0M510.8,331.9h0M511.2,329.9h0M511.6,331.4h0M512,329.4h0M512.3,331.3h0M512.7,331.4h0M513.1,330.7h0M513.5,331h0M513.8,328.2h0M514.2,329.3h0M514.6,328.5h0M515,331.6h0M515.3,334.4h0M515.7,330h0M516.1,329.6h0M516.5,331.2h0M516.8,332h0M517.2,331h0M517.6,333.8h0M518,330.4h0M518.3,328.5h0M518.7,330.6h0M519.1,330.3h0M354.8,361h0M194,339h0M69.6,337.5h0M70.2,340.5h0" stroke="#2ca02c" stroke-width="2.05" stroke-linecap="round" stroke-linejoin="round" fill="none"/>
<path d="M70.2,330.9h0M70.6,332.8h0M71,328.4h0M71.3,330.7h0M71.7,330.1h0M72.1,332.8h0M72.5,329.4h0M72.8,329.7h0M73.2,331.8h0M73.6,330h0M74,330.1h0M74.3,329.5h0M74.7,328.3h0M75.1,329.5h0M75.5,329h0M75.8,329.9h0M76.2,332.6h0M76.6,328.1h0M77,329.1h0M77.3,330.7h0M77.7,329.1h0M78.1,332.6h0M78.5,332.1h0M78.8,330.6h0M79.2,329.7h0M79.6,329.1h0M80,332.1h0M80.3,330.1h0M80.7,328.5h0M81.1,331.4h0M81.5,328h0M81.8,329.9h0M82.2,330.4h0M82.6,330.7h0M83,332h0M83.3,331.9h0M83.7,329.3h0M84.1,329.8h0M84.5,330.2h0M84.8,331.1h0M85.2,331.7h0M85.6,332.7h0M86,332.3h0M86.3,330.8h0M86.7,332.5h0M87.1,331.2h0M87.5,331.4h0M87.8,331.4h0M88.2,330h0M88.6,331.2h0M89,329.9h0M89.3,330.7h0M89.7,331.1h0M90.1,331.1h0M90.5,330.7h0M90.8,329.7h0M91.3,332h0M91.4,331.4h0M91.5,333.9h0M91.8,334.8h0M92,335.6h0M92.1,336.1h0M92.2,337.7h0M92.6,342.2h0M92.6,342h0M92.9,343h0M92.9,342.4h0M93,341.2h0M93.1,345.4h0M93.2,345.7h0M93.2,346.3h0M93.4,346.9h0M93.6,345.4h0M93.7,346.7h0M93.8,344.9h0M94,347.4h0M94.4,344.7h0M94.4,345h0M94.6,341.8h0M94.7,340.4h0M94.9,339.3h0M95,336h0M95.1,333.8h0M95.2,331.6h0M95.3,327.9h0M95.4,326.1h0M95.6,320.9h0M95.6,317.1h0M95.9,311h0M95.9,309.2h0M96,305.3h0M96.1,304.9h0M96.2,298.8h0M96.3,297.6h0M96.5,294.2h0M96.5,291.2h0M96.6,290.2h0M96.8,285.1h0M97,283.1h0M97.1,281.7h0M97.2,282.4h0M97.4,281.1h0M97.4,282.9h0M97.5,283h0M97.6,283.4h0M97.8,289.2h0M98,290.9h0M98.2,299.5h0M98.4,306.3h0M98.5,309.1h0M98.6,313.6h0M98.6,317.1h0M98.8,322.1h0M99,333.9h0M99.2,338.7h0M99.2,342.1h0M99.3,344.3h0M99.4,347.5h0M99.5,351.3h0M99.5,353.5h0M99.6,354.4h0M99.7,356.3h0M99.8,362h0M99.9,362.2h0M100,362.6h0M100.1,363.8h0M100.2,365.9h0M100.5,368h0M100.6,370.7h0M100.7,369.3h0M100.7,370.7h0M101,371.1h0M101,367.9h0M101.1,369.7h0M101.2,370.1h0M101.3,369.5h0M101.3,368.1h0M101.5,366.4h0M101.8,365.3h0M101.9,363.8h0M102.2,359.6h0M102.3,356.7h0M102.6,350.1h0M102.7,346.5h0M102.8,342.1h0M103.1,335.1h0M103.4,324.5h0M103.5,320.3h0M103.7,317.3h0M103.8,312.3h0M104,306h0M104.1,305.7h0M104.3,303.3h0M104.4,298.4h0M104.5,298.2h0M104.6,298.5h0M104.6,298.7h0M104.7,297.4h0M104.8,296.9h0M104.9,294.6h0M105,294.5h0M105.2,295.1h0M105.3,297.3h0M105.4,299.4h0M105.5,302.3h0M105.8,315.8h0M106.1,324.3h0M106.2,330.9h0M106.3,333.6h0M106.4,338.1h0M106.4,339.9h0M106.7,347.5h0M106.8,354.8h0M106.9,355.6h0M107,357.2h0M107,360.1h0M107.1,360h0M107.2,363.2h0M107.3,364.7h0M107.5,364h0M107.6,365h0M107.7,364.7h0M107.9,364.2h0M108.1,365.2h0M108.2,364.2h0M108.2,365.7h0M108.3,363.2h0M108.5,362.4h0M108.8,357.4h0M108.9,359h0M109.1,354.4h0M109.1,352.8h0M109.2,352.3h0M109.3,349.9h0M109.6,342.7h0M109.7,341.5h0M109.9,332.3h0M110,330.9h0M110.1,327.2h0M110.3,319.8h0M110.3,321.7h0M110.6,314.5h0M110.6,311.3h0M110.9,303.9h0M111.2,296.9h0M111.4,293.4h0M111.5,290.8h0M111.7,288h0M111.8,289.1h0M111.9,288.6h0M112,286.2h0M112.1,289.4h0M112.4,295.2h0M112.4,296.1h0M112.5,297.6h0M112.6,302.8h0M112.7,310h0M112.9,318.7h0M113.1,332.5h0M113.2,337.3h0M113.3,341.7h0M113.5,352.7h0M113.7,361h0M113.9,365.1h0M114.2,369.1h0M114.2,370.3h0M114.3,371.6h0M114.4,369.7h0M114.5,368.3h0M114.5,370.7h0M114.9,369.2h0M115,369.6h0M115.2,368.5h0M115.3,366.6h0M115.4,366h0M115.5,364.7h0M115.7,362h0M115.7,360.9h0M116,358.3h0M116,355.7h0M116.3,352.6h0M116.3,348.1h0M116.4,345.8h0M116.6,344.5h0M116.6,340.6h0M116.7,336.7h0M116.8,336.1h0M117,329.1h0M117.1,326.3h0M117.2,324.6h0M117.3,321.7h0M117.7,310.9h0M117.8,306.9h0M117.9,304.8h0M118.1,299.6h0M118.1,300.2h0M118.5,295.3h0M118.9,291.3h0M119,292.2h0M119,291.7h0M119.2,295.2h0M119.5,302.3h0M119.6,309.6h0M119.8,315.3h0M119.9,319h0M119.9,323.3h0M120.1,327.9h0M120.2,337.5h0M120.4,343.7h0M120.7,353.9h0M120.8,354.6h0M120.8,355.6h0M120.9,358.5h0M121,360.2h0M121.1,362.4h0M121.1,363.3h0M121.4,363.6h0M121.4,364.9h0M122.1,364.2h0M122.2,365.1h0M122.3,364.3h0M122.4,364.5h0M122.5,361.6h0M122.8,361.7h0M123.2,355.5h0M123.4,350.4h0M123.5,348h0M123.5,346.8h0M123.6,346.5h0M123.8,343h0M123.9,338.8h0M124,338.4h0M124.1,336h0M124.2,331.2h0M124.3,330.4h0M124.5,323.7h0M124.6,321.8h0M124.7,318.3h0M125,312.7h0M125.1,311.5h0M125.4,305.5h0M125.6,300.5h0M125.6,300.6h0M125.9,295.7h0M126,298.1h0M126.1,295.2h0M126.2,295.2h0M126.5,300h0M126.8,304h0M126.8,307.1h0M127.1,315.5h0M127.1,319.3h0M127.2,319.7h0M127.3,325h0M127.4,331.8h0M127.5,331.6h0M127.6,335.6h0M127.7,338.5h0M128,342.9h0M128.2,344.8h0M128.3,346.2h0M128.3,345.7h0M128.5,345.4h0M128.9,342.5h0M129.2,339h0M129.2,337.6h0M129.3,336.6h0M129.4,336.4h0M129.6,330.1h0M129.8,327.5h0M130.1,323.4h0M130.1,321.8h0M130.5,318.3h0M130.7,316.8h0M131,320.9h0M131.1,322.7h0M131.2,321.6h0M131.3,324.1h0M131.4,323.8h0M131.6,327.5h0M131.6,328h0M131.7,327h0M131.8,330.1h0M131.9,329.2h0M131.9,330h0M132,329.9h0M132.2,329.7h0M132.4,332.1h0M132.5,331h0M132.8,331.6h0M133.2,330h0M133.6,331.9h0M134,332.9h0M134.3,330.3h0M134.7,325.6h0M135.1,336.3h0M135.5,329h0M135.8,331.5h0M136.2,328.4h0M136.6,323.2h0M137,331.9h0M137.3,329.8h0M137.7,328.3h0M138.1,327.5h0M138.5,330.2h0M138.8,334.5h0M139.2,329.1h0M139.6,324h0M140,331.4h0M140.3,330.2h0M140.7,335.3h0M141.1,328.4h0M141.5,333h0M141.8,322.8h0M142.2,330h0M142.6,331.5h0M143,336.4h0M143.3,327.2h0M143.7,327.9h0M144.1,333.7h0M144.5,332.2h0M144.8,327.5h0M145.2,331h0M145.6,332h0M146,328.5h0M146.3,329.1h0M146.7,329.3h0M147.1,326.8h0M147.5,332.5h0M147.8,330.2h0M148.2,329.9h0M148.6,329.7h0M149,330.4h0M149.3,329h0M149.7,327.7h0M150.1,330.4h0M150.5,331.1h0M150.8,334.2h0M151.2,329.2h0M151.6,330.4h0M152,330.2h0M152.3,331.8h0M152.7,330.1h0M153.1,333.8h0M153.5,328.4h0M153.8,332.6h0M154.2,329.7h0M154.6,326.3h0M155,330.2h0M155.3,326h0M155.7,328.8h0M156.1,329.3h0M156.5,331.9h0M156.8,329.1h0M157.2,329.5h0M157.6,330.8h0M158,331.8h0M158.3,332.9h0M158.7,334.9h0M159.1,334.7h0M159.5,330.3h0M159.8,330.8h0M160.2,330.7h0M160.6,331.7h0M161,329.2h0M161.3,327.9h0M161.7,330.8h0M162.1,330.2h0M162.5,328.4h0M162.8,331h0M163.2,329.9h0M163.6,327.9h0M164,332.3h0M164.3,329h0M164.7,326.6h0M165.1,332.3h0M165.5,331.7h0M165.8,332.7h0M166.2,331.9h0M166.6,330.6h0M167,329.4h0M167.3,329.3h0M167.7,330.3h0M168.1,331.1h0M168.5,329.2h0M168.8,330.6h0M169.2,328.5h0M169.6,332.5h0M170,331.2h0M170.3,330.2h0M170.7,333.2h0M171.1,331.8h0M171.5,329.5h0M171.8,328.3h0M172.2,328.6h0M172.6,330.6h0M173,330.4h0M173.3,330.2h0M173.7,331.4h0M174.1,328.9h0M174.5,330.1h0M174.8,328h0M175.2,328h0M175.6,329.3h0M176,328.9h0M176.3,330.4h0M176.7,332.2h0M177.1,330.4h0M177.5,332.2h0M177.8,331.1h0M178.2,330.9h0M178.6,332.3h0M179,328.5h0M179.3,330.2h0M179.7,329.7h0M180.1,330.5h0M180.5,329.5h0M180.8,330.6h0M181.2,330.7h0M181.6,330.1h0M182,329.1h0M182.3,329.8h0M182.7,331.4h0M183.1,331.1h0M183.5,331.4h0M183.8,332.5h0M184.2,330.6h0M184.6,331.9h0M185,329h0M185.3,330.3h0M185.7,329.7h0M186.1,330.5h0M186.5,329.4h0M186.8,331.1h0M187.2,330.3h0M187.6,330.3h0M188,331.6h0M188.3,329.4h0M188.7,331.8h0M189.1,330.9h0M189.5,331h0M189.8,331h0M190.2,329.6h0M190.6,329.5h0M191,331.6h0M191.3,330.4h0M191.7,329.4h0M192.1,331.1h0M192.5,331.6h0M192.8,329.6h0M193.2,330.8h0M193.6,329.3h0M194,330.4h0M194.3,330.5h0M194.7,331.6h0M195.1,330h0M195.5,330.2h0M195.8,329.1h0M196.2,330.9h0M196.6,331h0M197,330.3h0M197.3,330.6h0M197.7,331h0M198.1,330.8h0M198.5,331.3h0M198.8,330.7h0M199.2,331.3h0M199.6,331h0M200,329.1h0M200.3,329.9h0M200.7,330h0M201.1,329.9h0M201.5,331.1h0M201.8,331h0M202.2,331h0M202.6,330.3h0M203,329.4h0M203.3,331.3h0M203.7,330.2h0M204.1,330.6h0M204.5,330.4h0M204.8,331.1h0M205.2,330.1h0M205.6,330.7h0M206,330.2h0M206.3,330h0M206.7,329.9h0M207.1,329.9h0M207.5,330.7h0M207.8,330.3h0M208.2,331.2h0M208.6,331h0M209,329.9h0M209.3,330h0M209.7,330.1h0M210.1,329.8h0M210.5,332h0M210.8,330.2h0M211.2,330.9h0M211.6,330.9h0M212,330.3h0M212.3,330.2h0M212.7,331.4h0M213.1,331.7h0M213.5,331.4h0M213.8,329.9h0M214.2,330.7h0M214.6,331.7h0M215,330.3h0M215.3,330.6h0M215.7,331.2h0M216.1,329.6h0M216.5,330.9h0M216.8,330.8h0M217.2,330.4h0M217.6,329.5h0M218,331h0M218.3,330.3h0M218.7,330h0M219.1,331.1h0M219.5,330.2h0M219.8,331h0M220.2,329.5h0M220.6,331.2h0M221,329.5h0M221.3,329.6h0M221.7,331.4h0M222.1,330.7h0M222.5,331.7h0M222.8,331h0M223.2,330.8h0M223.6,331.7h0M224,330.8h0M224.3,330.2h0M224.7,329.5h0M225.1,329.8h0M225.5,330.2h0M225.8,330.4h0M226.2,330.6h0M226.6,331.3h0M227,331h0M227.3,331.6h0M227.7,330.2h0M228.1,330.5h0M228.5,330.5h0M228.8,331.5h0M229.2,330.5h0M229.6,331.4h0M230,331.3h0M230.3,331.1h0M230.7,330.1h0M231.1,329.6h0M231.5,329.8h0M231.8,330.2h0M232.2,330.9h0M232.6,330.1h0M233,331h0M233.3,330h0M233.7,330.7h0M234.1,330.6h0M234.5,329.9h0M234.8,329.8h0M235.2,329.3h0M235.6,330.8h0M236,329.9h0M236.3,329.5h0M236.7,331.4h0M237.1,330.6h0M237.5,330.3h0M237.8,331.1h0M238.2,330.3h0M238.6,330.5h0M239,329.9h0M239.3,331.2h0M239.7,329.9h0M240.1,330h0M240.5,330.6h0M240.8,331.5h0M241.2,329.6h0M241.6,330.5h0M242,330.5h0M242.3,331h0M242.7,330.7h0M243.1,331.3h0M243.5,331.5h0M243.8,330.8h0M244.2,330.9h0M244.6,329.7h0M245,330.1h0M245.3,330.1h0M245.7,330.3h0M246.1,330.2h0M246.5,331h0M246.8,330.1h0M247.2,329.5h0M247.6,331.6h0M248,331.6h0M248.3,330h0M248.7,331.1h0M249.1,330.3h0M249.5,330.8h0M249.8,330.1h0M250.2,329.7h0M250.6,329.8h0M251,330.2h0M251.3,329.2h0M251.7,330.6h0M252.1,330.3h0M252.5,330.8h0M252.8,330.6h0M253.2,331.2h0M253.6,330.9h0M254,330.7h0M254.3,330.9h0M254.7,331.1h0M255.1,331h0M255.5,331.2h0M255.8,330.3h0M256.2,330.3h0M256.6,330.1h0M257,330.7h0M257.3,330.2h0M257.7,330.9h0M258.1,329.7h0M258.5,329.9h0M258.8,331.1h0M259.2,329.8h0M259.6,331.6h0M260,329.8h0M260.3,331h0M260.7,330h0M261.1,330.8h0M261.5,330.1h0M261.8,329.8h0M262.2,329.5h0M262.6,331h0M263,330.5h0M263.3,330.9h0M263.7,329.3h0M264.1,331.6h0M264.5,330.4h0M264.8,329.6h0M265.2,330.7h0M265.6,330.1h0M266,330.1h0M266.3,331.3h0M266.7,331.5h0M267.1,331.1h0M267.5,330.8h0M267.8,330.8h0M268.2,330.7h0M268.6,329.6h0M269,329.4h0M269.3,329.8h0M269.7,329.8h0M270.1,330.8h0M270.5,329.9h0M270.8,331.1h0M271.2,330.1h0M271.6,330.4h0M272,331h0M272.3,330.1h0M272.7,331.1h0M273.1,330h0M273.5,330.9h0M273.8,331h0M274.2,330.2h0M274.6,330.4h0M275,330.7h0M275.3,331h0M275.7,331.7h0M276.1,330.5h0M276.5,331.4h0M276.8,330.3h0M277.2,330.1h0M277.6,331.2h0M278,330.5h0M278.3,330.7h0M278.7,330.5h0M279.1,331.6h0M279.5,331.1h0M279.8,330.8h0M280.2,330.2h0M280.6,330h0M281,330.8h0M281.3,330.9h0M281.7,330.5h0M282.1,330.7h0M282.5,331.3h0M282.8,330.6h0M283.2,329.8h0M283.6,330h0M284,329.8h0M284.3,331.1h0M284.7,329.9h0M285.1,331.5h0M285.5,330.5h0M285.8,331.4h0M286.2,330.6h0M286.6,332h0M287,330.6h0M287.3,330.3h0M287.7,330.5h0M288.1,330h0M288.5,330.9h0M288.8,331.4h0M289.2,330.9h0M289.6,331.3h0M290,330.5h0M290.3,330.3h0M290.7,330.2h0M291.1,331.1h0M291.5,330.7h0M291.8,331.5h0M292.2,330.7h0M292.6,330.9h0M293,330.7h0M293.3,330.3h0M293.7,330.9h0M294.1,330.2h0M294.5,330.9h0M294.8,331.4h0M295.2,329.7h0M295.6,329.9h0M296,329.8h0M296.3,330.9h0M296.7,331.5h0M297.1,329.8h0M297.5,330.7h0M297.8,330.8h0M298.2,331.1h0M298.6,329.8h0M299,330.6h0M299.3,329.5h0M299.7,329.8h0M300.1,331.7h0M300.5,331h0M300.8,330h0M301.2,331.4h0M301.6,331.7h0M302,329.7h0M302.3,330.7h0M302.7,330.6h0M303.1,330.1h0M303.5,331.5h0M303.8,331.8h0M304.2,329.9h0M304.6,330.9h0M305,330.3h0M305.3,330.6h0M305.7,331.2h0M306.1,330.4h0M306.5,330.3h0M306.8,329.9h0M307.2,330.8h0M307.6,329.8h0M308,330.2h0M308.3,330.5h0M308.7,330.7h0M309.1,331h0M309.5,331h0M309.8,330.2h0M310.2,330.3h0M310.6,330.1h0M311,331h0M311.3,330.5h0M311.7,329.9h0M312.1,330.2h0M312.5,329.8h0M312.8,330.8h0M313.2,330.5h0M313.6,331.2h0M314,331.8h0M314.3,329.8h0M314.7,330.7h0M315.1,330.8h0M315.5,330.6h0M315.8,331h0M316.2,329.6h0M316.6,331.2h0M317,330.3h0M317.3,329.6h0M317.7,331.3h0M318.1,329.8h0M318.5,330h0M318.8,330.9h0M319.2,329.9h0M319.6,330.5h0M320,330.5h0M320.3,330.3h0M320.7,331.2h0M321.1,330.3h0M321.5,329.9h0M321.8,331.7h0M322.2,331.4h0M322.6,330.8h0M323,331.7h0M323.3,331.4h0M323.7,329.9h0M324.1,330.6h0M324.5,330.5h0M324.8,331.3h0M325.2,331.5h0M325.6,331.3h0M326,330.1h0M326.3,330.6h0M326.7,331.6h0M327.1,330.2h0M327.5,330.7h0M327.8,330.9h0M328.2,329.7h0M328.6,330.2h0M329,330.9h0M329.3,330.4h0M329.7,330.1h0M330.1,330.3h0M330.5,330.8h0M330.8,330.5h0M331.2,331.8h0M331.6,330.9h0M332,331.4h0M332.3,329.9h0M332.7,329.6h0M333.1,331h0M333.5,330.2h0M333.8,331.5h0M334.2,331.8h0M334.6,330.6h0M335,330.9h0M335.3,330.4h0M335.7,331.3h0M336.1,331h0M336.5,330.1h0M336.8,331.1h0M337.2,331.1h0M337.6,330.5h0M338,330.4h0M338.3,330.8h0M338.7,329.8h0M339.1,330.7h0M339.5,330.4h0M339.8,331h0M340.2,330.2h0M340.6,330.1h0M341,330.7h0M341.3,330h0M341.7,331.1h0M342.1,331.4h0M342.5,330h0M342.8,330.8h0M343.2,330.7h0M343.6,331h0M344,330.3h0M344.3,330.7h0M344.7,332h0M345.1,330.6h0M345.5,329.4h0M345.8,329.9h0M346.2,331.3h0M346.6,330.5h0M347,331.3h0M347.3,330.9h0M347.7,330.8h0M348.1,331.7h0M348.5,330.7h0M348.8,331.9h0M349.2,330.9h0M349.6,330.8h0M350,329.6h0M350.3,329.3h0M350.7,330.4h0M351.1,330.9h0M351.5,330.1h0M351.8,330.5h0M352.2,330.1h0M352.6,330.6h0M353,331.5h0M353.3,331h0M353.7,330.4h0M354.1,331.3h0M354.5,330.6h0M354.8,330h0M355.2,330.3h0M355.6,331.7h0M356,330h0M356.3,330.8h0M356.7,331.3h0M357.1,330.7h0M357.5,330.9h0M357.8,330.2h0M358.2,330.7h0M358.6,331.8h0M359,330.9h0M359.3,331.6h0M359.7,329.9h0M360.1,329.8h0M360.5,330.8h0M360.8,330h0M361.2,329.5h0M361.6,330.2h0M362,331.1h0M362.3,330.1h0M362.7,330.4h0M363.1,329.5h0M363.5,331.9h0M363.8,330.7h0M364.2,331.1h0M364.6,331.1h0M365,330.4h0M365.3,331.1h0M365.7,330.2h0M366.1,330.8h0M366.5,330.7h0M366.8,331.5h0M367.2,330.9h0M367.6,330.2h0M368,330.8h0M368.3,329.8h0M368.7,330.2h0M369.1,331h0M369.5,329.9h0M369.8,330.4h0M370.2,330.7h0M370.6,330.8h0M371,329.6h0M371.3,329.5h0M371.7,329.7h0M372.1,330.4h0M372.5,331h0M372.8,329.7h0M373.2,331.3h0M373.6,328.9h0M374,330.7h0M374.3,328.1h0M374.7,330.1h0M375.1,331.4h0M375.5,329.7h0M375.8,327.6h0M376.2,329.8h0M376.6,329.3h0M377,330.6h0M377.3,329.8h0M377.7,333.2h0M378,331.6h0M378.2,330.2h0M378.3,332.1h0M378.4,328.8h0M378.5,330.1h0M378.7,331h0M379.1,326.8h0M379.3,324.8h0M379.4,325.7h0M379.5,322.9h0M379.6,322.4h0M379.9,315.1h0M380,317.3h0M380.2,312.3h0M380.3,308.4h0M380.5,309.2h0M380.6,307.5h0M380.9,303.5h0M381,302.7h0M381.6,300.8h0M381.8,303h0M381.8,301.8h0M381.9,304.5h0M382,305.4h0M382.4,321.3h0M382.5,324.5h0M382.6,327.9h0M382.7,332.8h0M382.8,337.2h0M382.9,341.2h0M383,348.6h0M383.2,354.1h0M383.4,365.2h0M383.6,372h0M383.6,374.2h0M383.8,378.9h0M383.9,382.8h0M384,384.4h0M384.3,387.7h0M384.4,390.4h0M384.6,390.7h0M384.9,391.2h0M385.1,393.1h0M385.3,389.5h0M385.4,391.9h0M385.5,389.6h0M385.7,387.1h0M385.8,384.3h0M386.1,375.5h0M386.2,374.3h0M386.3,374.2h0M386.5,365.6h0M386.6,361h0M386.8,352.4h0M386.9,346.7h0M387.2,328.4h0M387.5,316.3h0M387.6,308.8h0M388.1,285.3h0M388.3,278.4h0M388.4,276.4h0M388.4,276.9h0M388.7,268.7h0M389,267h0M389.1,267.6h0M389.4,272.1h0M389.7,279.2h0M389.9,284.1h0M389.9,289.8h0M390.2,302h0M390.6,324.4h0M390.8,335.1h0M390.9,342.5h0M391.1,349.8h0M391.1,353.8h0M391.3,361.3h0M391.4,365.6h0M391.4,370.5h0M391.7,378.1h0M391.9,385.5h0M392,386.2h0M392.2,391.7h0M392.6,394.4h0M392.8,396.2h0M392.9,395.2h0M393.6,393.1h0M394.1,387.1h0M394.2,382.4h0M394.3,377.4h0M394.4,377.2h0M394.4,375h0M394.5,373h0M394.6,367.7h0M394.7,366.7h0M394.9,357.6h0M395,350.3h0M395.1,348.6h0M395.6,322.5h0M395.8,313.9h0M395.9,309.5h0M395.9,308.6h0M396.2,291.5h0M396.3,291.8h0M396.4,287.5h0M396.7,278.9h0M396.8,276.8h0M397,272.8h0M397.1,270.8h0M397.3,269.5h0M397.4,270.7h0M397.4,270.2h0M397.5,272.7h0M397.8,281.1h0M397.9,283.5h0M398.1,297.2h0M398.3,305.8h0M398.4,316.3h0M398.8,343.9h0M399.2,366.8h0M399.2,371.8h0M399.4,379.5h0M399.5,384.4h0M399.6,387.9h0M399.7,389h0M399.8,393h0M400,395.7h0M400.1,393.1h0M400.2,394.9h0M400.4,392.4h0M400.5,394.9h0M401.3,388.6h0M401.6,382.3h0M401.7,380.9h0M401.8,379.2h0M402,372h0M402.2,366.5h0M402.2,362.2h0M402.5,353.1h0M402.6,348.5h0M403.2,319.1h0M403.3,316.4h0M403.7,300h0M403.7,299.1h0M404,289.6h0M404,287h0M404.2,284.6h0M404.4,278.2h0M404.5,276.3h0M404.8,276.7h0M404.9,274.5h0M405,273.5h0M405.1,273.2h0M405.2,275h0M405.4,282.6h0M405.6,290.9h0M405.8,294.6h0M405.8,300.6h0M405.9,304.5h0M406.1,316.7h0M406.2,320.3h0M406.4,329h0M406.4,336.7h0M406.5,341.4h0M406.7,353.5h0M406.9,361.3h0M407,365h0M407.1,373.8h0M407.3,379.4h0M407.4,384.8h0M407.5,386.4h0M407.6,389.6h0M407.9,396.1h0M408.1,395.8h0M408.4,397.3h0M408.5,397.3h0M408.6,396.3h0M408.7,395.3h0M408.8,396h0M409.3,385.7h0M409.4,385.3h0M409.7,371.1h0M409.9,360.2h0M410,357.7h0M410,354.4h0M410.3,338.9h0M410.3,334.9h0M410.4,331.6h0M410.6,313.5h0M410.7,311.1h0M410.8,307.2h0M411,295.1h0M411.1,290.7h0M411.2,287.6h0M411.2,284.7h0M411.3,280.9h0M411.7,270.2h0M412.2,278.5h0M412.6,288.2h0M412.8,295.7h0M412.9,298.7h0M413,305.3h0M413.2,317.4h0M413.3,323.5h0M413.7,343.8h0M414,358.9h0M414.1,362.3h0M414.4,375.6h0M414.5,376h0M414.6,382.7h0M414.7,383.3h0M414.8,388.4h0M415.3,392h0M415.4,393.5h0M415.6,393.7h0M415.7,393.5h0M416.1,392.6h0M416.3,392.9h0M416.4,391.7h0M416.7,384.3h0M416.9,376h0M417.5,354h0M417.5,351.2h0M417.6,347.1h0M417.7,344.6h0M417.8,339.9h0M417.8,336.3h0M418,329.2h0M418.1,321.1h0M418.2,316.2h0M418.4,308.4h0M418.5,304.4h0M418.6,300.2h0M418.7,294.9h0M419.1,286.3h0M419.2,285.9h0M419.3,283.5h0M419.3,283.2h0M419.5,283.7h0M419.6,284.2h0M419.8,286.8h0M419.9,287.8h0M420.3,301.7h0M420.5,308.7h0M420.7,315.5h0M420.8,317.4h0M421.1,330.7h0M421.1,334.2h0M421.4,343.2h0M421.4,344.6h0M421.5,349.7h0M421.6,350.7h0M421.9,359.9h0M422,362.9h0M422.3,368.8h0M422.5,369.3h0M423,371.2h0M423.4,370.8h0M423.5,368.2h0M423.7,366.3h0M423.8,363.7h0M424,360.7h0M424.1,355.3h0M424.2,355h0M424.4,350.3h0M424.4,345h0M424.5,342.2h0M424.6,341.1h0M424.7,338h0M424.7,335.7h0M424.8,334.1h0M425.2,324.6h0M425.3,322.4h0M425.9,324.1h0M425.9,320.3h0M426,325.8h0M426.1,324.1h0M426.2,324.9h0M426.6,327.5h0M426.9,331.3h0M427,328.8h0M427.1,331.1h0M427.2,330.5h0M427.4,331.8h0M427.6,333h0M428,330.6h0M428.3,331.3h0M428.7,329.6h0M429.1,330h0M429.5,332.1h0M429.8,330.2h0M430.2,331.3h0M430.6,333.5h0M431,331.8h0M431.3,330.3h0M431.7,331h0M432.1,330.6h0M432.5,331.3h0M432.8,331.9h0M433.2,332.6h0M433.6,329.5h0M434,330.7h0M434.3,330.2h0M434.7,329.2h0M435.1,332.3h0M435.5,328.8h0M435.8,331h0M436.2,330.3h0M436.6,329.7h0M437,329.8h0M437.3,330.2h0M437.7,331.5h0M438.1,331.1h0M438.5,331h0M438.8,330.3h0M439.2,329.7h0M439.6,331h0M440,330.5h0M440.3,330.8h0M440.7,331.5h0M441.1,331.2h0M441.5,330.9h0M441.8,330.9h0M442.2,331.1h0M442.6,331.1h0M443,330.9h0M443.3,330.3h0M443.7,330.7h0M444.1,331.5h0M444.5,331.3h0M444.8,330.6h0M445.2,329.9h0M445.6,331.3h0M446,330.8h0M446.3,331.1h0M446.7,329.7h0M447.1,330.7h0M447.5,330.8h0M447.8,330.4h0M448.2,330.1h0M448.6,330.9h0M449,330.7h0M449.3,329.8h0M449.7,330.8h0M450.1,331h0M450.5,330h0M450.8,330.1h0M451.2,330.6h0M451.6,330h0M452,331.5h0M452.3,330.3h0M452.7,330.2h0M453.1,331.1h0M453.5,330.9h0M453.8,331.3h0M454.2,331.6h0M454.6,331.6h0M455,329.9h0M455.3,331.1h0M455.7,331.5h0M456.1,331.4h0M456.5,330.7h0M456.8,331.2h0M457.2,329.9h0M457.6,330.8h0M458,331.4h0M458.3,330.4h0M458.7,330.4h0M459.1,330.9h0M459.5,330.6h0M459.8,329.6h0M460.2,330.3h0M460.6,330h0M461,330.7h0M461.3,329.9h0M461.7,329.7h0M462.1,331.3h0M462.5,330h0M462.8,330.8h0M463.2,331.2h0M463.6,330.7h0M464,331.1h0M464.3,330h0M464.7,330.6h0M465.1,329.5h0M465.5,329.9h0M465.8,329.5h0M466.2,330.5h0M466.6,331.2h0M467,331.3h0M467.3,331.2h0M467.7,330.7h0M468.1,330.7h0M468.5,331h0M468.8,330.5h0M469.2,329.6h0M469.6,330.7h0M470,330.2h0M470.3,329.9h0M470.7,331.2h0M471.1,329.9h0M471.5,330.6h0M471.8,329.9h0M472.2,330.6h0M472.6,330.9h0M473,330.3h0M473.3,331.4h0M473.7,330.8h0M474.1,329.8h0M474.5,330.1h0M474.8,331.3h0M475.2,331.5h0M475.6,330.5h0M476,330.7h0M476.3,330.9h0M476.7,331.4h0M477.1,330.3h0M477.5,330.1h0M477.8,330.2h0M478.2,331.2h0M478.6,330.8h0M479,330.4h0M479.3,329.9h0M479.7,330.4h0M480.1,330.8h0M480.5,329.8h0M480.8,329.6h0M481.2,331.4h0M481.6,331.2h0M482,329.7h0M482.3,331h0M482.7,331.3h0M483.1,330.6h0M483.5,329.9h0M483.8,330.8h0M484.2,330.6h0M484.6,331.3h0M485,330.5h0M485.3,330.9h0M485.7,330.2h0M486.1,329.9h0M486.5,330.6h0M486.8,329.9h0M487.2,330.7h0M487.6,329.4h0M488,329.7h0M488.3,329.9h0M488.7,330.3h0M489.1,330.7h0M489.5,330.6h0M489.8,329.5h0M490.2,330.6h0M490.6,329.5h0M491,330.8h0M491.3,330.9h0M491.7,331h0M492.1,330.2h0M492.5,329.6h0M492.8,330.2h0M493.2,330.4h0M493.6,330.4h0M494,329.6h0M494.3,330h0M494.7,330.2h0M495.1,330.3h0M495.5,330.4h0M495.8,331.5h0M496.2,330.3h0M496.6,330.9h0M497,331.6h0M497.3,330.4h0M497.7,330.9h0M498.1,331.6h0M498.5,331.3h0M498.8,330.4h0M499.2,330h0M499.6,331.1h0M500,330.2h0M500.3,331h0M500.7,330.7h0M501.1,331h0M501.5,331.1h0M501.8,331.4h0M502.2,330h0M502.6,329.6h0M503,330.2h0M503.3,329.8h0M503.7,331.4h0M504.1,330.3h0M504.5,330h0M504.8,330.9h0M505.2,330.9h0M505.6,331.8h0M506,331.8h0M506.3,330.5h0M506.7,331h0M507.1,330.7h0M507.5,330.3h0M507.8,330.3h0M508.2,331.6h0M508.6,330.6h0M509,331.2h0M509.3,330.1h0M509.7,331.6h0M510.1,331.4h0M510.5,329.8h0M510.8,330h0M511.2,329.9h0M511.6,329.8h0M512,330.4h0M512.3,329.9h0M512.7,330.8h0M513.1,331.5h0M513.5,331.7h0M513.8,330.4h0M514.2,330.1h0M514.6,331.4h0M515,331.4h0M515.3,330.3h0M515.7,331.4h0M516.1,331.3h0M516.5,331h0M516.8,329.7h0M517.2,330.7h0M517.6,330.6h0M518,330.5h0M518.3,330.8h0M518.7,330.9h0M519.1,329.6h0" stroke="#d62728" stroke-width="2.05" stroke-linecap="round" stroke-linejoin="round" fill="none"/>
<path d="M70.2,388.2h0M70.6,388.1h0M71,388h0M71.3,388h0M71.7,388.1h0M72.1,388h0M72.5,388.1h0M72.8,388.1h0M73.2,388.1h0M73.6,387.9h0M74,388h0M74.3,388.1h0M74.7,388.1h0M75.1,388h0M75.5,388.1h0M75.8,388h0M76.2,388.1h0M76.6,388h0M77,388.2h0M77.3,388h0M77.7,388.2h0M78.1,388h0M78.5,388h0M78.8,388.1h0M79.2,388h0M79.6,388.1h0M80,387.8h0M80.3,388.1h0M80.7,388h0M81.1,388h0M81.5,388.1h0M81.8,388h0M82.2,387.8h0M82.6,388.1h0M83,388.1h0M83.3,388.1h0M83.7,388.1h0M84.1,388.2h0M84.5,388h0M84.8,388h0M85.2,388h0M85.6,388.1h0M86,388h0M86.3,388.1h0M86.7,388.1h0M87.1,388h0M87.5,388.1h0M87.8,388h0M88.2,388.1h0M88.6,388.2h0M89,388.2h0M89.3,387.9h0M89.7,388h0M90.1,388.2h0M90.5,388.2h0M90.8,388h0M91.2,388.1h0M91.6,388h0M92,388.2h0M92.3,388h0M92.7,388h0M93.1,388.1h0M93.5,387.9h0M93.8,388.1h0M94.2,388.2h0M94.6,388.1h0M95,388.2h0M95.3,387.9h0M95.7,331.4h0M95.9,333.4h0M96,332.3h0M96.1,333.5h0M96.3,338.6h0M96.4,341.4h0M96.6,343h0M96.7,343.4h0M96.8,346.2h0M97,348h0M97.1,347.5h0M97.1,347.7h0M97.2,350.5h0M97.3,348.7h0M97.4,352.1h0M97.5,348.8h0M97.6,350.6h0M97.7,346.7h0M97.9,349.4h0M98.3,347.9h0M98.4,344.4h0M98.5,342.2h0M98.6,341.1h0M98.8,335.3h0M98.9,335.1h0M98.9,330.3h0M99.1,327.4h0M99.2,321.1h0M99.4,319.6h0M99.5,315.8h0M99.5,313.7h0M99.6,310.7h0M99.7,309.2h0M99.8,307.8h0M99.8,305.7h0M100.1,301.9h0M100.2,299.2h0M100.3,300.4h0M100.6,300.8h0M100.7,301.7h0M100.9,305.1h0M101,305.9h0M101.3,313.8h0M101.5,321.3h0M101.6,323h0M101.6,325.3h0M101.7,327.8h0M101.9,334.7h0M102.1,341.3h0M102.2,345.3h0M102.3,346.3h0M102.6,354.3h0M103,358.4h0M103.1,358.3h0M103.2,358.3h0M103.3,359.2h0M103.4,358.9h0M103.6,360.9h0M103.7,359.4h0M103.7,360.3h0M103.8,360.3h0M104,358.5h0M104,358.3h0M104.3,354.5h0M104.3,353.5h0M104.4,354.5h0M104.5,351.9h0M104.6,351.3h0M104.6,348.6h0M104.7,347.2h0M104.8,345.1h0M104.9,345.3h0M105,339.4h0M105.2,334.4h0M105.3,331.2h0M105.4,328.2h0M105.5,323.6h0M105.6,321.7h0M105.7,320.5h0M105.8,317.9h0M106,310.6h0M106.1,310.5h0M106.1,308.9h0M106.4,305.6h0M106.5,306.1h0M106.6,305.9h0M106.8,303.9h0M106.9,306h0M107,307.6h0M107,307.9h0M107.1,309h0M107.3,317.6h0M107.4,316.5h0M107.5,320h0M107.7,328.5h0M107.8,331.2h0M107.9,336.2h0M108,339.7h0M108.1,339.9h0M108.2,343.4h0M108.2,346.7h0M108.5,354.3h0M108.5,354h0M108.6,355.4h0M108.9,360.4h0M109.1,362.9h0M109.3,364.5h0M109.4,364.3h0M109.4,364.1h0M109.6,364.8h0M109.7,367.6h0M109.7,365.7h0M109.8,364.5h0M109.9,363.5h0M110,364.2h0M110,364.7h0M110.1,362.7h0M110.2,363h0M110.3,361.8h0M110.3,361.7h0M110.4,360.7h0M110.5,359.7h0M110.6,357.7h0M110.7,355.8h0M110.8,353.1h0M110.9,350.1h0M111,347.9h0M111.2,341.3h0M111.4,338.2h0M111.5,334.3h0M111.6,329h0M111.8,321.7h0M112.1,314.6h0M112.2,313h0M112.4,310.3h0M112.5,305.6h0M112.6,304h0M112.8,305.6h0M113,304h0M113.1,304.7h0M113.3,309.2h0M113.5,314.2h0M113.9,328.1h0M114.2,340.7h0M114.5,348.7h0M114.6,347.4h0M114.7,347.7h0M114.9,349.5h0M115,350.7h0M115.1,349.4h0M115.2,351.8h0M116,338.4h0M116.1,335h0M116.4,331.1h0M116.5,333.2h0M116.7,329.5h0M117.1,331.6h0M117.5,330.4h0M117.8,330.7h0M118.2,331.9h0M118.6,330.3h0M119,331h0M119.3,331.5h0M119.7,331h0M120.1,330.2h0M120.5,330.7h0M120.8,330.6h0M121.2,330.5h0M121.6,329.9h0M122,331.5h0M122.3,331.1h0M122.7,330.3h0M123.1,329.5h0M123.5,329.7h0M123.8,330.8h0M124.2,329.4h0M124.6,329.5h0M125,329.9h0M125.3,331.5h0M125.7,330.3h0M126.1,330.3h0M126.5,330.2h0M126.8,330.6h0M127.2,330.9h0M127.6,330.8h0M128,331.5h0M128.3,330.3h0M128.7,331.1h0M129.1,329.3h0M129.5,331.3h0M129.8,331.4h0M130.2,331.7h0M130.6,331.2h0M131,331.4h0M131.3,331h0M131.7,329.8h0M132.1,331.4h0M132.5,332.1h0M132.8,333.7h0M133.2,331.1h0M133.6,332.5h0M134,332h0M134.3,331.5h0M134.7,333.2h0M135.1,333.8h0M135.5,331.5h0M135.8,330.2h0M136.2,329h0M136.6,327.2h0M137,327.7h0M137.3,326.4h0M137.7,327.6h0M138.1,325.7h0M138.5,326.9h0M138.8,328.7h0M139.2,329.3h0M139.6,328.9h0M140,330.3h0M140.3,331.9h0M140.7,332.3h0M141.1,332.4h0M141.5,333.6h0M141.8,334.1h0M142.2,334.2h0M142.6,335.5h0M143,331.8h0M143.3,332.1h0M143.7,332.1h0M144.1,331.4h0M144.5,330.7h0M144.8,329.5h0M145.2,328h0M145.6,327.6h0M146,327.2h0M146.3,326.2h0M146.7,326.9h0M147.1,325.8h0M147.5,327.1h0M147.8,328.8h0M148.2,328.7h0M148.6,329.4h0M149,331.3h0M149.3,331.8h0M149.7,331.1h0M150.1,332.9h0M150.5,331.9h0M150.8,330.8h0M151.2,330.7h0M151.6,331.2h0M152,330.4h0M152.3,330.6h0M152.7,329.2h0M153.1,329.4h0M153.5,330.3h0M153.8,331.4h0M154.2,330.7h0M154.6,331.2h0M155,330h0M155.3,330.2h0M155.7,330.2h0M156.1,329.4h0M156.5,330.8h0M156.8,329.2h0M157.2,330.4h0M157.6,331.2h0M158,330.5h0M158.3,331.2h0M158.7,329.9h0M159.1,330.5h0M159.5,330h0M159.8,329.4h0M160.2,331.4h0M160.6,331h0M161,330.4h0M161.3,330.3h0M161.7,330.6h0M162.1,329.7h0M162.5,331.4h0M162.8,329.7h0M163.2,331.1h0M163.6,329.7h0M164,331.5h0M164.3,331h0M164.7,331h0M165.1,330.1h0M165.5,330.5h0M165.8,330.9h0M166.2,331.5h0M166.6,330.6h0M167,331.4h0M167.3,330.6h0M167.7,330.3h0M168.1,330.8h0M168.5,330.7h0M168.8,330.7h0M169.2,330h0M169.6,330h0M170,330.5h0M170.3,331.6h0M170.7,330h0M171.1,330.3h0M171.5,330.9h0M171.8,330.8h0M172.2,331.1h0M172.6,330.4h0M173,331.4h0M173.3,331.5h0M173.7,330.9h0M174.1,331h0M174.5,330.1h0M174.8,329.6h0M175.2,329.4h0M175.6,330.4h0M176,330.1h0M176.3,330.4h0M176.7,331.2h0M177.1,330.7h0M177.5,331.4h0M177.8,331.3h0M178.2,330.2h0M178.6,331h0M179,330.3h0M179.3,331h0M179.7,330.3h0M180.1,330.6h0M180.5,330.3h0M180.8,330.4h0M181.2,330.3h0M181.6,330.5h0M182,330.1h0M182.3,331.3h0M182.7,331.3h0M183.1,331.1h0M183.5,331h0M183.8,330.5h0M184.2,330.1h0M184.6,330.4h0M185,330.6h0M185.3,330.4h0M185.7,331h0M186.1,330.7h0M186.5,330.1h0M186.8,330.5h0M187.2,330.3h0M187.6,331.2h0M188,330.2h0M188.3,331h0M188.7,330h0M189.1,330.7h0M189.5,330.9h0M189.8,331.1h0M190.2,330.6h0M190.6,331.4h0M191,331.2h0M191.3,331.3h0M191.7,330.1h0M192.1,331.2h0M192.5,331.5h0M192.8,330.1h0M193.2,330.7h0M193.6,330.6h0M194,330.3h0M194.3,331.5h0M194.7,330.3h0M195.1,330.5h0M195.5,329.8h0M195.8,330.2h0M196.2,330.1h0M196.6,330.2h0M197,329.7h0M197.3,329.5h0M197.7,330.5h0M198.1,330.8h0M198.5,331h0M198.8,330.4h0M199.2,330.1h0M199.6,331.2h0M200,329.6h0M200.3,330.9h0M200.7,330.5h0M201.1,330h0M201.5,329.9h0M201.8,330.8h0M202.2,330.5h0M202.6,330.5h0M203,330.6h0M203.3,331.1h0M203.7,330.8h0M204.1,330.7h0M204.5,330.5h0M204.8,331.3h0M205.2,330.3h0M205.6,329.6h0M206,330.9h0M206.3,330.7h0M206.7,330.8h0M207.1,331h0M207.5,330.5h0M207.8,330h0M208.2,330.3h0M208.6,330.3h0M209,331.3h0M209.3,330h0M209.7,330.5h0M210.1,330.5h0M210.5,330.4h0M210.8,330.8h0M211.2,330.2h0M211.6,330.8h0M212,331.2h0M212.3,330.1h0M212.7,331.3h0M213.1,331.1h0M213.5,331h0M213.8,331.3h0M214.2,331h0M214.6,330.5h0M215,330.7h0M215.3,330.8h0M215.7,330.4h0M216.1,330h0M216.5,331h0M216.8,330.8h0M217.2,330.2h0M217.6,329.9h0M218,331.2h0M218.3,330.9h0M218.7,330.3h0M219.1,331.5h0M219.5,330.7h0M219.8,330h0M220.2,331.4h0M220.6,331.2h0M221,330.6h0M221.3,331.3h0M221.7,330.4h0M222.1,330.5h0M222.5,330.6h0M222.8,330.8h0M223.2,331h0M223.6,330.2h0M224,331.2h0M224.3,331.2h0M224.7,330.2h0M225.1,330.3h0M225.5,330.9h0M225.8,330.9h0M226.2,330.2h0M226.6,330.8h0M227,330.7h0M227.3,330.7h0M227.7,330.9h0M228.1,329.8h0M228.5,331.3h0M228.8,331h0M229.2,331.1h0M229.6,330.4h0M230,330.3h0M230.3,331.3h0M230.7,331.2h0M231.1,330.8h0M231.5,330.2h0M231.8,330h0M232.2,330.9h0M232.6,330.6h0M233,330.9h0M233.3,330.3h0M233.7,330.3h0M234.1,330h0M234.5,329.9h0M234.8,331.3h0M235.2,330.3h0M235.6,330.7h0M236,329.9h0M236.3,330.3h0M236.7,330.3h0M237.1,330.8h0M237.5,331.1h0M237.8,330.8h0M238.2,330.6h0M238.6,329.9h0M239,331.4h0M239.3,329.9h0M239.7,331.1h0M240.1,330h0M240.5,330.3h0M240.8,330.7h0M241.2,330.8h0M241.6,330.6h0M242,331.1h0M242.3,330.1h0M242.7,329.9h0M243.1,330.5h0M243.5,330.7h0M243.8,330.6h0M244.2,330.6h0M244.6,330.6h0M245,331.2h0M245.3,330h0M245.7,329.9h0M246.1,330.5h0M246.5,329.8h0M246.8,330.6h0M247.2,330.4h0M247.6,330.5h0M248,329.7h0M248.3,331h0M248.7,329.9h0M249.1,329.8h0M249.5,331.4h0M249.8,330.4h0M250.2,330.9h0M250.6,330h0M251,329.8h0M251.3,330.5h0M251.7,331.2h0M252.1,331h0M252.5,331.2h0M252.8,330.5h0M253.2,330.7h0M253.6,330.7h0M254,330.8h0M254.3,330.2h0M254.7,330.9h0M255.1,330.1h0M255.5,330.2h0M255.8,330h0M256.2,330.1h0M256.6,329.9h0M257,330.1h0M257.3,330h0M257.7,330.9h0M258.1,330.3h0M258.5,331.2h0" stroke="#9467bd" stroke-width="2.05" stroke-linecap="round" stroke-linejoin="round" fill="none"/>
<path d="M88.3,439.3V243.1M145.5,439.3V243.1M202.7,439.3V243.1M260.0,439.3V243.1M317.2,439.3V243.1M374.4,439.3V243.1M431.6,439.3V243.1M488.8,439.3V243.1M46.4,406.8H540.7M46.4,364.8H540.7M46.4,322.8H540.7M46.4,280.8H540.7" stroke="#6c6c6c" stroke-opacity="0.6" stroke-width="0.7" stroke-dasharray="4.8 1.2 0.75 1.2" fill="none"/>
</g>
<path d="M88.3,439.3v3.4M145.5,439.3v3.4M202.7,439.3v3.4M260.0,439.3v3.4M317.2,439.3v3.4M374.4,439.3v3.4M431.6,439.3v3.4M488.8,439.3v3.4M46.4,406.8h-3.4M46.4,364.8h-3.4M46.4,322.8h-3.4M46.4,280.8h-3.4" stroke="#000" stroke-width="0.9" fill="none"/>
<rect x="46.4" y="243.1" width="494.3" height="196.2" fill="none" stroke="#000" stroke-width="0.9"/>
<text x="40.2" y="409.6" text-anchor="end" class="tk">150</text>
<text x="40.2" y="367.6" text-anchor="end" class="tk">200</text>
<text x="40.2" y="325.6" text-anchor="end" class="tk">250</text>
<text x="40.2" y="283.6" text-anchor="end" class="tk">300</text>
<text transform="translate(19.4,341.5) rotate(-90)" text-anchor="middle" class="ttl">y coord. [pixel]</text>
<rect x="436.4" y="248.3" width="98.4" height="91.2" rx="2.2" ry="2.2" fill="#fff" fill-opacity="0.8" stroke="#ccc" stroke-opacity="0.8" stroke-width="0.8"/>
<circle cx="454.8" cy="259.2" r="3.45" fill="#1f77b4"/>
<text x="476.6" y="262.9" class="lg">Person: 1</text>
<circle cx="454.8" cy="276.6" r="3.45" fill="#ff7f0e"/>
<text x="476.6" y="280.3" class="lg">Person: 2</text>
<circle cx="454.8" cy="294.0" r="3.45" fill="#2ca02c"/>
<text x="476.6" y="297.7" class="lg">Person: 3</text>
<circle cx="454.8" cy="311.4" r="3.45" fill="#d62728"/>
<text x="476.6" y="315.1" class="lg">Person: 4</text>
<circle cx="454.8" cy="328.8" r="3.45" fill="#9467bd"/>
<text x="476.6" y="332.5" class="lg">Person: 5</text>
<text x="88.3" y="451.9" text-anchor="middle" class="tk">10</text>
<text x="145.5" y="451.9" text-anchor="middle" class="tk">15</text>
<text x="202.7" y="451.9" text-anchor="middle" class="tk">20</text>
<text x="260.0" y="451.9" text-anchor="middle" class="tk">25</text>
<text x="317.2" y="451.9" text-anchor="middle" class="tk">30</text>
<text x="374.4" y="451.9" text-anchor="middle" class="tk">35</text>
<text x="431.6" y="451.9" text-anchor="middle" class="tk">40</text>
<text x="488.8" y="451.9" text-anchor="middle" class="tk">45</text>
<text x="285.5" y="464.9" text-anchor="middle" class="ttl">time [s]</text>
</svg>
</body></html>
